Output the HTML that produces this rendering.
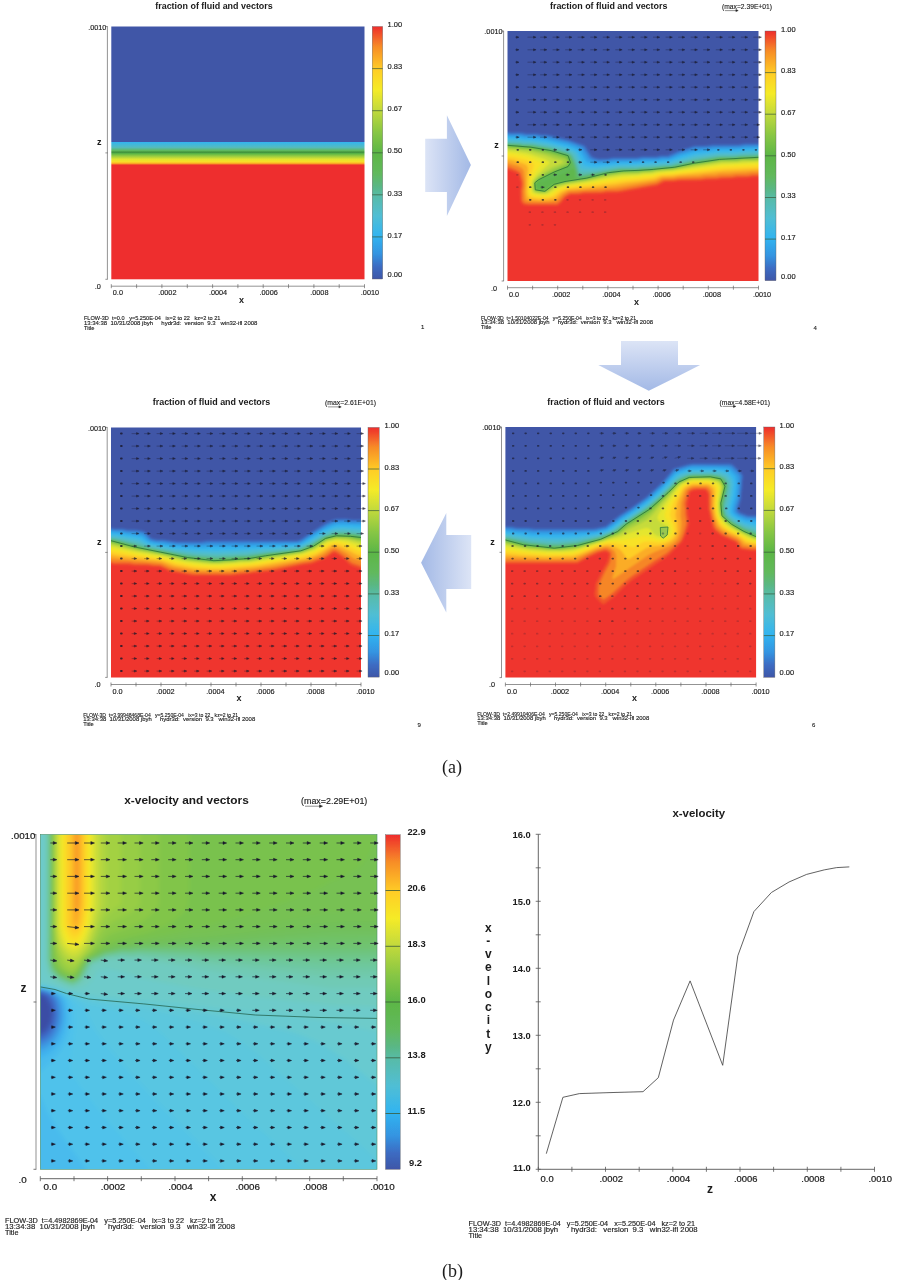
<!DOCTYPE html>
<html lang="en"><head><meta charset="utf-8"><title>Fraction of fluid and x-velocity plots</title>
<style>html,body{margin:0;padding:0;background:#fff}svg{display:block}</style></head>
<body>
<svg width="904" height="1280" viewBox="0 0 904 1280" font-family="Liberation Sans, sans-serif" fill="#1a1a1a">
<defs><filter id="bl" x="-5%" y="-5%" width="110%" height="110%"><feGaussianBlur stdDeviation="1.1"/></filter>
<filter id="bl2" x="-5%" y="-5%" width="110%" height="110%"><feGaussianBlur stdDeviation="2.2"/></filter>
<filter id="soft" x="0" y="0" width="100%" height="100%"><feGaussianBlur stdDeviation="0.35"/></filter>
<linearGradient id="g1" x1="0" y1="0" x2="0" y2="1"><stop offset="0" stop-color="#3f56a7"/><stop offset="0.455" stop-color="#3f56a7"/><stop offset="0.457" stop-color="#32b4f0"/><stop offset="0.478" stop-color="#54bcbe"/><stop offset="0.492" stop-color="#60b856"/><stop offset="0.497" stop-color="#3c8c3c"/><stop offset="0.503" stop-color="#5cb646"/><stop offset="0.512" stop-color="#94ca42"/><stop offset="0.525" stop-color="#e2e530"/><stop offset="0.536" stop-color="#fadc28"/><stop offset="0.543" stop-color="#f99a28"/><stop offset="0.548" stop-color="#ee2d2d"/><stop offset="1" stop-color="#ee2d2d"/></linearGradient>
<linearGradient id="cb1" x1="0" y1="0" x2="0" y2="1"><stop offset="0" stop-color="#ee2d2d"/><stop offset="0.08" stop-color="#f78c28"/><stop offset="0.17" stop-color="#ffcd28"/><stop offset="0.25" stop-color="#f5eb28"/><stop offset="0.33" stop-color="#c3da3c"/><stop offset="0.42" stop-color="#87c644"/><stop offset="0.5" stop-color="#5cb646"/><stop offset="0.58" stop-color="#62b95c"/><stop offset="0.63" stop-color="#5ab782"/><stop offset="0.67" stop-color="#58bba8"/><stop offset="0.75" stop-color="#50bed4"/><stop offset="0.83" stop-color="#32b4f0"/><stop offset="0.9" stop-color="#3494e1"/><stop offset="0.95" stop-color="#3c6cc3"/><stop offset="1" stop-color="#3f56a7"/></linearGradient>
<clipPath id="p2"><rect x="507.5" y="31" width="251" height="250"/></clipPath>
<linearGradient id="cbp2" x1="0" y1="0" x2="0" y2="1"><stop offset="0" stop-color="#ee2d2d"/><stop offset="0.08" stop-color="#f78c28"/><stop offset="0.17" stop-color="#ffcd28"/><stop offset="0.25" stop-color="#f5eb28"/><stop offset="0.33" stop-color="#c3da3c"/><stop offset="0.42" stop-color="#87c644"/><stop offset="0.5" stop-color="#5cb646"/><stop offset="0.58" stop-color="#62b95c"/><stop offset="0.63" stop-color="#5ab782"/><stop offset="0.67" stop-color="#58bba8"/><stop offset="0.75" stop-color="#50bed4"/><stop offset="0.83" stop-color="#32b4f0"/><stop offset="0.9" stop-color="#3494e1"/><stop offset="0.95" stop-color="#3c6cc3"/><stop offset="1" stop-color="#3f56a7"/></linearGradient>
<clipPath id="p3"><rect x="111" y="427.4" width="250" height="250"/></clipPath>
<linearGradient id="cbp3" x1="0" y1="0" x2="0" y2="1"><stop offset="0" stop-color="#ee2d2d"/><stop offset="0.08" stop-color="#f78c28"/><stop offset="0.17" stop-color="#ffcd28"/><stop offset="0.25" stop-color="#f5eb28"/><stop offset="0.33" stop-color="#c3da3c"/><stop offset="0.42" stop-color="#87c644"/><stop offset="0.5" stop-color="#5cb646"/><stop offset="0.58" stop-color="#62b95c"/><stop offset="0.63" stop-color="#5ab782"/><stop offset="0.67" stop-color="#58bba8"/><stop offset="0.75" stop-color="#50bed4"/><stop offset="0.83" stop-color="#32b4f0"/><stop offset="0.9" stop-color="#3494e1"/><stop offset="0.95" stop-color="#3c6cc3"/><stop offset="1" stop-color="#3f56a7"/></linearGradient>
<clipPath id="p4"><rect x="505.4" y="427" width="250.7" height="250.6"/></clipPath>
<linearGradient id="cbp4" x1="0" y1="0" x2="0" y2="1"><stop offset="0" stop-color="#ee2d2d"/><stop offset="0.08" stop-color="#f78c28"/><stop offset="0.17" stop-color="#ffcd28"/><stop offset="0.25" stop-color="#f5eb28"/><stop offset="0.33" stop-color="#c3da3c"/><stop offset="0.42" stop-color="#87c644"/><stop offset="0.5" stop-color="#5cb646"/><stop offset="0.58" stop-color="#62b95c"/><stop offset="0.63" stop-color="#5ab782"/><stop offset="0.67" stop-color="#58bba8"/><stop offset="0.75" stop-color="#50bed4"/><stop offset="0.83" stop-color="#32b4f0"/><stop offset="0.9" stop-color="#3494e1"/><stop offset="0.95" stop-color="#3c6cc3"/><stop offset="1" stop-color="#3f56a7"/></linearGradient>
<linearGradient id="ar1" gradientUnits="userSpaceOnUse" x1="425" y1="0" x2="471" y2="0"><stop offset="0" stop-color="#dce4f6"/><stop offset="1" stop-color="#a3b9e6"/></linearGradient>
<linearGradient id="ar2" gradientUnits="userSpaceOnUse" x1="0" y1="341" x2="0" y2="391"><stop offset="0" stop-color="#dce4f6"/><stop offset="1" stop-color="#a3b9e6"/></linearGradient>
<linearGradient id="ar3" gradientUnits="userSpaceOnUse" x1="471" y1="0" x2="421" y2="0"><stop offset="0" stop-color="#dce4f6"/><stop offset="1" stop-color="#a3b9e6"/></linearGradient>
<clipPath id="p5"><rect x="40.3" y="834.6" width="336.7" height="334.7"/></clipPath>
<linearGradient id="cb5" x1="0" y1="0" x2="0" y2="1"><stop offset="0" stop-color="#ee2d2d"/><stop offset="0.08" stop-color="#f78c28"/><stop offset="0.17" stop-color="#ffcd28"/><stop offset="0.25" stop-color="#f5eb28"/><stop offset="0.33" stop-color="#c3da3c"/><stop offset="0.42" stop-color="#87c644"/><stop offset="0.5" stop-color="#5cb646"/><stop offset="0.58" stop-color="#62b95c"/><stop offset="0.63" stop-color="#5ab782"/><stop offset="0.67" stop-color="#58bba8"/><stop offset="0.75" stop-color="#50bed4"/><stop offset="0.83" stop-color="#32b4f0"/><stop offset="0.9" stop-color="#3494e1"/><stop offset="0.95" stop-color="#3c6cc3"/><stop offset="1" stop-color="#3f56a7"/></linearGradient>
</defs>
<g filter="url(#soft)">
<rect x="111.3" y="26.5" width="253.2" height="252.8" fill="url(#g1)"/>
<path d="M107.4,26.5L107.4,279.3" stroke="#777" stroke-width="0.8" fill="none"/>
<path d="M105.4,26.5L107.7,26.5" stroke="#666" stroke-width="0.7" fill="none"/>
<path d="M105.4,152.9L107.7,152.9" stroke="#666" stroke-width="0.7" fill="none"/>
<path d="M105.4,279.3L107.7,279.3" stroke="#666" stroke-width="0.7" fill="none"/>
<path d="M111.3,286.2L364.5,286.2" stroke="#777" stroke-width="0.8" fill="none"/>
<path d="M111.3,284.2L111.3,288.2" stroke="#666" stroke-width="0.7" fill="none"/>
<path d="M136.6,284.2L136.6,288.2" stroke="#666" stroke-width="0.7" fill="none"/>
<path d="M161.9,284.2L161.9,288.2" stroke="#666" stroke-width="0.7" fill="none"/>
<path d="M187.3,284.2L187.3,288.2" stroke="#666" stroke-width="0.7" fill="none"/>
<path d="M212.6,284.2L212.6,288.2" stroke="#666" stroke-width="0.7" fill="none"/>
<path d="M237.9,284.2L237.9,288.2" stroke="#666" stroke-width="0.7" fill="none"/>
<path d="M263.2,284.2L263.2,288.2" stroke="#666" stroke-width="0.7" fill="none"/>
<path d="M288.5,284.2L288.5,288.2" stroke="#666" stroke-width="0.7" fill="none"/>
<path d="M313.9,284.2L313.9,288.2" stroke="#666" stroke-width="0.7" fill="none"/>
<path d="M339.2,284.2L339.2,288.2" stroke="#666" stroke-width="0.7" fill="none"/>
<path d="M364.5,284.2L364.5,288.2" stroke="#666" stroke-width="0.7" fill="none"/>
<text x="112.8" y="295.3" font-size="7.3" stroke="#1a1a1a" stroke-width="0.15">0.0</text>
<text x="158.2" y="295.3" font-size="7.3" stroke="#1a1a1a" stroke-width="0.15">.0002</text>
<text x="208.9" y="295.3" font-size="7.3" stroke="#1a1a1a" stroke-width="0.15">.0004</text>
<text x="259.5" y="295.3" font-size="7.3" stroke="#1a1a1a" stroke-width="0.15">.0006</text>
<text x="310.2" y="295.3" font-size="7.3" stroke="#1a1a1a" stroke-width="0.15">.0008</text>
<text x="360.8" y="295.3" font-size="7.3" stroke="#1a1a1a" stroke-width="0.15">.0010</text>
<text x="106.4" y="29.8" font-size="7.3" text-anchor="end" stroke="#1a1a1a" stroke-width="0.15">.0010</text>
<text x="100.9" y="289.1" font-size="7.3" text-anchor="end" stroke="#1a1a1a" stroke-width="0.15">.0</text>
<text x="99.3" y="145" font-size="9" font-weight="bold" text-anchor="middle">z</text>
<text x="241.4" y="302.5" font-size="9" font-weight="bold" text-anchor="middle">x</text>
<rect x="372.2" y="26.5" width="10.5" height="252.5" fill="url(#cb1)" stroke="#666" stroke-width="0.4"/>
<text x="387.5" y="27.2" font-size="7.5" stroke="#1a1a1a" stroke-width="0.15">1.00</text>
<path d="M372.2,68.6L382.7,68.6" stroke="#3a5a3a" stroke-width="0.7" fill="none"/>
<text x="387.5" y="69.3" font-size="7.5" stroke="#1a1a1a" stroke-width="0.15">0.83</text>
<path d="M372.2,110.7L382.7,110.7" stroke="#3a5a3a" stroke-width="0.7" fill="none"/>
<text x="387.5" y="111.4" font-size="7.5" stroke="#1a1a1a" stroke-width="0.15">0.67</text>
<path d="M372.2,152.8L382.7,152.8" stroke="#3a5a3a" stroke-width="0.7" fill="none"/>
<text x="387.5" y="153.4" font-size="7.5" stroke="#1a1a1a" stroke-width="0.15">0.50</text>
<path d="M372.2,194.8L382.7,194.8" stroke="#3a5a3a" stroke-width="0.7" fill="none"/>
<text x="387.5" y="195.5" font-size="7.5" stroke="#1a1a1a" stroke-width="0.15">0.33</text>
<path d="M372.2,236.9L382.7,236.9" stroke="#3a5a3a" stroke-width="0.7" fill="none"/>
<text x="387.5" y="237.6" font-size="7.5" stroke="#1a1a1a" stroke-width="0.15">0.17</text>
<text x="387.5" y="277.1" font-size="7.5" stroke="#1a1a1a" stroke-width="0.15">0.00</text>
<text x="214" y="9" font-size="9" font-weight="bold" text-anchor="middle" textLength="117.5" lengthAdjust="spacingAndGlyphs">fraction of fluid and vectors</text>
<text x="83.9" y="320.3" font-size="5.4" textLength="136.5" lengthAdjust="spacingAndGlyphs" stroke="#1a1a1a" stroke-width="0.12" style="white-space:pre">FLOW-3D  t=0.0   y=5.250E-04   ix=2 to 22   kz=2 to 21</text>
<text x="83.9" y="325.1" font-size="5.4" textLength="173.5" lengthAdjust="spacingAndGlyphs" stroke="#1a1a1a" stroke-width="0.12" style="white-space:pre">13:34:38  10/31/2008 jbyh     hydr3d:  version  9.3   win32-ifl 2008</text>
<text x="83.9" y="329.9" font-size="5.4" textLength="10.5" lengthAdjust="spacingAndGlyphs" stroke="#1a1a1a" stroke-width="0.12">Title</text>
<text x="421" y="329" font-size="6" stroke="#1a1a1a" stroke-width="0.12">1</text>
<g clip-path="url(#p2)">
<g filter="url(#bl)">
<rect x="499.5" y="23" width="267" height="266" fill="#3f56a7"/>
<path fill="#3c6cc3" d="M501.5,132.5 501.5,131.6 506.5,131.6 510.5,132.5 522.5,132.6 526.5,133.5 537.5,133.6 541.5,134.5 547.5,134.6 569.5,139.8 584.5,145.2 585.8,146.5 588.5,151.6 591.5,155.8 594.5,157.4 598.5,158.5 607.5,158.5 612.5,157.6 636.5,157.6 641.5,156.6 656.5,156.5 660.5,155.6 667.5,155.5 677.5,151.1 694.5,145.7 707.5,145.5 712.5,144.6 738.5,144.6 744.5,143.6 765.5,143.6 765.5,288.5 501.5,288.5Z"/>
<path fill="#368cdb" d="M501.5,133.5 501.5,133.1 505.5,133.1 510.5,134 521.5,134.1 525.5,135 536.5,135.1 540.5,136 547.5,136.3 569.5,141.5 583.5,146.8 590.5,157.4 593.5,159 598.5,160.2 607.5,160.1 612.5,159.1 637.5,159 642.5,158.1 656.5,158 661.5,157.1 668.5,156.9 678.5,152.5 694.5,147.3 707.5,147.1 712.5,146.2 739.5,146.1 744.5,145.1 765.5,145.1 765.5,288.5 501.5,288.5Z"/>
<path fill="#33a2e7" d="M501.5,135.5 501.5,134.5 505.5,134.6 509.5,135.4 520.5,135.6 525.5,136.5 535.5,136.6 540.5,137.6 546.5,137.8 568.5,143.1 577.5,146.3 581.8,148.5 588.5,158.9 591.5,160.6 597.5,161.9 608.5,161.6 613.5,160.7 637.5,160.5 642.5,159.6 657.5,159.4 661.5,158.5 668.5,158.4 679.5,154 695.5,149.2 708.5,148.8 713.5,147.8 734.5,147.7 740.5,147.5 745.5,146.7 765.5,146.5 765.5,288.5 501.5,288.5Z"/>
<path fill="#34b5ee" d="M501.5,136.5 504.5,136.3 511.5,137.2 520.5,137.3 524.5,138.2 534.5,138.4 545.5,139.7 567.5,144.9 575.5,147.9 579.8,150.5 585.5,160.2 587.5,162.2 595.5,164.1 608.5,163.5 617.5,162.3 636.5,162.2 643.5,161.3 657.5,160.9 662.5,160.1 669.5,159.9 680.5,155.8 693.5,152 697.5,151.3 708.5,150.8 717.5,149.6 734.5,149.5 745.5,148.6 765.5,148.2 765.5,288.5 501.5,288.5Z"/>
<path fill="#47bbdd" d="M501.5,138.5 519.5,139.4 524.5,140.3 532.5,140.4 544.5,141.9 550.5,143 567.5,147.4 573.5,149.7 577.4,152.5 583.5,164.4 584.5,165.4 588.5,166.4 594.5,166.9 618.5,164.4 636.5,164.3 643.5,163.4 669.5,161.8 694.5,154.5 717.5,151.9 734.5,151.8 746.5,150.8 765.5,150.3 765.5,288.5 501.5,288.5Z"/>
<path fill="#52bdc6" d="M501.5,140.5 504.5,140.2 511.5,141.1 519.5,141.2 524.5,142.1 532.5,142.3 549.5,144.9 568.5,149.9 572.5,151.8 575.5,154.5 578.4,160.5 580.5,167.9 582.5,169.1 586.5,169.5 595.5,169.3 619.5,166.2 636.5,166.1 670.5,163.5 694.5,156.9 718.5,153.9 734.5,153.8 745.5,152.8 765.5,152.2 765.5,288.5 501.5,288.5Z"/>
<path fill="#58bbab" d="M501.5,142.5 501.5,141.8 504.5,141.8 511.5,142.7 519.5,142.9 523.5,143.7 531.5,143.8 549.5,146.7 568.5,151.9 571.5,153.5 573.2,155.5 576.3,161.5 579.1,170.5 580.5,172 582.5,172.5 595.5,171.5 619.5,167.8 636.5,167.7 641.5,167 670.5,164.9 694.5,159 719.5,155.6 735.5,155.5 740.5,154.8 765.5,153.8 765.5,288.5 501.5,288.5Z"/>
<path fill="#5bb77e" d="M501.5,143.5 501.5,143 505.5,143 510.5,143.9 518.5,144 522.5,144.9 531.5,145.1 548.5,148 567.5,153.1 571,155.5 574.4,161.5 578.5,173.4 579.5,174.5 582.5,175.2 620.5,169 637.5,168.9 641.5,168.1 650.5,167.9 665.5,166.1 671.5,166 694.5,160.7 719.5,156.9 735.5,156.8 740.5,156 754.5,155.8 759.5,155 765.5,155 765.5,288.5 501.5,288.5Z"/>
<path fill="#62b95b" d="M501.5,144.5 501.5,143.8 505.5,143.9 510.5,144.8 518.5,144.9 522.5,145.8 530.5,145.9 548.5,149 567.5,154.3 570.1,156.5 573,162.5 575.6,168.5 577.5,176.2 578.5,177 579.5,177.1 584.5,176.8 606.5,171.9 620.5,169.9 637.5,169.8 641.5,168.9 650.5,168.8 654.5,167.9 672.5,166.7 694.5,161.8 720.5,157.8 736.5,157.7 740.5,156.9 755.5,156.7 759.5,155.9 765.5,155.8 765.5,288.5 501.5,288.5Z"/>
<path fill="#5eb74d" d="M501.5,145.5 501.5,144.6 505.5,144.6 510.5,145.5 518.5,145.6 522.5,146.5 530.5,146.7 548.5,149.9 556.5,151.9 566.5,154.8 569,156.5 571.4,162.5 571.2,164.5 569.5,167.5 555.6,173.5 549.5,177.2 545.4,178.5 540.3,181.5 540.1,182.5 540.5,182.6 549.5,178.4 563.5,173.1 572.5,168.6 573.5,168.9 574.5,171.1 574.8,174.5 574.4,177.5 576.1,178.5 578.5,178.7 584.5,177.9 606.5,172.7 613.5,171.6 621.5,170.5 637.5,170.5 641.5,169.6 650.5,169.4 654.5,168.6 672.5,167.3 695.5,162.4 699.5,162.2 720.5,158.5 736.5,158.4 740.5,157.6 755.5,157.4 759.5,156.6 765.5,156.5 765.5,288.5 501.5,288.5Z"/>
<path fill="#69bb45" d="M501.5,145.5 505.5,145.2 509.5,146.1 518.5,146.3 521.5,147.1 530.5,147.4 538.5,149.2 547.8,150.5 563.5,154.7 567.9,156.5 569.5,159.5 570.3,162.5 569.8,164.5 568.5,166.5 543.8,177.5 540.1,179.5 536.5,182.6 535.8,184.5 536.1,188.5 541.5,190.1 545.5,189.7 553.5,183.9 558.5,182.6 569.5,180.4 584.5,178.7 606.5,173.4 613.5,172.2 621.5,171.1 637.5,171 641.5,170.2 650.5,170 654.5,169.1 672.5,167.9 695.5,163.1 699.5,162.9 720.5,159.2 736.5,159 741.5,158.1 755.5,158 759.5,157.2 765.5,157.1 765.5,288.5 501.5,288.5Z"/>
<path fill="#84c544" d="M501.5,146.5 501.5,145.9 505.5,145.9 509.5,146.8 517.5,146.9 521.5,147.9 530.5,148.2 547.5,151.3 562.9,155.5 567.4,157.5 569.2,162.5 568.6,164.5 567.5,165.8 544.5,176 539.5,178.8 535.5,182.3 534.9,184.5 535.5,189.5 541.5,191.1 545.5,190.8 553.5,185.1 559.5,183.3 569.5,181.3 585.5,179.1 607.5,173.9 613.5,172.9 621.5,171.8 637.5,171.6 642.5,170.7 650.5,170.6 655.5,169.6 672.5,168.4 695.5,163.7 699.5,163.5 721.5,159.8 736.5,159.7 741.5,158.8 755.5,158.7 760.5,157.8 765.5,157.7 765.5,288.5 501.5,288.5Z"/>
<path fill="#a5d040" d="M501.5,147.5 501.5,146.7 505.5,146.8 509.5,147.6 517.5,147.9 521.5,148.8 529.5,149.1 546.5,152.7 565.8,158.5 567.5,161.5 567.3,163.5 566.5,164.5 554.5,169.7 543.5,175.2 538.5,178.3 535,181.5 534.2,183.5 534.5,189.7 535.5,190.7 541.5,192 546,191.5 553.5,186.2 559.5,184.2 569.5,182.1 585.5,179.9 607.5,174.7 614.5,173.6 622.3,172.5 638.5,172.3 642.5,171.4 651.5,171.2 655.5,170.2 672.5,169 695.5,164.5 700.5,164.1 721.5,160.5 737.5,160.4 741.5,159.5 756.5,159.4 760.5,158.5 765.5,158.5 765.5,288.5 501.5,288.5Z"/>
<path fill="#c6db3b" d="M501.5,148.5 505.5,148.3 529.5,151.1 546.1,155.5 555.5,158.9 562.2,160.5 563.3,161.5 563,162.5 561.5,163.5 552.5,167.2 543.5,172.9 538.5,176.5 533.8,181.5 533.2,185.5 533.7,190.5 535.5,191.9 540.5,192.9 546.5,192.4 554.5,187 559.5,185.2 569.5,183 585.5,180.8 608.5,175.7 622.5,173.7 638.5,173.3 642.5,172.4 651.5,172.1 655.5,171.1 666.5,169.9 672.5,169.8 695.9,165.5 721.5,161.7 737.5,161.4 742.5,160.6 756.5,160.4 760.5,159.7 765.5,159.6 765.5,288.5 501.5,288.5Z"/>
<path fill="#e5e62e" d="M501.5,150.5 515.5,151.5 528.5,153.7 544.5,159 549.3,161.5 549.8,162.5 549.4,163.5 537.5,174.4 533.5,179.4 532.4,181.5 532.1,188.5 532.6,191.5 534.5,193.1 540.5,194.1 545.5,194 547.5,193.5 555.5,188.2 565.5,184.9 586.5,181.9 608.5,177.5 622.5,175.4 638.5,174.7 643.5,173.8 652.5,173.3 657.5,172 672.5,170.8 722.5,163.4 737.5,163.1 742.5,162.4 765.5,161.3 765.5,288.5 501.5,288.5Z"/>
<path fill="#f8e228" d="M501.5,153.5 501.5,152.9 503.5,152.9 514.5,154.1 527.5,156.7 537.5,160.7 540.6,162.5 541.2,163.5 540.9,164.5 535.5,172 531.5,179.1 530.8,182.5 530.7,189.5 531.1,192.5 532.5,194.2 540.5,195.6 545.5,195.6 548.5,195 552.5,193 557.1,189.5 565.5,186.3 590.5,182.9 608.5,179.6 623.5,177.5 638.5,176.6 644.5,175.5 652.5,175 659.5,173.2 673.5,172.1 722.5,165.5 765.5,163.4 765.5,288.5 501.5,288.5Z"/>
<path fill="#fecf28" d="M501.5,156.5 501.5,155.8 503.5,155.9 514.5,157.2 526.5,160.2 532.9,163.5 533.6,164.5 533.5,166.5 529.3,179.5 529,192.5 529.6,194.5 531.5,196.2 539.5,197.4 546.5,197.3 550.3,196.5 553.5,195.2 557.5,191.8 561.5,189.6 566.5,187.7 570.5,187.1 598.5,183.8 623.5,180 652.5,176.9 661.5,174.5 672.5,173.9 722.5,168 765.5,165.9 765.5,288.5 501.5,288.5Z"/>
<path fill="#fbac28" d="M501.5,159.5 501.5,159.1 507.9,159.5 513.5,160.5 524.5,163.9 527.1,165.5 528.1,169.5 527.2,177.5 526.7,191.5 527.5,196 528.3,197.5 529.5,198.2 538.5,199.4 547.5,199.3 553.5,198.1 555.5,197.1 560.8,192.5 567.5,189.3 599.5,186.2 604.5,185.2 614.5,184.4 624.5,182.7 638.5,181.2 654.5,178.9 661.5,176.3 672.5,175.7 677.5,174.9 699.5,173.2 722.5,170.7 765.5,168.6 765.5,288.5 501.5,288.5Z"/>
<path fill="#f68628" d="M501.5,163.5 501.5,162.7 509.5,163.4 518.5,166.3 522.4,168.5 524,171.5 525.1,181.5 525.2,186.5 524.5,191.5 525.5,199.2 526.5,200.2 528.5,200.9 537.5,201.6 548.5,201.5 555.5,200.6 557.5,199.2 562.5,194.3 568.5,191.1 615.5,187.4 655.5,181.2 662.5,178.1 673.5,177.7 678.5,176.8 699.5,176 704.5,175.1 715.5,174.7 719.5,173.8 730.5,173.5 734.5,172.9 746.5,172.5 751.5,171.8 765.5,171.6 765.5,288.5 501.5,288.5Z"/>
<path fill="#f2542b" d="M501.5,166.5 506.5,166.5 510.5,167.6 516.5,169.9 520.5,172.5 523.1,182.5 523,186.5 522.2,190.5 522.6,200.5 524.5,202.7 528.5,203.6 556.5,203.4 559.4,201.5 564.5,195.8 569.5,193 578.5,192.8 583.5,191.8 601.5,191.6 606.5,190.6 617.5,190.4 656.5,183.6 663.5,180 673.5,179.8 678.5,178.9 700.5,178.6 705.5,177.7 716.5,177.5 720.5,176.7 731.5,176.5 736.5,175.6 747.5,175.5 752.5,174.6 765.5,174.5 765.5,288.5 501.5,288.5Z"/>
<path fill="#ef362d" d="M501.5,169.5 501.5,168.6 506.5,168.9 516.1,172.5 518.9,174.5 521.2,183.5 520.3,190.5 520.6,201.5 522.5,204.1 524.5,205.2 527.5,205.6 557.5,205.4 560.5,203.4 565.5,197.5 570.5,194.8 579.5,194.6 584.5,193.7 601.5,193.6 606.5,192.7 618.5,192.4 657.5,185.4 664.5,181.8 674.5,181.6 679.5,180.7 701.5,180.6 705.5,179.7 717.5,179.6 721.5,178.7 732.5,178.6 737.5,177.7 748.5,177.6 753.5,176.7 765.5,176.6 765.5,288.5 501.5,288.5Z"/>
</g>
<path d="M507.5,145.3L531,147.2L551.1,150.6L568.1,155.7L570.5,162.7L568.1,166.5L554.2,172L538.7,179.7L534.8,182.8L535.3,189.8L544.9,191.3L554.2,184.3L565,181.5L586.7,178.1L608.4,172.7L623.9,170.9L640,170.3L653.2,169.4L674.8,167.2L694.7,163.1L719.6,159.4L758.5,157.3" fill="none" stroke="#2f7a3c" stroke-width="0.9" stroke-linejoin="round"/>
</g>
<path d="M515,37.2L516.4,37.2M527.5,37.2L533.5,37.2M540.1,37.2L544.3,37.2M552.6,37.2L556.8,37.2M565.2,37.2L569.4,37.2M577.7,37.2L581.9,37.2M590.3,37.2L594.5,37.2M602.8,37.2L607,37.2M615.4,37.2L619.6,37.2M627.9,37.2L632.1,37.2M640.5,37.2L644.7,37.2M653,37.2L657.2,37.2M665.6,37.2L669.8,37.2M678.1,37.2L682.3,37.2M690.7,37.2L694.9,37.2M703.2,37.2L707.4,37.2M715.8,37.2L720,37.2M728.3,37.2L732.5,37.2M740.9,37.2L745.1,37.2M753.4,37.2L758.8,37.2M515,49.8L516.4,49.8M527.5,49.8L533.5,49.8M540.1,49.8L544.3,49.8M552.6,49.8L556.8,49.8M565.2,49.8L569.4,49.8M577.7,49.8L581.9,49.8M590.3,49.8L594.5,49.8M602.8,49.8L607,49.8M615.4,49.8L619.6,49.8M627.9,49.8L632.1,49.8M640.5,49.8L644.7,49.8M653,49.8L657.2,49.8M665.6,49.8L669.8,49.8M678.1,49.8L682.3,49.8M690.7,49.8L694.9,49.8M703.2,49.8L707.4,49.8M715.8,49.8L720,49.8M728.3,49.8L732.5,49.8M740.9,49.8L745.1,49.8M753.4,49.8L758.8,49.8M515,62.2L516.4,62.2M527.5,62.2L533.5,62.2M540.1,62.2L544.3,62.2M552.6,62.2L556.8,62.2M565.2,62.2L569.4,62.2M577.7,62.2L581.9,62.2M590.3,62.2L594.5,62.2M602.8,62.2L607,62.2M615.4,62.2L619.6,62.2M627.9,62.2L632.1,62.2M640.5,62.2L644.7,62.2M653,62.2L657.2,62.2M665.6,62.2L669.8,62.2M678.1,62.2L682.3,62.2M690.7,62.2L694.9,62.2M703.2,62.2L707.4,62.2M715.8,62.2L720,62.2M728.3,62.2L732.5,62.2M740.9,62.2L745.1,62.2M753.4,62.2L758.8,62.2M515,74.8L516.4,74.8M527.5,74.8L533.5,74.8M540.1,74.8L544.3,74.8M552.6,74.8L556.8,74.8M565.2,74.8L569.4,74.8M577.7,74.8L581.9,74.8M590.3,74.8L594.5,74.8M602.8,74.8L607,74.8M615.4,74.8L619.6,74.8M627.9,74.8L632.1,74.8M640.5,74.8L644.7,74.8M653,74.8L657.2,74.8M665.6,74.8L669.8,74.8M678.1,74.8L682.3,74.8M690.7,74.8L694.9,74.8M703.2,74.8L707.4,74.8M715.8,74.8L720,74.8M728.3,74.8L732.5,74.8M740.9,74.8L745.1,74.8M753.4,74.8L758.8,74.8M515,87.2L516.4,87.2M527.5,87.2L533.5,87.2M540.1,87.2L544.3,87.2M552.6,87.2L556.8,87.2M565.2,87.2L569.4,87.2M577.7,87.2L581.9,87.2M590.3,87.2L594.5,87.2M602.8,87.2L607,87.2M615.4,87.2L619.6,87.2M627.9,87.2L632.1,87.2M640.5,87.2L644.7,87.2M653,87.2L657.2,87.2M665.6,87.2L669.8,87.2M678.1,87.2L682.3,87.2M690.7,87.2L694.9,87.2M703.2,87.2L707.4,87.2M715.8,87.2L720,87.2M728.3,87.2L732.5,87.2M740.9,87.2L745.1,87.2M753.4,87.2L758.8,87.2M515,99.8L516.4,99.8M527.5,99.8L533.5,99.8M540.1,99.8L544.3,99.8M552.6,99.8L556.8,99.8M565.2,99.8L569.4,99.8M577.7,99.8L581.9,99.8M590.3,99.8L594.5,99.8M602.8,99.8L607,99.8M615.4,99.8L619.6,99.8M627.9,99.8L632.1,99.8M640.5,99.8L644.7,99.8M653,99.8L657.2,99.8M665.6,99.8L669.8,99.8M678.1,99.8L682.3,99.8M690.7,99.8L694.9,99.8M703.2,99.8L707.4,99.8M715.8,99.8L720,99.8M728.3,99.8L732.5,99.8M740.9,99.8L745.1,99.8M753.4,99.8L758.8,99.8M515,112.2L516.4,112.2M527.5,112.2L533.5,112.2M540.1,112.2L544.3,112.2M552.6,112.2L556.8,112.2M565.2,112.2L569.4,112.2M577.7,112.2L581.9,112.2M590.3,112.2L594.5,112.2M602.8,112.2L607,112.2M615.4,112.2L619.6,112.2M627.9,112.2L632.1,112.2M640.5,112.2L644.7,112.2M653,112.2L657.2,112.2M665.6,112.2L669.8,112.2M678.1,112.2L682.3,112.2M690.7,112.2L694.9,112.2M703.2,112.2L707.4,112.2M715.8,112.2L720,112.2M728.3,112.2L732.5,112.2M740.9,112.2L745.1,112.2M753.4,112.2L758.8,112.2M515,124.8L516.4,124.8M527.5,124.8L533.5,124.8M540.1,124.8L544.3,124.8M552.6,124.8L556.8,124.8M565.2,124.8L569.4,124.8M577.7,124.8L581.9,124.8M590.3,124.8L594.5,124.8M602.8,124.8L607,124.8M615.4,124.8L619.6,124.8M627.9,124.8L632.1,124.8M640.5,124.8L644.7,124.8M653,124.8L657.2,124.8M665.6,124.8L669.8,124.8M678.1,124.8L682.3,124.8M690.7,124.8L694.9,124.8M703.2,124.8L707.4,124.8M715.8,124.8L720,124.8M728.3,124.8L732.5,124.8M740.9,124.8L745.1,124.8M753.4,124.8L757.1,124.8M515.3,137.2L516.7,137.2M527.5,137.2L533.5,137.2M540.1,137.2L544.3,137.2M552.6,137.2L556.8,137.2M565.2,137.2L569.4,137.2M577.7,137.2L581.9,137.2M590.3,137.2L594.5,137.2M602.8,137.2L607,137.2M615.4,137.2L619.6,137.2M627.9,137.2L632.1,137.2M640.5,137.2L644.7,137.2M653,137.2L657.2,137.2M665.6,137.2L669.8,137.2M678.1,137.2L682.3,137.2M690.7,137.2L694.9,137.2M703.2,137.2L707.4,137.2M715.8,137.2L720,137.2M728.3,137.2L732.5,137.2M740.9,137.2L745.1,137.2M753.4,137.2L757.1,137.2M552.9,149.8L554.3,149.8M565.5,149.8L566.9,149.8M578,149.8L579.4,149.8M590.3,149.8L594.5,149.8M602.8,149.8L607,149.8M615.4,149.8L619.6,149.8M627.9,149.8L632.1,149.8M640.5,149.8L644.7,149.8M653,149.8L657.2,149.8M665.6,149.8L669.8,149.8M678.1,149.8L682.3,149.8M690.7,149.8L694.9,149.8M703.2,149.8L707.4,149.8M578,162.2L579.4,162.2M590.3,162.2L594.5,162.2M602.8,162.2L607,162.2M552.9,174.8L554.3,174.8M565.5,174.8L566.9,174.8M578,174.8L579.4,174.8M590.6,174.8L592,174.8M540.4,187.2L541.8,187.2" stroke="#1a1a2c" stroke-width="0.42" fill="none" opacity="0.82"/>
<path d="M519,37.2L516.4,38.2L516.4,36.2ZM536.1,37.2L533.5,38.2L533.5,36.2ZM546.9,37.2L544.3,38.2L544.3,36.2ZM559.4,37.2L556.8,38.2L556.8,36.2ZM572,37.2L569.4,38.2L569.4,36.2ZM584.5,37.2L581.9,38.2L581.9,36.2ZM597.1,37.2L594.5,38.2L594.5,36.2ZM609.6,37.2L607,38.2L607,36.2ZM622.2,37.2L619.6,38.2L619.6,36.2ZM634.7,37.2L632.1,38.2L632.1,36.2ZM647.3,37.2L644.7,38.2L644.7,36.2ZM659.8,37.2L657.2,38.2L657.2,36.2ZM672.4,37.2L669.8,38.2L669.8,36.2ZM684.9,37.2L682.3,38.2L682.3,36.2ZM697.5,37.2L694.9,38.2L694.9,36.2ZM710,37.2L707.4,38.2L707.4,36.2ZM722.6,37.2L720,38.2L720,36.2ZM735.1,37.2L732.5,38.2L732.5,36.2ZM747.7,37.2L745.1,38.2L745.1,36.2ZM761.4,37.2L758.8,38.2L758.8,36.2ZM519,49.8L516.4,50.8L516.4,48.8ZM536.1,49.8L533.5,50.8L533.5,48.8ZM546.9,49.8L544.3,50.8L544.3,48.8ZM559.4,49.8L556.8,50.8L556.8,48.8ZM572,49.8L569.4,50.8L569.4,48.8ZM584.5,49.8L581.9,50.8L581.9,48.8ZM597.1,49.8L594.5,50.8L594.5,48.8ZM609.6,49.8L607,50.8L607,48.8ZM622.2,49.8L619.6,50.8L619.6,48.8ZM634.7,49.8L632.1,50.8L632.1,48.8ZM647.3,49.8L644.7,50.8L644.7,48.8ZM659.8,49.8L657.2,50.8L657.2,48.8ZM672.4,49.8L669.8,50.8L669.8,48.8ZM684.9,49.8L682.3,50.8L682.3,48.8ZM697.5,49.8L694.9,50.8L694.9,48.8ZM710,49.8L707.4,50.8L707.4,48.8ZM722.6,49.8L720,50.8L720,48.8ZM735.1,49.8L732.5,50.8L732.5,48.8ZM747.7,49.8L745.1,50.8L745.1,48.8ZM761.4,49.8L758.8,50.8L758.8,48.8ZM519,62.2L516.4,63.2L516.4,61.2ZM536.1,62.2L533.5,63.2L533.5,61.2ZM546.9,62.2L544.3,63.2L544.3,61.2ZM559.4,62.2L556.8,63.2L556.8,61.2ZM572,62.2L569.4,63.2L569.4,61.2ZM584.5,62.2L581.9,63.2L581.9,61.2ZM597.1,62.2L594.5,63.2L594.5,61.2ZM609.6,62.2L607,63.2L607,61.2ZM622.2,62.2L619.6,63.2L619.6,61.2ZM634.7,62.2L632.1,63.2L632.1,61.2ZM647.3,62.2L644.7,63.2L644.7,61.2ZM659.8,62.2L657.2,63.2L657.2,61.2ZM672.4,62.2L669.8,63.2L669.8,61.2ZM684.9,62.2L682.3,63.2L682.3,61.2ZM697.5,62.2L694.9,63.2L694.9,61.2ZM710,62.2L707.4,63.2L707.4,61.2ZM722.6,62.2L720,63.2L720,61.2ZM735.1,62.2L732.5,63.2L732.5,61.2ZM747.7,62.2L745.1,63.2L745.1,61.2ZM761.4,62.2L758.8,63.2L758.8,61.2ZM519,74.8L516.4,75.8L516.4,73.8ZM536.1,74.8L533.5,75.8L533.5,73.8ZM546.9,74.8L544.3,75.8L544.3,73.8ZM559.4,74.8L556.8,75.8L556.8,73.8ZM572,74.8L569.4,75.8L569.4,73.8ZM584.5,74.8L581.9,75.8L581.9,73.8ZM597.1,74.8L594.5,75.8L594.5,73.8ZM609.6,74.8L607,75.8L607,73.8ZM622.2,74.8L619.6,75.8L619.6,73.8ZM634.7,74.8L632.1,75.8L632.1,73.8ZM647.3,74.8L644.7,75.8L644.7,73.8ZM659.8,74.8L657.2,75.8L657.2,73.8ZM672.4,74.8L669.8,75.8L669.8,73.8ZM684.9,74.8L682.3,75.8L682.3,73.8ZM697.5,74.8L694.9,75.8L694.9,73.8ZM710,74.8L707.4,75.8L707.4,73.8ZM722.6,74.8L720,75.8L720,73.8ZM735.1,74.8L732.5,75.8L732.5,73.8ZM747.7,74.8L745.1,75.8L745.1,73.8ZM761.4,74.8L758.8,75.8L758.8,73.8ZM519,87.2L516.4,88.2L516.4,86.2ZM536.1,87.2L533.5,88.2L533.5,86.2ZM546.9,87.2L544.3,88.2L544.3,86.2ZM559.4,87.2L556.8,88.2L556.8,86.2ZM572,87.2L569.4,88.2L569.4,86.2ZM584.5,87.2L581.9,88.2L581.9,86.2ZM597.1,87.2L594.5,88.2L594.5,86.2ZM609.6,87.2L607,88.2L607,86.2ZM622.2,87.2L619.6,88.2L619.6,86.2ZM634.7,87.2L632.1,88.2L632.1,86.2ZM647.3,87.2L644.7,88.2L644.7,86.2ZM659.8,87.2L657.2,88.2L657.2,86.2ZM672.4,87.2L669.8,88.2L669.8,86.2ZM684.9,87.2L682.3,88.2L682.3,86.2ZM697.5,87.2L694.9,88.2L694.9,86.2ZM710,87.2L707.4,88.2L707.4,86.2ZM722.6,87.2L720,88.2L720,86.2ZM735.1,87.2L732.5,88.2L732.5,86.2ZM747.7,87.2L745.1,88.2L745.1,86.2ZM761.4,87.2L758.8,88.2L758.8,86.2ZM519,99.8L516.4,100.8L516.4,98.8ZM536.1,99.8L533.5,100.8L533.5,98.8ZM546.9,99.8L544.3,100.8L544.3,98.8ZM559.4,99.8L556.8,100.8L556.8,98.8ZM572,99.8L569.4,100.8L569.4,98.8ZM584.5,99.8L581.9,100.8L581.9,98.8ZM597.1,99.8L594.5,100.8L594.5,98.8ZM609.6,99.8L607,100.8L607,98.8ZM622.2,99.8L619.6,100.8L619.6,98.8ZM634.7,99.8L632.1,100.8L632.1,98.8ZM647.3,99.8L644.7,100.8L644.7,98.8ZM659.8,99.8L657.2,100.8L657.2,98.8ZM672.4,99.8L669.8,100.8L669.8,98.8ZM684.9,99.8L682.3,100.8L682.3,98.8ZM697.5,99.8L694.9,100.8L694.9,98.8ZM710,99.8L707.4,100.8L707.4,98.8ZM722.6,99.8L720,100.8L720,98.8ZM735.1,99.8L732.5,100.8L732.5,98.8ZM747.7,99.8L745.1,100.8L745.1,98.8ZM761.4,99.8L758.8,100.8L758.8,98.8ZM519,112.2L516.4,113.2L516.4,111.2ZM536.1,112.2L533.5,113.2L533.5,111.2ZM546.9,112.2L544.3,113.2L544.3,111.2ZM559.4,112.2L556.8,113.2L556.8,111.2ZM572,112.2L569.4,113.2L569.4,111.2ZM584.5,112.2L581.9,113.2L581.9,111.2ZM597.1,112.2L594.5,113.2L594.5,111.2ZM609.6,112.2L607,113.2L607,111.2ZM622.2,112.2L619.6,113.2L619.6,111.2ZM634.7,112.2L632.1,113.2L632.1,111.2ZM647.3,112.2L644.7,113.2L644.7,111.2ZM659.8,112.2L657.2,113.2L657.2,111.2ZM672.4,112.2L669.8,113.2L669.8,111.2ZM684.9,112.2L682.3,113.2L682.3,111.2ZM697.5,112.2L694.9,113.2L694.9,111.2ZM710,112.2L707.4,113.2L707.4,111.2ZM722.6,112.2L720,113.2L720,111.2ZM735.1,112.2L732.5,113.2L732.5,111.2ZM747.7,112.2L745.1,113.2L745.1,111.2ZM761.4,112.2L758.8,113.2L758.8,111.2ZM519,124.8L516.4,125.8L516.4,123.8ZM536.1,124.8L533.5,125.8L533.5,123.8ZM546.9,124.8L544.3,125.8L544.3,123.8ZM559.4,124.8L556.8,125.8L556.8,123.8ZM572,124.8L569.4,125.8L569.4,123.8ZM584.5,124.8L581.9,125.8L581.9,123.8ZM597.1,124.8L594.5,125.8L594.5,123.8ZM609.6,124.8L607,125.8L607,123.8ZM622.2,124.8L619.6,125.8L619.6,123.8ZM634.7,124.8L632.1,125.8L632.1,123.8ZM647.3,124.8L644.7,125.8L644.7,123.8ZM659.8,124.8L657.2,125.8L657.2,123.8ZM672.4,124.8L669.8,125.8L669.8,123.8ZM684.9,124.8L682.3,125.8L682.3,123.8ZM697.5,124.8L694.9,125.8L694.9,123.8ZM710,124.8L707.4,125.8L707.4,123.8ZM722.6,124.8L720,125.8L720,123.8ZM735.1,124.8L732.5,125.8L732.5,123.8ZM747.7,124.8L745.1,125.8L745.1,123.8ZM759.7,124.8L757.1,125.8L757.1,123.8ZM519.3,137.2L516.7,138.2L516.7,136.2ZM536.1,137.2L533.5,138.2L533.5,136.2ZM546.9,137.2L544.3,138.2L544.3,136.2ZM559.4,137.2L556.8,138.2L556.8,136.2ZM572,137.2L569.4,138.2L569.4,136.2ZM584.5,137.2L581.9,138.2L581.9,136.2ZM597.1,137.2L594.5,138.2L594.5,136.2ZM609.6,137.2L607,138.2L607,136.2ZM622.2,137.2L619.6,138.2L619.6,136.2ZM634.7,137.2L632.1,138.2L632.1,136.2ZM647.3,137.2L644.7,138.2L644.7,136.2ZM659.8,137.2L657.2,138.2L657.2,136.2ZM672.4,137.2L669.8,138.2L669.8,136.2ZM684.9,137.2L682.3,138.2L682.3,136.2ZM697.5,137.2L694.9,138.2L694.9,136.2ZM710,137.2L707.4,138.2L707.4,136.2ZM722.6,137.2L720,138.2L720,136.2ZM735.1,137.2L732.5,138.2L732.5,136.2ZM747.7,137.2L745.1,138.2L745.1,136.2ZM759.7,137.2L757.1,138.2L757.1,136.2ZM556.9,149.8L554.3,150.8L554.3,148.8ZM569.5,149.8L566.9,150.8L566.9,148.8ZM582,149.8L579.4,150.8L579.4,148.8ZM597.1,149.8L594.5,150.8L594.5,148.8ZM609.6,149.8L607,150.8L607,148.8ZM622.2,149.8L619.6,150.8L619.6,148.8ZM634.7,149.8L632.1,150.8L632.1,148.8ZM647.3,149.8L644.7,150.8L644.7,148.8ZM659.8,149.8L657.2,150.8L657.2,148.8ZM672.4,149.8L669.8,150.8L669.8,148.8ZM684.9,149.8L682.3,150.8L682.3,148.8ZM697.5,149.8L694.9,150.8L694.9,148.8ZM710,149.8L707.4,150.8L707.4,148.8ZM582,162.2L579.4,163.2L579.4,161.2ZM597.1,162.2L594.5,163.2L594.5,161.2ZM609.6,162.2L607,163.2L607,161.2ZM556.9,174.8L554.3,175.8L554.3,173.8ZM569.5,174.8L566.9,175.8L566.9,173.8ZM582,174.8L579.4,175.8L579.4,173.8ZM594.6,174.8L592,175.8L592,173.8ZM544.4,187.2L541.8,188.2L541.8,186.2Z" fill="#1a1a2c" stroke="#1a1a2c" stroke-width="0.5" stroke-linejoin="round" opacity="0.82"/>
<path d="M517.4,149.8h0.7M529.9,149.8h0.7M542.5,149.8h0.7M517.4,162.2h0.7M529.9,162.2h0.7M542.5,162.2h0.7M555,162.2h0.7M567.6,162.2h0.7M529.9,174.8h0.7M542.5,174.8h0.7M605.2,174.8h0.7M529.9,187.2h0.7M555,187.2h0.7M567.6,187.2h0.7M580.1,187.2h0.7M592.7,187.2h0.7M605.2,187.2h0.7M529.9,199.8h0.7M542.5,199.8h0.7M555,199.8h0.7" stroke="#1a1a2c" stroke-width="1.8" stroke-linecap="round" fill="none" opacity="0.738"/>
<path d="M718,149.8h0.7M730.5,149.8h0.7M743.1,149.8h0.7M755.6,149.8h0.7M617.6,162.2h0.7M630.1,162.2h0.7M642.7,162.2h0.7M655.2,162.2h0.7M667.8,162.2h0.7M680.3,162.2h0.7M692.9,162.2h0.7" stroke="#1a1a2c" stroke-width="1.8" stroke-linecap="round" fill="none" opacity="0.656"/>
<path d="M517,174.8h0.7M517,187.2h0.7M567.2,199.8h0.7M579.7,199.8h0.7M592.3,199.8h0.7M604.8,199.8h0.7M529.5,212.2h0.7M542.1,212.2h0.7M554.6,212.2h0.7M567.2,212.2h0.7M579.7,212.2h0.7M592.3,212.2h0.7M604.8,212.2h0.7M529.5,224.8h0.7M542.1,224.8h0.7M554.6,224.8h0.7" stroke="#1a1a2c" stroke-width="1.8" stroke-linecap="round" fill="none" opacity="0.246"/>
<path d="M503.6,31L503.6,281" stroke="#777" stroke-width="0.8" fill="none"/>
<path d="M501.6,31L503.9,31" stroke="#666" stroke-width="0.7" fill="none"/>
<path d="M501.6,156L503.9,156" stroke="#666" stroke-width="0.7" fill="none"/>
<path d="M501.6,281L503.9,281" stroke="#666" stroke-width="0.7" fill="none"/>
<path d="M507.5,287.7L758.5,287.7" stroke="#777" stroke-width="0.8" fill="none"/>
<path d="M507.5,285.7L507.5,289.7" stroke="#666" stroke-width="0.7" fill="none"/>
<path d="M532.6,285.7L532.6,289.7" stroke="#666" stroke-width="0.7" fill="none"/>
<path d="M557.7,285.7L557.7,289.7" stroke="#666" stroke-width="0.7" fill="none"/>
<path d="M582.8,285.7L582.8,289.7" stroke="#666" stroke-width="0.7" fill="none"/>
<path d="M607.9,285.7L607.9,289.7" stroke="#666" stroke-width="0.7" fill="none"/>
<path d="M633,285.7L633,289.7" stroke="#666" stroke-width="0.7" fill="none"/>
<path d="M658.1,285.7L658.1,289.7" stroke="#666" stroke-width="0.7" fill="none"/>
<path d="M683.2,285.7L683.2,289.7" stroke="#666" stroke-width="0.7" fill="none"/>
<path d="M708.3,285.7L708.3,289.7" stroke="#666" stroke-width="0.7" fill="none"/>
<path d="M733.4,285.7L733.4,289.7" stroke="#666" stroke-width="0.7" fill="none"/>
<path d="M758.5,285.7L758.5,289.7" stroke="#666" stroke-width="0.7" fill="none"/>
<text x="509" y="296.8" font-size="7.3" stroke="#1a1a1a" stroke-width="0.15">0.0</text>
<text x="552.1" y="296.8" font-size="7.3" stroke="#1a1a1a" stroke-width="0.15">.0002</text>
<text x="602.3" y="296.8" font-size="7.3" stroke="#1a1a1a" stroke-width="0.15">.0004</text>
<text x="652.5" y="296.8" font-size="7.3" stroke="#1a1a1a" stroke-width="0.15">.0006</text>
<text x="702.7" y="296.8" font-size="7.3" stroke="#1a1a1a" stroke-width="0.15">.0008</text>
<text x="752.9" y="296.8" font-size="7.3" stroke="#1a1a1a" stroke-width="0.15">.0010</text>
<text x="502.6" y="34.3" font-size="7.3" text-anchor="end" stroke="#1a1a1a" stroke-width="0.15">.0010</text>
<text x="497.1" y="290.6" font-size="7.3" text-anchor="end" stroke="#1a1a1a" stroke-width="0.15">.0</text>
<text x="496.5" y="148" font-size="9" font-weight="bold" text-anchor="middle">z</text>
<text x="636.5" y="305.3" font-size="9" font-weight="bold" text-anchor="middle">x</text>
<rect x="765" y="31" width="11" height="249.7" fill="url(#cbp2)" stroke="#666" stroke-width="0.4"/>
<text x="781" y="31.7" font-size="7.5" stroke="#1a1a1a" stroke-width="0.15">1.00</text>
<path d="M765,72.6L776,72.6" stroke="#3a5a3a" stroke-width="0.7" fill="none"/>
<text x="781" y="73.3" font-size="7.5" stroke="#1a1a1a" stroke-width="0.15">0.83</text>
<path d="M765,114.2L776,114.2" stroke="#3a5a3a" stroke-width="0.7" fill="none"/>
<text x="781" y="114.9" font-size="7.5" stroke="#1a1a1a" stroke-width="0.15">0.67</text>
<path d="M765,155.8L776,155.8" stroke="#3a5a3a" stroke-width="0.7" fill="none"/>
<text x="781" y="156.5" font-size="7.5" stroke="#1a1a1a" stroke-width="0.15">0.50</text>
<path d="M765,197.5L776,197.5" stroke="#3a5a3a" stroke-width="0.7" fill="none"/>
<text x="781" y="198.2" font-size="7.5" stroke="#1a1a1a" stroke-width="0.15">0.33</text>
<path d="M765,239.1L776,239.1" stroke="#3a5a3a" stroke-width="0.7" fill="none"/>
<text x="781" y="239.8" font-size="7.5" stroke="#1a1a1a" stroke-width="0.15">0.17</text>
<text x="781" y="278.8" font-size="7.5" stroke="#1a1a1a" stroke-width="0.15">0.00</text>
<text x="608.7" y="8.5" font-size="9" font-weight="bold" text-anchor="middle" textLength="117.5" lengthAdjust="spacingAndGlyphs">fraction of fluid and vectors</text>
<text x="722" y="8.7" font-size="6.7" textLength="50" lengthAdjust="spacingAndGlyphs" stroke="#1a1a1a" stroke-width="0.12">(max=2.39E+01)</text>
<path d="M725,10.6L736.7,10.6M738.2,10.6L735.9,9.5L735.9,11.6Z" stroke="#222" stroke-width="0.5" fill="#222"/>
<text x="481" y="319.5" font-size="5.4" textLength="155" lengthAdjust="spacingAndGlyphs" stroke="#1a1a1a" stroke-width="0.12" style="white-space:pre">FLOW-3D  t=1.50104022E-04   y=5.250E-04   ix=3 to 22   kz=2 to 21</text>
<text x="481" y="324.2" font-size="5.4" textLength="172" lengthAdjust="spacingAndGlyphs" stroke="#1a1a1a" stroke-width="0.12" style="white-space:pre">13:34:38  10/31/2008 jbyh     hydr3d:  version  9.3   win32-ifl 2008</text>
<text x="481" y="328.9" font-size="5.4" textLength="10.5" lengthAdjust="spacingAndGlyphs" stroke="#1a1a1a" stroke-width="0.12">Title</text>
<text x="813.5" y="329.5" font-size="6" stroke="#1a1a1a" stroke-width="0.12">4</text>
<g clip-path="url(#p3)">
<g filter="url(#bl)">
<rect x="103" y="419.4" width="266" height="266" fill="#3f56a7"/>
<path fill="#3c6cc3" d="M333.3,519.5 336.5,518.7 345.5,518.6 352.5,519.6 368.5,519.6 368.5,684.5 105.5,684.5 105.5,527.6 110.5,527.6 114.5,528.5 123.5,528.6 127.5,529.5 135.5,529.6 143.5,530.8 145.5,532 151.5,538.3 157.5,539.5 163.5,539.6 176.5,541.5 200.5,541.6 206.5,540.6 296.5,540.5 300.4,539.5 320.5,526.1 327.5,522Z"/>
<path fill="#368cdb" d="M335.8,520.5 346.5,520.3 351.5,521.2 368.5,521.3 368.5,684.5 105.5,684.5 105.5,529.1 110.5,529.2 114.5,530 122.5,530.1 126.5,531 134.5,531.2 142.5,532.3 144.7,533.5 150.5,539.6 156.5,540.9 163.5,541.1 176.5,543.1 201.5,543.2 207.5,542.3 297.5,541.9 301.5,540.6 313.5,532.4 326.5,524.5Z"/>
<path fill="#33a2e7" d="M335.9,522.5 345.5,522.1 350.5,522.9 368.5,523.2 368.5,684.5 105.5,684.5 105.5,530.5 122.5,531.8 126.5,532.7 134.5,533.1 141.5,534.2 143.5,535 148,539.5 150.5,541 156.5,542.2 162.5,542.5 175.5,544.5 202.5,545.1 207.5,544.4 244.5,544.2 297.5,543.1 299.5,542.9 302.4,541.5 314.5,533.5 327.5,525.8Z"/>
<path fill="#34b5ee" d="M338.2,524.5 368.5,525.7 368.5,684.5 105.5,684.5 105.5,532.2 121.5,533.6 140.5,536.4 142.5,537.2 146.4,540.5 149.5,542.3 155.5,543.5 175.5,546.2 203.5,547.5 208.5,547 245.5,546.7 299.5,544.2 303.3,542.5 323.5,530 332.5,525.9Z"/>
<path fill="#47bbdd" d="M336.6,527.5 344.5,527.2 368.5,528.6 368.5,684.5 105.5,684.5 105.5,534.3 115.5,535 133.5,537.8 140.5,539.3 145.6,542.5 149.5,544.1 174.5,548.2 196.5,550.1 216.5,550.5 245.5,549.6 299.5,545.8 308.6,541.5 323.5,532.2 332.5,528.5Z"/>
<path fill="#52bdc6" d="M333.5,530.5 338.5,529.7 343.5,529.6 362.5,531.1 368.5,531.2 368.5,684.5 105.5,684.5 105.5,536.2 114.5,536.7 133.5,540.2 139.5,541.6 145.5,544.5 149.5,545.8 173.5,550 195.5,552.5 217.5,553.3 246.5,552.1 299.5,547.2 310.3,542.5 323.5,534.2Z"/>
<path fill="#58bbab" d="M333.5,532.5 343.5,531.7 361.5,533.4 368.5,533.4 368.5,684.5 105.5,684.5 105.5,537.8 114.5,538.3 137.5,543.2 149.5,547.1 173.5,551.6 195.5,554.6 217.5,555.8 222.5,555.2 246.5,554.4 299.5,548.5 311.5,543.5 324.5,535.4Z"/>
<path fill="#5bb77e" d="M337.8,533.5 349.5,533.6 360.5,535.1 368.5,535.2 368.5,684.5 105.5,684.5 105.5,539 113.5,539.3 148.5,548 187.5,555.5 217.5,557.9 223.5,557.1 232.5,557 237.5,556.3 247.5,556.1 268.5,552.9 280.5,551.9 300.5,549.2 311.5,544.8 324.5,536.7 334.5,533.8Z"/>
<path fill="#62b95b" d="M332.6,535.5 336.5,534.6 348.5,534.6 360.5,536.5 368.5,536.5 368.5,684.5 105.5,684.5 105.5,539.8 113.5,540.1 143.5,547.7 186.5,556.4 212.5,559.2 218.5,559.3 223.5,558.4 233.5,558.3 237.5,557.5 247.5,557.4 268.5,553.9 281.5,552.6 300.5,549.9 312,545.5 325.5,537.1Z"/>
<path fill="#5eb74d" d="M335.1,535.5 348.5,535.4 360.5,537.3 368.5,537.4 368.5,684.5 105.5,684.5 105.5,540.5 113.5,540.9 143.5,548.4 186.5,557.2 199.5,558.4 203.5,559.2 208.5,559.3 212.5,560.1 218.5,560.1 223.5,559.3 233.5,559.1 237.5,558.3 248.5,558.1 269.5,554.5 281.5,553.3 300.5,550.4 312.5,546 325.5,537.8Z"/>
<path fill="#69bb45" d="M333.8,536.5 336.5,536 348.5,536.1 359.5,538 368.5,538.2 368.5,684.5 105.5,684.5 105.5,541.2 112.5,541.3 138.5,547.9 186.5,557.8 199.5,559 202.5,559.8 208.5,560 211.5,560.7 219.5,560.8 224.5,559.9 233.5,559.8 238.5,558.9 248.5,558.8 269.5,555.1 281.5,553.9 300.5,551 312.5,546.7 325.5,538.4Z"/>
<path fill="#84c544" d="M331.8,537.5 336.5,536.6 347.5,536.7 359.5,538.8 368.5,539 368.5,684.5 105.5,684.5 105.5,541.8 112.5,542 137.5,548.3 186.5,558.5 199.5,559.7 202.5,560.4 208.5,560.6 211.5,561.4 219.5,561.4 224.5,560.5 234.5,560.4 238.5,559.5 248.5,559.4 269.5,555.7 281.5,554.5 301.5,551.3 312.5,547.3 325.5,539.1Z"/>
<path fill="#a5d040" d="M335,537.5 347.5,537.5 359.5,539.8 368.5,540.2 368.5,684.5 105.5,684.5 105.5,542.7 112.5,542.9 137.5,549.2 150.5,551.4 185.5,559 193.5,560.2 199.5,560.4 202.5,561.2 208.5,561.3 211.5,562.1 219.5,562.1 224.5,561.2 234.5,561.1 238.5,560.2 248.5,560.1 269.5,556.4 281.5,555.1 301.5,551.9 312.5,548 326.3,539.5Z"/>
<path fill="#c6db3b" d="M334.8,538.5 338.5,538.2 347.5,538.8 359.5,541.6 368.5,542.2 368.5,684.5 105.5,684.5 105.5,544 111.5,544.2 137.5,550.2 164.5,555.1 185.5,560 211.5,562.9 219.5,563 224.5,562.2 234.5,561.9 239.5,561.1 248.5,560.9 301.5,552.7 313.5,548.5 326.5,540.4Z"/>
<path fill="#e5e62e" d="M336.9,539.5 347.5,540.7 360.5,544.4 368.5,545 368.5,684.5 105.5,684.5 105.5,546.1 111.5,546.3 136.5,551.6 163.5,556.1 185.5,561.3 210.5,564 220.5,564.1 240.5,562.2 249.5,561.9 302.5,553.6 314.5,549.4 327.5,541.5Z"/>
<path fill="#f8e228" d="M334.5,541.5 337.5,541.2 342.5,542 347.5,543.2 359.5,547.5 368.5,548.4 368.5,684.5 105.5,684.5 105.5,548.5 110.5,548.6 136.5,553.5 163.3,557.5 175.5,561 184.5,562.9 201.5,564.9 220.5,565.6 249.5,563.4 302.5,555.1 314.5,551.2 327.5,543.3 331.5,541.9Z"/>
<path fill="#fecf28" d="M332.9,543.5 337.5,543.3 340.5,543.9 346.5,545.7 358.5,551.1 368.5,552.2 368.5,684.5 105.5,684.5 105.5,551.3 110.5,551.5 136.5,555.8 162.5,559.1 175.5,563.1 193.5,566.2 210.5,567.4 221.5,567.4 256.5,564.3 303.5,556.6 315.5,552.8 322.5,549.1 328.5,545Z"/>
<path fill="#fbac28" d="M333.3,545.5 337.5,545.7 342.8,547.5 356.5,554.8 363.5,556.4 368.5,556.5 368.5,684.5 105.5,684.5 105.5,554.5 110.5,554.6 116.5,555.8 161.5,560.8 174.5,565.2 193.5,568.5 210.5,569.4 222.5,569.4 257.5,566.3 304.1,558.5 310.5,556.9 316.5,554.7 323.5,551.1 330.3,546.5Z"/>
<path fill="#f68628" d="M331.5,548.5 334.5,547.7 338.5,548.9 346.5,553.2 352.5,557.7 355.5,559.2 362.5,561 368.5,561.3 368.5,684.5 105.5,684.5 105.5,557.9 161.5,562.9 171.5,567.1 193.5,571.1 210.5,571.6 230.5,571.4 243.5,569.7 249.5,569.5 273.5,566.3 310.5,559.4 322.5,554.5Z"/>
<path fill="#f2542b" d="M333,550.5 335.5,550.5 339.5,552.8 344.5,556.2 350.5,561.8 352.5,563 361.5,565.9 368.5,566.1 368.5,684.5 105.5,684.5 105.5,561.4 110.5,561.5 114.5,562.4 129.5,562.6 134.5,563.6 148.5,563.8 153.5,564.8 160.5,564.9 170.5,569.6 193.5,573.7 231.5,573.7 235.5,572.9 250.5,571.7 253.5,570.9 259.5,570.6 262.5,569.9 274.5,568.6 301.5,563 311.5,561.6 325.5,555.9Z"/>
<path fill="#ef362d" d="M332,553.5 334.5,552.6 336.5,553.4 343.5,558.4 349.5,564.3 351.5,565.4 360.5,568.4 368.5,568.6 368.5,684.5 105.5,684.5 105.5,563.6 109.5,563.7 113.5,564.6 128.5,564.7 133.5,565.6 147.5,565.7 152.5,566.6 159.5,566.8 162,567.5 169.5,571.5 192.5,575.6 231.5,575.7 275.5,570.5 301.5,565 312.5,563.5 325.5,558.3Z"/>
</g>
<path d="M111,540.7L134.2,546.9L160.8,552.2L187.3,557.5L213.9,560.7L230,559.9L250,558.4L265.4,555.8L300.8,550.8L313.2,546.4L325.6,538.4L336.2,535.8L350.4,536.3L361,537.5" fill="none" stroke="#2f7a3c" stroke-width="0.9" stroke-linejoin="round"/>
</g>
<path d="M131.6,433.6L136.5,433.6M144.1,433.6L147.8,433.6M156.6,433.6L160.3,433.6M169.1,433.6L172.8,433.6M181.6,433.6L185.3,433.6M194.1,433.6L197.8,433.6M206.6,433.6L210.3,433.6M219.1,433.6L222.8,433.6M231.6,433.6L235.3,433.6M244.1,433.6L247.8,433.6M256.6,433.6L260.2,433.6M269.1,433.6L272.8,433.6M281.6,433.6L285.2,433.6M294.1,433.6L297.8,433.6M306.6,433.6L310.2,433.6M319.1,433.6L322.8,433.6M331.6,433.6L335.2,433.6M344.1,433.6L347.8,433.6M356.6,433.6L360.9,433.6M131.6,446.1L136.5,446.1M144.1,446.1L147.8,446.1M156.6,446.1L160.3,446.1M169.1,446.1L172.8,446.1M181.6,446.1L185.3,446.1M194.1,446.1L197.8,446.1M206.6,446.1L210.3,446.1M219.1,446.1L222.8,446.1M231.6,446.1L235.3,446.1M244.1,446.1L247.8,446.1M256.6,446.1L260.2,446.1M269.1,446.1L272.8,446.1M281.6,446.1L285.2,446.1M294.1,446.1L297.8,446.1M306.6,446.1L310.2,446.1M319.1,446.1L322.8,446.1M331.6,446.1L335.2,446.1M344.1,446.1L347.8,446.1M356.6,446.1L360.9,446.1M131.6,458.6L136.5,458.6M144.1,458.6L147.8,458.6M156.6,458.6L160.3,458.6M169.1,458.6L172.8,458.6M181.6,458.6L185.3,458.6M194.1,458.6L197.8,458.6M206.6,458.6L210.3,458.6M219.1,458.6L222.8,458.6M231.6,458.6L235.3,458.6M244.1,458.6L247.8,458.6M256.6,458.6L260.2,458.6M269.1,458.6L272.8,458.6M281.6,458.6L285.2,458.6M294.1,458.6L297.8,458.6M306.6,458.6L310.2,458.6M319.1,458.6L322.8,458.6M331.6,458.6L335.2,458.6M344.1,458.6L347.8,458.6M356.6,458.6L360.9,458.6M131.6,471.1L136.5,471.1M144.1,471.1L147.8,471.1M156.6,471.1L160.3,471.1M169.1,471.1L172.8,471.1M181.6,471.1L185.3,471.1M194.1,471.1L197.8,471.1M206.6,471.1L210.3,471.1M219.1,471.1L222.8,471.1M231.6,471.1L235.3,471.1M244.1,471.1L247.8,471.1M256.6,471.1L260.2,471.1M269.1,471.1L272.8,471.1M281.6,471.1L285.2,471.1M294.1,471.1L297.8,471.1M306.6,471.1L310.2,471.1M319.1,471.1L322.8,471.1M331.6,471.1L335.2,471.1M344.1,471.1L347.8,471.1M356.6,471.1L360.9,471.1M131.6,483.6L136.5,483.6M144.1,483.6L147.8,483.6M156.6,483.6L160.3,483.6M169.1,483.6L172.8,483.6M181.6,483.6L185.3,483.6M194.1,483.6L197.8,483.6M206.6,483.6L210.3,483.6M219.1,483.6L222.8,483.6M231.6,483.6L235.3,483.6M244.1,483.6L247.8,483.6M256.6,483.6L260.2,483.6M269.1,483.6L272.8,483.6M281.6,483.6L285.2,483.6M294.1,483.6L297.8,483.6M306.6,483.6L310.2,483.6M319.1,483.6L322.8,483.6M331.6,483.6L335.2,483.6M344.1,483.6L347.8,483.6M356.6,483.6L362.8,483.6M131.6,496.1L136.5,496.1M144.1,496.1L147.8,496.1M156.6,496.1L160.3,496.1M169.1,496.1L172.8,496.1M181.6,496.1L185.3,496.1M194.1,496.1L197.8,496.1M206.6,496.1L210.3,496.1M219.1,496.1L222.8,496.1M231.6,496.1L235.3,496.1M244.1,496.1L247.8,496.1M256.6,496.1L260.2,496.1M269.1,496.1L272.8,496.1M281.6,496.1L285.2,496.1M294.1,496.1L297.8,496.1M306.6,496.1L310.2,496.1M319.1,496.1L322.8,496.1M331.6,496.1L335.2,496.1M344.1,496.1L347.8,496.1M356.6,496.1L362.8,496.1M131.6,508.6L136.5,508.6M144.1,508.6L147.8,508.6M156.6,508.6L160.3,508.6M169.1,508.6L172.8,508.6M181.6,508.6L185.3,508.6M194.1,508.6L197.8,508.6M206.6,508.6L210.3,508.6M219.1,508.6L222.8,508.6M231.6,508.6L235.3,508.6M244.1,508.6L247.8,508.6M256.6,508.6L260.2,508.6M269.1,508.6L272.8,508.6M281.6,508.6L285.2,508.6M294.1,508.6L297.8,508.6M306.6,508.6L310.2,508.6M319.1,508.6L322.8,508.6M331.6,508.6L335.2,508.6M344.1,508.6L347.8,508.6M356.6,508.6L362.8,508.6M131.6,521.1L136.5,521.1M144.1,521.1L147.8,521.1M156.6,521.1L160.3,521.1M169.1,521.1L172.8,521.1M181.6,521.1L185.3,521.1M194.1,521.1L197.8,521.1M206.6,521.1L210.3,521.1M219.1,521.1L222.8,521.1M231.6,521.1L235.3,521.1M244.1,521.1L247.8,521.1M256.6,521.1L260.2,521.1M269.1,521.1L272.8,521.1M281.6,521.1L285.2,521.1M294.1,521.1L297.8,521.1M306.6,521.1L310.2,521.1M319.1,521.1L322.8,521.1M331.6,521.1L335.2,521.1M344.1,521.1L347.8,521.1M356.6,521.1L362.8,521.1M131.6,533.6L136.5,533.6M144.1,533.6L147.8,533.6M156.6,533.6L160.3,533.6M169.1,533.6L172.8,533.6M181.6,533.6L185.3,533.6M194.1,533.6L197.8,533.6M206.6,533.6L210.3,533.6M219.1,533.6L222.8,533.6M231.6,533.6L235.3,533.6M244.1,533.6L247.8,533.6M256.6,533.6L260.2,533.6M269.1,533.6L272.8,533.6M281.6,533.6L285.2,533.6M294.1,533.6L297.8,533.6M306.6,533.6L310.2,533.6M319.1,533.6L322.8,533.6M331.6,533.6L335.2,533.6M344.1,533.6L347.8,533.6M356.6,533.6L360.9,533.6M131.6,546.1L134.2,546.1M144.1,546.1L147.8,546.1M156.6,546.1L160.3,546.1M169.1,546.1L172.8,546.1M181.6,546.1L185.3,546.1M194.1,546.1L197.8,546.1M206.6,546.1L210.3,546.1M219.1,546.1L222.8,546.1M231.6,546.1L235.3,546.1M244.1,546.1L247.8,546.1M256.6,546.1L260.2,546.1M269.1,546.1L272.8,546.1M281.6,546.1L285.2,546.1M294.1,546.1L297.8,546.1M306.6,546.1L310.2,546.1M319.1,546.1L321.6,546.1M331.6,546.1L334.1,546.1M344.1,546.1L346.6,546.1M356.6,546.1L359.4,546.1M131.6,558.6L134.2,558.6M144.1,558.6L146.7,558.6M156.6,558.6L159.2,558.6M169.1,558.6L171.7,558.6M181.6,558.6L184.2,558.6M194.1,558.6L197.8,558.6M206.6,558.6L210.3,558.6M219.1,558.6L222.8,558.6M231.6,558.6L235.3,558.6M244.1,558.6L247.8,558.6M256.6,558.6L259.1,558.6M269.1,558.6L271.6,558.6M281.6,558.6L284.1,558.6M294.1,558.6L296.6,558.6M306.6,558.6L309.1,558.6M319.1,558.6L321.6,558.6M331.6,558.6L334.1,558.6M344.1,558.6L346.6,558.6M356.6,558.6L359.4,558.6M131.6,571.1L134.2,571.1M144.1,571.1L146.7,571.1M156.6,571.1L159.2,571.1M169.1,571.1L171.7,571.1M181.6,571.1L184.2,571.1M194.1,571.1L196.7,571.1M206.6,571.1L209.2,571.1M219.1,571.1L221.7,571.1M231.6,571.1L234.2,571.1M244.1,571.1L246.7,571.1M256.6,571.1L259.1,571.1M269.1,571.1L271.6,571.1M281.6,571.1L284.1,571.1M294.1,571.1L296.6,571.1M306.6,571.1L309.1,571.1M319.1,571.1L321.6,571.1M331.6,571.1L334.1,571.1M344.1,571.1L346.6,571.1M356.6,571.1L359.4,571.1M131.6,583.6L134.2,583.6M144.1,583.6L146.7,583.6M156.6,583.6L159.2,583.6M169.1,583.6L171.7,583.6M181.6,583.6L184.2,583.6M194.1,583.6L196.7,583.6M206.6,583.6L209.2,583.6M219.1,583.6L221.7,583.6M231.6,583.6L234.2,583.6M244.1,583.6L246.7,583.6M256.6,583.6L259.1,583.6M269.1,583.6L271.6,583.6M281.6,583.6L284.1,583.6M294.1,583.6L296.6,583.6M306.6,583.6L309.1,583.6M319.1,583.6L321.6,583.6M331.6,583.6L334.1,583.6M344.1,583.6L346.6,583.6M356.6,583.6L359.4,583.6M131.6,596.1L134.2,596.1M144.1,596.1L146.7,596.1M156.6,596.1L159.2,596.1M169.1,596.1L171.7,596.1M181.6,596.1L184.2,596.1M194.1,596.1L196.7,596.1M206.6,596.1L209.2,596.1M219.1,596.1L221.7,596.1M231.6,596.1L234.2,596.1M244.1,596.1L246.7,596.1M256.6,596.1L259.1,596.1M269.1,596.1L271.6,596.1M281.6,596.1L284.1,596.1M294.1,596.1L296.6,596.1M306.6,596.1L309.1,596.1M319.1,596.1L321.6,596.1M331.6,596.1L334.1,596.1M344.1,596.1L346.6,596.1M356.6,596.1L359.4,596.1M131.6,608.6L134.2,608.6M144.1,608.6L146.7,608.6M156.6,608.6L159.2,608.6M169.1,608.6L171.7,608.6M181.6,608.6L184.2,608.6M194.1,608.6L196.7,608.6M206.6,608.6L209.2,608.6M219.1,608.6L221.7,608.6M231.6,608.6L234.2,608.6M244.1,608.6L246.7,608.6M256.6,608.6L259.1,608.6M269.1,608.6L271.6,608.6M281.6,608.6L284.1,608.6M294.1,608.6L296.6,608.6M306.6,608.6L309.1,608.6M319.1,608.6L321.6,608.6M331.6,608.6L334.1,608.6M344.1,608.6L346.6,608.6M356.6,608.6L359.4,608.6M131.6,621.1L134.2,621.1M144.1,621.1L146.7,621.1M156.6,621.1L159.2,621.1M169.1,621.1L171.7,621.1M181.6,621.1L184.2,621.1M194.1,621.1L196.7,621.1M206.6,621.1L209.2,621.1M219.1,621.1L221.7,621.1M231.6,621.1L234.2,621.1M244.1,621.1L246.7,621.1M256.6,621.1L259.1,621.1M269.1,621.1L271.6,621.1M281.6,621.1L284.1,621.1M294.1,621.1L296.6,621.1M306.6,621.1L309.1,621.1M319.1,621.1L321.6,621.1M331.6,621.1L334.1,621.1M344.1,621.1L346.6,621.1M356.6,621.1L359.4,621.1M131.6,633.6L134.2,633.6M144.1,633.6L146.7,633.6M156.6,633.6L159.2,633.6M169.1,633.6L171.7,633.6M181.6,633.6L184.2,633.6M194.1,633.6L196.7,633.6M206.6,633.6L209.2,633.6M219.1,633.6L221.7,633.6M231.6,633.6L234.2,633.6M244.1,633.6L246.7,633.6M256.6,633.6L259.1,633.6M269.1,633.6L271.6,633.6M281.6,633.6L284.1,633.6M294.1,633.6L296.6,633.6M306.6,633.6L309.1,633.6M319.1,633.6L321.6,633.6M331.6,633.6L334.1,633.6M344.1,633.6L346.6,633.6M356.6,633.6L359.4,633.6M131.6,646.1L134.2,646.1M144.1,646.1L146.7,646.1M156.6,646.1L159.2,646.1M169.1,646.1L171.7,646.1M181.6,646.1L184.2,646.1M194.1,646.1L196.7,646.1M206.6,646.1L209.2,646.1M219.1,646.1L221.7,646.1M231.6,646.1L234.2,646.1M244.1,646.1L246.7,646.1M256.6,646.1L259.1,646.1M269.1,646.1L271.6,646.1M281.6,646.1L284.1,646.1M294.1,646.1L296.6,646.1M306.6,646.1L309.1,646.1M319.1,646.1L321.6,646.1M331.6,646.1L334.1,646.1M344.1,646.1L346.6,646.1M356.6,646.1L359.4,646.1M131.6,658.6L134.2,658.6M144.1,658.6L146.7,658.6M156.6,658.6L159.2,658.6M169.1,658.6L171.7,658.6M181.6,658.6L184.2,658.6M194.1,658.6L196.7,658.6M206.6,658.6L209.2,658.6M219.1,658.6L221.7,658.6M231.6,658.6L234.2,658.6M244.1,658.6L246.7,658.6M256.6,658.6L259.1,658.6M269.1,658.6L271.6,658.6M281.6,658.6L284.1,658.6M294.1,658.6L296.6,658.6M306.6,658.6L309.1,658.6M319.1,658.6L321.6,658.6M331.6,658.6L334.1,658.6M344.1,658.6L346.6,658.6M356.6,658.6L359.4,658.6M131.6,671.1L134.2,671.1M144.1,671.1L146.7,671.1M156.6,671.1L159.2,671.1M169.1,671.1L171.7,671.1M181.6,671.1L184.2,671.1M194.1,671.1L196.7,671.1M206.6,671.1L209.2,671.1M219.1,671.1L221.7,671.1M231.6,671.1L234.2,671.1M244.1,671.1L246.7,671.1M256.6,671.1L259.1,671.1M269.1,671.1L271.6,671.1M281.6,671.1L284.1,671.1M294.1,671.1L296.6,671.1M306.6,671.1L309.1,671.1M319.1,671.1L321.6,671.1M331.6,671.1L334.1,671.1M344.1,671.1L346.6,671.1M356.6,671.1L359.4,671.1" stroke="#1a1a2c" stroke-width="0.42" fill="none" opacity="0.82"/>
<path d="M139.1,433.6L136.5,434.6L136.5,432.6ZM150.4,433.6L147.8,434.6L147.8,432.6ZM162.9,433.6L160.3,434.6L160.3,432.6ZM175.4,433.6L172.8,434.6L172.8,432.6ZM187.9,433.6L185.3,434.6L185.3,432.6ZM200.4,433.6L197.8,434.6L197.8,432.6ZM212.9,433.6L210.3,434.6L210.3,432.6ZM225.4,433.6L222.8,434.6L222.8,432.6ZM237.9,433.6L235.3,434.6L235.3,432.6ZM250.4,433.6L247.8,434.6L247.8,432.6ZM262.9,433.6L260.2,434.6L260.2,432.6ZM275.4,433.6L272.8,434.6L272.8,432.6ZM287.9,433.6L285.2,434.6L285.2,432.6ZM300.4,433.6L297.8,434.6L297.8,432.6ZM312.9,433.6L310.2,434.6L310.2,432.6ZM325.4,433.6L322.8,434.6L322.8,432.6ZM337.9,433.6L335.2,434.6L335.2,432.6ZM350.4,433.6L347.8,434.6L347.8,432.6ZM363.6,433.6L360.9,434.6L360.9,432.6ZM139.1,446.1L136.5,447.1L136.5,445.1ZM150.4,446.1L147.8,447.1L147.8,445.1ZM162.9,446.1L160.3,447.1L160.3,445.1ZM175.4,446.1L172.8,447.1L172.8,445.1ZM187.9,446.1L185.3,447.1L185.3,445.1ZM200.4,446.1L197.8,447.1L197.8,445.1ZM212.9,446.1L210.3,447.1L210.3,445.1ZM225.4,446.1L222.8,447.1L222.8,445.1ZM237.9,446.1L235.3,447.1L235.3,445.1ZM250.4,446.1L247.8,447.1L247.8,445.1ZM262.9,446.1L260.2,447.1L260.2,445.1ZM275.4,446.1L272.8,447.1L272.8,445.1ZM287.9,446.1L285.2,447.1L285.2,445.1ZM300.4,446.1L297.8,447.1L297.8,445.1ZM312.9,446.1L310.2,447.1L310.2,445.1ZM325.4,446.1L322.8,447.1L322.8,445.1ZM337.9,446.1L335.2,447.1L335.2,445.1ZM350.4,446.1L347.8,447.1L347.8,445.1ZM363.6,446.1L360.9,447.1L360.9,445.1ZM139.1,458.6L136.5,459.6L136.5,457.6ZM150.4,458.6L147.8,459.6L147.8,457.6ZM162.9,458.6L160.3,459.6L160.3,457.6ZM175.4,458.6L172.8,459.6L172.8,457.6ZM187.9,458.6L185.3,459.6L185.3,457.6ZM200.4,458.6L197.8,459.6L197.8,457.6ZM212.9,458.6L210.3,459.6L210.3,457.6ZM225.4,458.6L222.8,459.6L222.8,457.6ZM237.9,458.6L235.3,459.6L235.3,457.6ZM250.4,458.6L247.8,459.6L247.8,457.6ZM262.9,458.6L260.2,459.6L260.2,457.6ZM275.4,458.6L272.8,459.6L272.8,457.6ZM287.9,458.6L285.2,459.6L285.2,457.6ZM300.4,458.6L297.8,459.6L297.8,457.6ZM312.9,458.6L310.2,459.6L310.2,457.6ZM325.4,458.6L322.8,459.6L322.8,457.6ZM337.9,458.6L335.2,459.6L335.2,457.6ZM350.4,458.6L347.8,459.6L347.8,457.6ZM363.6,458.6L360.9,459.6L360.9,457.6ZM139.1,471.1L136.5,472.1L136.5,470.1ZM150.4,471.1L147.8,472.1L147.8,470.1ZM162.9,471.1L160.3,472.1L160.3,470.1ZM175.4,471.1L172.8,472.1L172.8,470.1ZM187.9,471.1L185.3,472.1L185.3,470.1ZM200.4,471.1L197.8,472.1L197.8,470.1ZM212.9,471.1L210.3,472.1L210.3,470.1ZM225.4,471.1L222.8,472.1L222.8,470.1ZM237.9,471.1L235.3,472.1L235.3,470.1ZM250.4,471.1L247.8,472.1L247.8,470.1ZM262.9,471.1L260.2,472.1L260.2,470.1ZM275.4,471.1L272.8,472.1L272.8,470.1ZM287.9,471.1L285.2,472.1L285.2,470.1ZM300.4,471.1L297.8,472.1L297.8,470.1ZM312.9,471.1L310.2,472.1L310.2,470.1ZM325.4,471.1L322.8,472.1L322.8,470.1ZM337.9,471.1L335.2,472.1L335.2,470.1ZM350.4,471.1L347.8,472.1L347.8,470.1ZM363.6,471.1L360.9,472.1L360.9,470.1ZM139.1,483.6L136.5,484.6L136.5,482.6ZM150.4,483.6L147.8,484.6L147.8,482.6ZM162.9,483.6L160.3,484.6L160.3,482.6ZM175.4,483.6L172.8,484.6L172.8,482.6ZM187.9,483.6L185.3,484.6L185.3,482.6ZM200.4,483.6L197.8,484.6L197.8,482.6ZM212.9,483.6L210.3,484.6L210.3,482.6ZM225.4,483.6L222.8,484.6L222.8,482.6ZM237.9,483.6L235.3,484.6L235.3,482.6ZM250.4,483.6L247.8,484.6L247.8,482.6ZM262.9,483.6L260.2,484.6L260.2,482.6ZM275.4,483.6L272.8,484.6L272.8,482.6ZM287.9,483.6L285.2,484.6L285.2,482.6ZM300.4,483.6L297.8,484.6L297.8,482.6ZM312.9,483.6L310.2,484.6L310.2,482.6ZM325.4,483.6L322.8,484.6L322.8,482.6ZM337.9,483.6L335.2,484.6L335.2,482.6ZM350.4,483.6L347.8,484.6L347.8,482.6ZM365.4,483.6L362.8,484.6L362.8,482.6ZM139.1,496.1L136.5,497.1L136.5,495.1ZM150.4,496.1L147.8,497.1L147.8,495.1ZM162.9,496.1L160.3,497.1L160.3,495.1ZM175.4,496.1L172.8,497.1L172.8,495.1ZM187.9,496.1L185.3,497.1L185.3,495.1ZM200.4,496.1L197.8,497.1L197.8,495.1ZM212.9,496.1L210.3,497.1L210.3,495.1ZM225.4,496.1L222.8,497.1L222.8,495.1ZM237.9,496.1L235.3,497.1L235.3,495.1ZM250.4,496.1L247.8,497.1L247.8,495.1ZM262.9,496.1L260.2,497.1L260.2,495.1ZM275.4,496.1L272.8,497.1L272.8,495.1ZM287.9,496.1L285.2,497.1L285.2,495.1ZM300.4,496.1L297.8,497.1L297.8,495.1ZM312.9,496.1L310.2,497.1L310.2,495.1ZM325.4,496.1L322.8,497.1L322.8,495.1ZM337.9,496.1L335.2,497.1L335.2,495.1ZM350.4,496.1L347.8,497.1L347.8,495.1ZM365.4,496.1L362.8,497.1L362.8,495.1ZM139.1,508.6L136.5,509.6L136.5,507.6ZM150.4,508.6L147.8,509.6L147.8,507.6ZM162.9,508.6L160.3,509.6L160.3,507.6ZM175.4,508.6L172.8,509.6L172.8,507.6ZM187.9,508.6L185.3,509.6L185.3,507.6ZM200.4,508.6L197.8,509.6L197.8,507.6ZM212.9,508.6L210.3,509.6L210.3,507.6ZM225.4,508.6L222.8,509.6L222.8,507.6ZM237.9,508.6L235.3,509.6L235.3,507.6ZM250.4,508.6L247.8,509.6L247.8,507.6ZM262.9,508.6L260.2,509.6L260.2,507.6ZM275.4,508.6L272.8,509.6L272.8,507.6ZM287.9,508.6L285.2,509.6L285.2,507.6ZM300.4,508.6L297.8,509.6L297.8,507.6ZM312.9,508.6L310.2,509.6L310.2,507.6ZM325.4,508.6L322.8,509.6L322.8,507.6ZM337.9,508.6L335.2,509.6L335.2,507.6ZM350.4,508.6L347.8,509.6L347.8,507.6ZM365.4,508.6L362.8,509.6L362.8,507.6ZM139.1,521.1L136.5,522.1L136.5,520.1ZM150.4,521.1L147.8,522.1L147.8,520.1ZM162.9,521.1L160.3,522.1L160.3,520.1ZM175.4,521.1L172.8,522.1L172.8,520.1ZM187.9,521.1L185.3,522.1L185.3,520.1ZM200.4,521.1L197.8,522.1L197.8,520.1ZM212.9,521.1L210.3,522.1L210.3,520.1ZM225.4,521.1L222.8,522.1L222.8,520.1ZM237.9,521.1L235.3,522.1L235.3,520.1ZM250.4,521.1L247.8,522.1L247.8,520.1ZM262.9,521.1L260.2,522.1L260.2,520.1ZM275.4,521.1L272.8,522.1L272.8,520.1ZM287.9,521.1L285.2,522.1L285.2,520.1ZM300.4,521.1L297.8,522.1L297.8,520.1ZM312.9,521.1L310.2,522.1L310.2,520.1ZM325.4,521.1L322.8,522.1L322.8,520.1ZM337.9,521.1L335.2,522.1L335.2,520.1ZM350.4,521.1L347.8,522.1L347.8,520.1ZM365.4,521.1L362.8,522.1L362.8,520.1ZM139.1,533.6L136.5,534.6L136.5,532.6ZM150.4,533.6L147.8,534.6L147.8,532.6ZM162.9,533.6L160.3,534.6L160.3,532.6ZM175.4,533.6L172.8,534.6L172.8,532.6ZM187.9,533.6L185.3,534.6L185.3,532.6ZM200.4,533.6L197.8,534.6L197.8,532.6ZM212.9,533.6L210.3,534.6L210.3,532.6ZM225.4,533.6L222.8,534.6L222.8,532.6ZM237.9,533.6L235.3,534.6L235.3,532.6ZM250.4,533.6L247.8,534.6L247.8,532.6ZM262.9,533.6L260.2,534.6L260.2,532.6ZM275.4,533.6L272.8,534.6L272.8,532.6ZM287.9,533.6L285.2,534.6L285.2,532.6ZM300.4,533.6L297.8,534.6L297.8,532.6ZM312.9,533.6L310.2,534.6L310.2,532.6ZM325.4,533.6L322.8,534.6L322.8,532.6ZM337.9,533.6L335.2,534.6L335.2,532.6ZM350.4,533.6L347.8,534.6L347.8,532.6ZM363.6,533.6L360.9,534.6L360.9,532.6ZM136.8,546.1L134.2,547.1L134.2,545.1ZM150.4,546.1L147.8,547.1L147.8,545.1ZM162.9,546.1L160.3,547.1L160.3,545.1ZM175.4,546.1L172.8,547.1L172.8,545.1ZM187.9,546.1L185.3,547.1L185.3,545.1ZM200.4,546.1L197.8,547.1L197.8,545.1ZM212.9,546.1L210.3,547.1L210.3,545.1ZM225.4,546.1L222.8,547.1L222.8,545.1ZM237.9,546.1L235.3,547.1L235.3,545.1ZM250.4,546.1L247.8,547.1L247.8,545.1ZM262.9,546.1L260.2,547.1L260.2,545.1ZM275.4,546.1L272.8,547.1L272.8,545.1ZM287.9,546.1L285.2,547.1L285.2,545.1ZM300.4,546.1L297.8,547.1L297.8,545.1ZM312.9,546.1L310.2,547.1L310.2,545.1ZM324.2,546.1L321.6,547.1L321.6,545.1ZM336.8,546.1L334.1,547.1L334.1,545.1ZM349.2,546.1L346.6,547.1L346.6,545.1ZM362.1,546.1L359.4,547.1L359.4,545.1ZM136.8,558.6L134.2,559.6L134.2,557.6ZM149.2,558.6L146.7,559.6L146.7,557.6ZM161.8,558.6L159.2,559.6L159.2,557.6ZM174.2,558.6L171.7,559.6L171.7,557.6ZM186.8,558.6L184.2,559.6L184.2,557.6ZM200.4,558.6L197.8,559.6L197.8,557.6ZM212.9,558.6L210.3,559.6L210.3,557.6ZM225.4,558.6L222.8,559.6L222.8,557.6ZM237.9,558.6L235.3,559.6L235.3,557.6ZM250.4,558.6L247.8,559.6L247.8,557.6ZM261.8,558.6L259.1,559.6L259.1,557.6ZM274.2,558.6L271.6,559.6L271.6,557.6ZM286.8,558.6L284.1,559.6L284.1,557.6ZM299.2,558.6L296.6,559.6L296.6,557.6ZM311.8,558.6L309.1,559.6L309.1,557.6ZM324.2,558.6L321.6,559.6L321.6,557.6ZM336.8,558.6L334.1,559.6L334.1,557.6ZM349.2,558.6L346.6,559.6L346.6,557.6ZM362.1,558.6L359.4,559.6L359.4,557.6ZM136.8,571.1L134.2,572.1L134.2,570.1ZM149.2,571.1L146.7,572.1L146.7,570.1ZM161.8,571.1L159.2,572.1L159.2,570.1ZM174.2,571.1L171.7,572.1L171.7,570.1ZM186.8,571.1L184.2,572.1L184.2,570.1ZM199.2,571.1L196.7,572.1L196.7,570.1ZM211.8,571.1L209.2,572.1L209.2,570.1ZM224.2,571.1L221.7,572.1L221.7,570.1ZM236.8,571.1L234.2,572.1L234.2,570.1ZM249.2,571.1L246.7,572.1L246.7,570.1ZM261.8,571.1L259.1,572.1L259.1,570.1ZM274.2,571.1L271.6,572.1L271.6,570.1ZM286.8,571.1L284.1,572.1L284.1,570.1ZM299.2,571.1L296.6,572.1L296.6,570.1ZM311.8,571.1L309.1,572.1L309.1,570.1ZM324.2,571.1L321.6,572.1L321.6,570.1ZM336.8,571.1L334.1,572.1L334.1,570.1ZM349.2,571.1L346.6,572.1L346.6,570.1ZM362.1,571.1L359.4,572.1L359.4,570.1ZM136.8,583.6L134.2,584.6L134.2,582.6ZM149.2,583.6L146.7,584.6L146.7,582.6ZM161.8,583.6L159.2,584.6L159.2,582.6ZM174.2,583.6L171.7,584.6L171.7,582.6ZM186.8,583.6L184.2,584.6L184.2,582.6ZM199.2,583.6L196.7,584.6L196.7,582.6ZM211.8,583.6L209.2,584.6L209.2,582.6ZM224.2,583.6L221.7,584.6L221.7,582.6ZM236.8,583.6L234.2,584.6L234.2,582.6ZM249.2,583.6L246.7,584.6L246.7,582.6ZM261.8,583.6L259.1,584.6L259.1,582.6ZM274.2,583.6L271.6,584.6L271.6,582.6ZM286.8,583.6L284.1,584.6L284.1,582.6ZM299.2,583.6L296.6,584.6L296.6,582.6ZM311.8,583.6L309.1,584.6L309.1,582.6ZM324.2,583.6L321.6,584.6L321.6,582.6ZM336.8,583.6L334.1,584.6L334.1,582.6ZM349.2,583.6L346.6,584.6L346.6,582.6ZM362.1,583.6L359.4,584.6L359.4,582.6ZM136.8,596.1L134.2,597.1L134.2,595.1ZM149.2,596.1L146.7,597.1L146.7,595.1ZM161.8,596.1L159.2,597.1L159.2,595.1ZM174.2,596.1L171.7,597.1L171.7,595.1ZM186.8,596.1L184.2,597.1L184.2,595.1ZM199.2,596.1L196.7,597.1L196.7,595.1ZM211.8,596.1L209.2,597.1L209.2,595.1ZM224.2,596.1L221.7,597.1L221.7,595.1ZM236.8,596.1L234.2,597.1L234.2,595.1ZM249.2,596.1L246.7,597.1L246.7,595.1ZM261.8,596.1L259.1,597.1L259.1,595.1ZM274.2,596.1L271.6,597.1L271.6,595.1ZM286.8,596.1L284.1,597.1L284.1,595.1ZM299.2,596.1L296.6,597.1L296.6,595.1ZM311.8,596.1L309.1,597.1L309.1,595.1ZM324.2,596.1L321.6,597.1L321.6,595.1ZM336.8,596.1L334.1,597.1L334.1,595.1ZM349.2,596.1L346.6,597.1L346.6,595.1ZM362.1,596.1L359.4,597.1L359.4,595.1ZM136.8,608.6L134.2,609.6L134.2,607.6ZM149.2,608.6L146.7,609.6L146.7,607.6ZM161.8,608.6L159.2,609.6L159.2,607.6ZM174.2,608.6L171.7,609.6L171.7,607.6ZM186.8,608.6L184.2,609.6L184.2,607.6ZM199.2,608.6L196.7,609.6L196.7,607.6ZM211.8,608.6L209.2,609.6L209.2,607.6ZM224.2,608.6L221.7,609.6L221.7,607.6ZM236.8,608.6L234.2,609.6L234.2,607.6ZM249.2,608.6L246.7,609.6L246.7,607.6ZM261.8,608.6L259.1,609.6L259.1,607.6ZM274.2,608.6L271.6,609.6L271.6,607.6ZM286.8,608.6L284.1,609.6L284.1,607.6ZM299.2,608.6L296.6,609.6L296.6,607.6ZM311.8,608.6L309.1,609.6L309.1,607.6ZM324.2,608.6L321.6,609.6L321.6,607.6ZM336.8,608.6L334.1,609.6L334.1,607.6ZM349.2,608.6L346.6,609.6L346.6,607.6ZM362.1,608.6L359.4,609.6L359.4,607.6ZM136.8,621.1L134.2,622.1L134.2,620.1ZM149.2,621.1L146.7,622.1L146.7,620.1ZM161.8,621.1L159.2,622.1L159.2,620.1ZM174.2,621.1L171.7,622.1L171.7,620.1ZM186.8,621.1L184.2,622.1L184.2,620.1ZM199.2,621.1L196.7,622.1L196.7,620.1ZM211.8,621.1L209.2,622.1L209.2,620.1ZM224.2,621.1L221.7,622.1L221.7,620.1ZM236.8,621.1L234.2,622.1L234.2,620.1ZM249.2,621.1L246.7,622.1L246.7,620.1ZM261.8,621.1L259.1,622.1L259.1,620.1ZM274.2,621.1L271.6,622.1L271.6,620.1ZM286.8,621.1L284.1,622.1L284.1,620.1ZM299.2,621.1L296.6,622.1L296.6,620.1ZM311.8,621.1L309.1,622.1L309.1,620.1ZM324.2,621.1L321.6,622.1L321.6,620.1ZM336.8,621.1L334.1,622.1L334.1,620.1ZM349.2,621.1L346.6,622.1L346.6,620.1ZM362.1,621.1L359.4,622.1L359.4,620.1ZM136.8,633.6L134.2,634.6L134.2,632.6ZM149.2,633.6L146.7,634.6L146.7,632.6ZM161.8,633.6L159.2,634.6L159.2,632.6ZM174.2,633.6L171.7,634.6L171.7,632.6ZM186.8,633.6L184.2,634.6L184.2,632.6ZM199.2,633.6L196.7,634.6L196.7,632.6ZM211.8,633.6L209.2,634.6L209.2,632.6ZM224.2,633.6L221.7,634.6L221.7,632.6ZM236.8,633.6L234.2,634.6L234.2,632.6ZM249.2,633.6L246.7,634.6L246.7,632.6ZM261.8,633.6L259.1,634.6L259.1,632.6ZM274.2,633.6L271.6,634.6L271.6,632.6ZM286.8,633.6L284.1,634.6L284.1,632.6ZM299.2,633.6L296.6,634.6L296.6,632.6ZM311.8,633.6L309.1,634.6L309.1,632.6ZM324.2,633.6L321.6,634.6L321.6,632.6ZM336.8,633.6L334.1,634.6L334.1,632.6ZM349.2,633.6L346.6,634.6L346.6,632.6ZM362.1,633.6L359.4,634.6L359.4,632.6ZM136.8,646.1L134.2,647.1L134.2,645.1ZM149.2,646.1L146.7,647.1L146.7,645.1ZM161.8,646.1L159.2,647.1L159.2,645.1ZM174.2,646.1L171.7,647.1L171.7,645.1ZM186.8,646.1L184.2,647.1L184.2,645.1ZM199.2,646.1L196.7,647.1L196.7,645.1ZM211.8,646.1L209.2,647.1L209.2,645.1ZM224.2,646.1L221.7,647.1L221.7,645.1ZM236.8,646.1L234.2,647.1L234.2,645.1ZM249.2,646.1L246.7,647.1L246.7,645.1ZM261.8,646.1L259.1,647.1L259.1,645.1ZM274.2,646.1L271.6,647.1L271.6,645.1ZM286.8,646.1L284.1,647.1L284.1,645.1ZM299.2,646.1L296.6,647.1L296.6,645.1ZM311.8,646.1L309.1,647.1L309.1,645.1ZM324.2,646.1L321.6,647.1L321.6,645.1ZM336.8,646.1L334.1,647.1L334.1,645.1ZM349.2,646.1L346.6,647.1L346.6,645.1ZM362.1,646.1L359.4,647.1L359.4,645.1ZM136.8,658.6L134.2,659.6L134.2,657.6ZM149.2,658.6L146.7,659.6L146.7,657.6ZM161.8,658.6L159.2,659.6L159.2,657.6ZM174.2,658.6L171.7,659.6L171.7,657.6ZM186.8,658.6L184.2,659.6L184.2,657.6ZM199.2,658.6L196.7,659.6L196.7,657.6ZM211.8,658.6L209.2,659.6L209.2,657.6ZM224.2,658.6L221.7,659.6L221.7,657.6ZM236.8,658.6L234.2,659.6L234.2,657.6ZM249.2,658.6L246.7,659.6L246.7,657.6ZM261.8,658.6L259.1,659.6L259.1,657.6ZM274.2,658.6L271.6,659.6L271.6,657.6ZM286.8,658.6L284.1,659.6L284.1,657.6ZM299.2,658.6L296.6,659.6L296.6,657.6ZM311.8,658.6L309.1,659.6L309.1,657.6ZM324.2,658.6L321.6,659.6L321.6,657.6ZM336.8,658.6L334.1,659.6L334.1,657.6ZM349.2,658.6L346.6,659.6L346.6,657.6ZM362.1,658.6L359.4,659.6L359.4,657.6ZM136.8,671.1L134.2,672.1L134.2,670.1ZM149.2,671.1L146.7,672.1L146.7,670.1ZM161.8,671.1L159.2,672.1L159.2,670.1ZM174.2,671.1L171.7,672.1L171.7,670.1ZM186.8,671.1L184.2,672.1L184.2,670.1ZM199.2,671.1L196.7,672.1L196.7,670.1ZM211.8,671.1L209.2,672.1L209.2,670.1ZM224.2,671.1L221.7,672.1L221.7,670.1ZM236.8,671.1L234.2,672.1L234.2,670.1ZM249.2,671.1L246.7,672.1L246.7,670.1ZM261.8,671.1L259.1,672.1L259.1,670.1ZM274.2,671.1L271.6,672.1L271.6,670.1ZM286.8,671.1L284.1,672.1L284.1,670.1ZM299.2,671.1L296.6,672.1L296.6,670.1ZM311.8,671.1L309.1,672.1L309.1,670.1ZM324.2,671.1L321.6,672.1L321.6,670.1ZM336.8,671.1L334.1,672.1L334.1,670.1ZM349.2,671.1L346.6,672.1L346.6,670.1ZM362.1,671.1L359.4,672.1L359.4,670.1Z" fill="#1a1a2c" stroke="#1a1a2c" stroke-width="0.5" stroke-linejoin="round" opacity="0.82"/>
<path d="M121,433.6h0.7M121,446.1h0.7M121,458.6h0.7M121,471.1h0.7M121,483.6h0.7M121,496.1h0.7M121,508.6h0.7M121,521.1h0.7M121,533.6h0.7M121,546.1h0.7M121,558.6h0.7M121,571.1h0.7M121,583.6h0.7M121,596.1h0.7M121,608.6h0.7M121,621.1h0.7M121,633.6h0.7M121,646.1h0.7M121,658.6h0.7M121,671.1h0.7" stroke="#1a1a2c" stroke-width="2.0" stroke-linecap="round" fill="none" opacity="0.82"/>
<path d="M107.2,427.4L107.2,677.4" stroke="#777" stroke-width="0.8" fill="none"/>
<path d="M105.2,427.4L107.5,427.4" stroke="#666" stroke-width="0.7" fill="none"/>
<path d="M105.2,552.4L107.5,552.4" stroke="#666" stroke-width="0.7" fill="none"/>
<path d="M105.2,677.4L107.5,677.4" stroke="#666" stroke-width="0.7" fill="none"/>
<path d="M111,684.5L361,684.5" stroke="#777" stroke-width="0.8" fill="none"/>
<path d="M111,682.5L111,686.5" stroke="#666" stroke-width="0.7" fill="none"/>
<path d="M136,682.5L136,686.5" stroke="#666" stroke-width="0.7" fill="none"/>
<path d="M161,682.5L161,686.5" stroke="#666" stroke-width="0.7" fill="none"/>
<path d="M186,682.5L186,686.5" stroke="#666" stroke-width="0.7" fill="none"/>
<path d="M211,682.5L211,686.5" stroke="#666" stroke-width="0.7" fill="none"/>
<path d="M236,682.5L236,686.5" stroke="#666" stroke-width="0.7" fill="none"/>
<path d="M261,682.5L261,686.5" stroke="#666" stroke-width="0.7" fill="none"/>
<path d="M286,682.5L286,686.5" stroke="#666" stroke-width="0.7" fill="none"/>
<path d="M311,682.5L311,686.5" stroke="#666" stroke-width="0.7" fill="none"/>
<path d="M336,682.5L336,686.5" stroke="#666" stroke-width="0.7" fill="none"/>
<path d="M361,682.5L361,686.5" stroke="#666" stroke-width="0.7" fill="none"/>
<text x="112.5" y="693.6" font-size="7.3" stroke="#1a1a1a" stroke-width="0.15">0.0</text>
<text x="156.3" y="693.6" font-size="7.3" stroke="#1a1a1a" stroke-width="0.15">.0002</text>
<text x="206.3" y="693.6" font-size="7.3" stroke="#1a1a1a" stroke-width="0.15">.0004</text>
<text x="256.3" y="693.6" font-size="7.3" stroke="#1a1a1a" stroke-width="0.15">.0006</text>
<text x="306.3" y="693.6" font-size="7.3" stroke="#1a1a1a" stroke-width="0.15">.0008</text>
<text x="356.3" y="693.6" font-size="7.3" stroke="#1a1a1a" stroke-width="0.15">.0010</text>
<text x="106.2" y="430.7" font-size="7.3" text-anchor="end" stroke="#1a1a1a" stroke-width="0.15">.0010</text>
<text x="100.7" y="687.4" font-size="7.3" text-anchor="end" stroke="#1a1a1a" stroke-width="0.15">.0</text>
<text x="99.3" y="545" font-size="9" font-weight="bold" text-anchor="middle">z</text>
<text x="239" y="701" font-size="9" font-weight="bold" text-anchor="middle">x</text>
<rect x="368" y="427.4" width="11.2" height="249.7" fill="url(#cbp3)" stroke="#666" stroke-width="0.4"/>
<text x="384.5" y="428.1" font-size="7.5" stroke="#1a1a1a" stroke-width="0.15">1.00</text>
<path d="M368,469L379.2,469" stroke="#3a5a3a" stroke-width="0.7" fill="none"/>
<text x="384.5" y="469.7" font-size="7.5" stroke="#1a1a1a" stroke-width="0.15">0.83</text>
<path d="M368,510.6L379.2,510.6" stroke="#3a5a3a" stroke-width="0.7" fill="none"/>
<text x="384.5" y="511.3" font-size="7.5" stroke="#1a1a1a" stroke-width="0.15">0.67</text>
<path d="M368,552.2L379.2,552.2" stroke="#3a5a3a" stroke-width="0.7" fill="none"/>
<text x="384.5" y="553" font-size="7.5" stroke="#1a1a1a" stroke-width="0.15">0.50</text>
<path d="M368,593.9L379.2,593.9" stroke="#3a5a3a" stroke-width="0.7" fill="none"/>
<text x="384.5" y="594.6" font-size="7.5" stroke="#1a1a1a" stroke-width="0.15">0.33</text>
<path d="M368,635.5L379.2,635.5" stroke="#3a5a3a" stroke-width="0.7" fill="none"/>
<text x="384.5" y="636.2" font-size="7.5" stroke="#1a1a1a" stroke-width="0.15">0.17</text>
<text x="384.5" y="675.2" font-size="7.5" stroke="#1a1a1a" stroke-width="0.15">0.00</text>
<text x="211.5" y="405" font-size="9" font-weight="bold" text-anchor="middle" textLength="117.5" lengthAdjust="spacingAndGlyphs">fraction of fluid and vectors</text>
<text x="325" y="405" font-size="6.7" textLength="51" lengthAdjust="spacingAndGlyphs" stroke="#1a1a1a" stroke-width="0.12">(max=2.61E+01)</text>
<path d="M328,406.9L339.7,406.9M341.2,406.9L338.9,405.8L338.9,407.9Z" stroke="#222" stroke-width="0.5" fill="#222"/>
<text x="83.2" y="716.5" font-size="5.4" textLength="155" lengthAdjust="spacingAndGlyphs" stroke="#1a1a1a" stroke-width="0.12" style="white-space:pre">FLOW-3D  t=3.99948468E-04   y=5.250E-04   ix=3 to 22   kz=2 to 21</text>
<text x="83.2" y="721.2" font-size="5.4" textLength="172" lengthAdjust="spacingAndGlyphs" stroke="#1a1a1a" stroke-width="0.12" style="white-space:pre">13:34:38  10/31/2008 jbyh     hydr3d:  version  9.3   win32-ifl 2008</text>
<text x="83.2" y="725.9" font-size="5.4" textLength="10.5" lengthAdjust="spacingAndGlyphs" stroke="#1a1a1a" stroke-width="0.12">Title</text>
<text x="417.5" y="726.5" font-size="6" stroke="#1a1a1a" stroke-width="0.12">9</text>
<g clip-path="url(#p4)">
<g filter="url(#bl)">
<rect x="497.4" y="419" width="266.7" height="266.6" fill="#3f56a7"/>
<path fill="#3c6cc3" d="M686.9,464.5 692.5,463.6 729.5,463.6 732.5,464.2 742,473.5 743.3,476.5 742.4,481.5 742.3,488.5 741.4,492.5 741.2,499.5 738.6,507.5 738.5,510.9 740.5,512.5 748.2,515.5 762.5,515.6 762.5,684.5 499.5,684.5 499.5,526.6 512.5,526.6 516.5,527.5 529.5,527.7 534.5,528.6 592.5,528.6 605.5,526.2 619.5,515.1 631.5,507.5 646.8,496.5 661.8,482.5 673.5,468.4Z"/>
<path fill="#368cdb" d="M689.2,465.5 692.5,465.1 728.5,465.2 730.5,465.4 732.5,466.4 740.5,474.5 741.5,476.5 739.6,498.5 737.1,506.5 736.5,511.5 739.5,513.9 747.5,517.1 762.5,517.3 762.5,684.5 499.5,684.5 499.5,528.1 511.5,528.1 515.5,529 528.5,529.3 533.5,530.2 574.5,530.2 594.5,530 606.3,527.5 620.1,516.5 632.5,508.6 647.5,497.8 662.9,483.5 674.5,469.8Z"/>
<path fill="#33a2e7" d="M687.2,467.5 692.5,466.5 712.5,466.5 726.5,467 730.5,467.7 737.4,474.5 739,477.5 738.8,487.5 737.7,497.5 735,506.5 734.4,510.5 735,512.5 738.5,515.2 746.5,518.6 762.5,519.7 762.5,684.5 499.5,684.5 499.5,529.5 510.5,529.7 515.5,530.7 528.5,531.2 532.5,532 556.5,532.4 594.5,531.3 606.5,528.7 612.6,524.5 621,517.5 633.5,509.5 647.5,499.5 663.8,484.5 675.5,471.3Z"/>
<path fill="#34b5ee" d="M690.7,468.5 720.5,468.6 727.5,469.5 729.8,470.5 735.4,476.5 736.4,481.5 736.5,486.5 735.3,496.5 732.8,505.5 732.2,509.5 732.4,511.5 733.3,513.5 737.5,516.7 745.5,520.4 762.5,522.6 762.5,684.5 499.5,684.5 499.5,531.2 509.5,531.5 514.5,532.5 527.5,533.5 532.5,534.4 557.5,535 575.5,534.3 594.5,532.8 606.5,529.9 613.5,525.6 621.5,518.9 634.4,510.5 648.5,500.4 660.5,489.8 673.5,475.5 676.5,473 686.5,469.4Z"/>
<path fill="#47bbdd" d="M691.4,470.5 711.5,470.3 719.5,470.8 725.5,472 728.5,473.3 732.7,478.5 733.8,484.5 732.6,495.5 729.7,507.5 729.7,510.5 730.6,513.5 732.2,515.5 735.5,518.1 745.5,523 757.5,525.5 762.5,525.9 762.5,684.5 499.5,684.5 499.5,533.3 507.5,533.5 532.5,537.1 556.5,538 576.5,536.9 595.5,534.6 602.5,532.8 608.5,530.7 613.7,527.5 622.5,520.3 646.5,504.1 661.2,491.5 676.5,475.6 679.5,474 686.5,471.5Z"/>
<path fill="#52bdc6" d="M690.1,472.5 712.5,472.2 720.5,473.1 726.8,475.5 730.1,479.5 731.3,484.5 730.2,494.5 727.3,507.5 727.6,511.5 728.7,514.5 730.5,516.6 734.5,519.7 745.5,525.4 756.5,528.3 762.5,529 762.5,684.5 499.5,684.5 499.5,535.2 506.5,535.3 531.5,539.5 557.5,540.8 576.5,539.4 595.5,536.3 602,534.5 609.9,531.5 614.9,528.5 624.5,520.7 647.2,505.5 661.5,493.3 677.5,477.2 680.5,475.6Z"/>
<path fill="#58bbab" d="M688,474.5 693.5,473.8 712.5,473.8 720.5,475 725.5,477.4 727.9,480.5 729.2,485.5 728.2,493.5 725.3,505.5 725.2,509.5 726.5,514.5 729.5,518 733.5,521.1 744.5,527.1 755.5,530.7 762.5,531.6 762.5,684.5 499.5,684.5 499.5,536.8 506.5,537 531.5,541.6 549.5,543.1 557.5,543.1 576.5,541.5 595.5,537.7 601.5,536 610.4,532.5 615.7,529.5 625.5,521.5 647.5,506.9 662.5,494.1 676.5,479.9 680.5,477.4Z"/>
<path fill="#5bb77e" d="M688.7,475.5 693.5,474.9 711.5,475 719.5,476.2 723.8,478.5 726.1,481.5 727.5,486.5 723.7,504.5 723.6,509.5 725.4,515.5 728.5,518.9 733.2,522.5 743.7,528.5 755.5,532.9 758.5,533.6 762.5,533.7 762.5,684.5 499.5,684.5 499.5,538 505.5,538.1 530.5,543.3 549.5,545 558.5,545.1 576.5,543.3 601.5,537 611.5,532.9 617.5,529.5 626.5,522 648.5,507.5 662.5,495.5 677.5,480.6 680.5,478.8Z"/>
<path fill="#62b95b" d="M688.3,476.5 691.5,475.8 711.5,475.8 718.5,476.9 722.5,479 725.1,482.5 726.4,486.5 722.6,503.5 722.5,509.7 724.1,515.5 727.8,519.5 732.5,523.1 743.5,529.6 755.7,534.5 758.5,535.1 762.5,535.2 762.5,684.5 499.5,684.5 499.5,538.8 505.5,539 523.5,543.4 530.5,544.5 535.5,544.6 548.5,546.3 559.5,546.4 577.5,544.3 602.5,537.5 617.5,530.5 626.5,522.9 648.5,508.5 663.5,495.6 677.5,481.6Z"/>
<path fill="#5eb74d" d="M690.8,476.5 711.5,476.5 718.5,477.7 721.9,479.5 724.1,482.5 725.6,486.5 721.8,503.5 721.9,510.5 723.5,515.8 727.5,520.1 732.5,523.9 743.5,530.4 756.5,535.7 762.5,536.1 762.5,684.5 499.5,684.5 499.5,539.6 505.5,539.8 529.5,545.2 544.5,546.3 548.5,547.2 559.5,547.2 577.5,545.1 601.5,538.4 617.5,531.2 626.8,523.5 649.5,508.6 663.5,496.5 677.5,482.4 681.5,480Z"/>
<path fill="#69bb45" d="M689,477.5 692.5,476.9 710.5,477 718.5,478.3 721.5,480.1 723.3,482.5 724.9,486.5 721.2,503.5 721.3,510.5 723.3,516.5 727.5,520.9 732.3,524.5 743.5,531.1 756.5,536.4 762.5,536.8 762.5,684.5 499.5,684.5 499.5,540.2 504.5,540.3 522.5,544.7 529.5,545.9 535.5,546 548.5,547.8 559.5,547.9 577.5,545.8 602.5,538.7 617.5,532 627.5,523.8 648.5,510.2 663.5,497.3 677.5,483.1 681.5,480.7Z"/>
<path fill="#84c544" d="M691.4,477.5 710.5,477.5 717.5,478.7 721,480.5 722.5,482.5 724.2,486.5 720.6,503.5 720.7,510.5 722.6,516.5 727.3,521.5 731.5,524.6 743.5,531.7 756.5,537.1 762.5,537.4 762.5,684.5 499.5,684.5 499.5,540.9 504.5,541 522.5,545.4 529.5,546.5 543.5,547.6 547.5,548.4 560.5,548.5 578.5,546.2 602.5,539.2 617.5,532.7 628,524.5 643.5,514.8 649.5,510.6 664.3,497.5 678.5,483 682.5,480.9Z"/>
<path fill="#a5d040" d="M689.5,478.5 692.5,478.1 710.5,478.1 717.5,479.5 720.5,481.1 723.4,486.5 720.1,502.5 720.1,510.5 721.8,516.5 727.5,522.5 734.5,527.4 742.5,531.9 753.5,536.9 757.5,538 762.5,538 762.5,684.5 499.5,684.5 499.5,541.7 504.5,542 522.5,546.2 529.5,547.3 534.5,547.4 547.5,549.1 560.5,549.2 578.5,546.9 602.5,539.8 618.5,533.2 628.5,525.8 641.7,518.5 650.5,511.9 656.5,506.2 678.5,483.8Z"/>
<path fill="#c6db3b" d="M689.1,479.5 692.5,478.7 709.5,478.8 717.4,480.5 719.2,481.5 721.4,484.5 722.3,487.5 719.3,503.5 719.7,511.5 721.7,517.5 727.5,523.6 734.5,528.3 742.5,532.8 753.5,537.9 757.5,538.8 762.5,538.8 762.5,684.5 499.5,684.5 499.5,543.2 503.5,543.3 528.5,548.2 534.5,548.4 547.5,550.1 560.5,550.1 571.5,549.1 578.5,547.8 603.5,540.2 619.5,534.5 625.5,530.6 639.5,524.1 646.5,519.9 652.5,514.5 662.5,502.6 678.5,484.9 682.2,482.5ZM660.5,529.3 659.8,530.5 660.4,531.5 662.5,531.5 662.9,530.5 662.5,529.5Z"/>
<path fill="#e5e62e" d="M689.4,480.5 693.5,479.7 708.5,479.7 717.8,482.5 719.6,484.5 720.7,487.5 718.5,501.5 718.6,510.5 720,516.5 722,519.5 725.5,523.6 730.5,527.2 748.5,537.1 755.5,539.6 762.5,539.9 762.5,684.5 499.5,684.5 499.5,545.3 503.5,545.5 528.5,549.8 547.5,551.3 561.5,551.3 571.5,550.5 578.5,549.1 608.5,539.4 620.5,536.8 627.5,533.7 645.5,527.9 647.5,527.9 649.5,528.6 653.5,533.5 656.5,535.7 659.5,536.6 663.5,536.3 665.5,535.4 667.6,533.5 668.4,531.5 668.4,529.5 667.8,527.5 666.3,525.5 659.5,521.3 657.7,519.5 657.4,517.5 658.3,514.5 663.8,505.5 678.7,486.5 682.5,483.6Z"/>
<path fill="#f8e228" d="M690.5,481.5 693.5,481 708.5,481.1 716.5,484 718.4,486.5 718.8,488.5 717.1,501.5 717.6,511.5 719.1,517.5 722.5,522.7 725.3,525.5 729.5,528.3 748.5,539 755.5,541.1 762.5,541.3 762.5,684.5 499.5,684.5 499.5,547.9 528.5,551.7 546.5,552.9 562.5,552.9 572.5,552.2 578.5,550.7 594.5,545.1 608.5,541.1 623.5,539.9 630.5,538.4 636.5,537.8 643.5,535.5 647.5,535.9 657.5,539.4 661.5,539.5 664.5,538.9 667.5,537.4 669.7,535.5 670.9,533.5 671.6,530.5 670.5,525.4 665.6,518.5 664.8,516.5 664.8,513.5 666.4,508.5 671.8,499.5 680.5,486.9 683.7,484.5Z"/>
<path fill="#fecf28" d="M693.3,482.5 708.5,482.7 712.8,484.5 715.7,486.5 716.7,490.5 715.6,501.5 716.2,511.5 718.4,519.5 720.8,523.5 723.7,526.5 729.5,530.4 738.5,534.8 746.9,540.5 754.5,542.7 762.5,542.9 762.5,684.5 499.5,684.5 499.5,550.8 521.5,553.3 546.5,554.9 571.5,554.4 579.5,552.4 595.5,546.3 607.5,543.1 611.5,543 618.5,543.8 633.5,547.2 641.5,542.9 644.5,541.8 648.5,541.5 659.5,542.4 665.5,541.2 668.8,539.5 671.5,537.3 673.4,534.5 674.3,531.5 673.9,525.5 670.7,517.5 670.1,514.5 671.4,508.5 674.1,501.5 682.5,487.5 685.5,485.3Z"/>
<path fill="#fbac28" d="M692.1,484.5 707.5,484.3 710.4,485.5 713.7,488.5 714.6,492.5 713.9,506.5 715.6,516.5 718.9,524.5 722.8,528.5 728.5,532 738.5,536.8 745.5,542.6 753.5,544.6 762.5,544.8 762.5,684.5 499.5,684.5 499.5,554.1 520.5,555.9 545.5,557 573.5,556.5 580.5,554.3 596.5,547.7 604.3,545.5 607.5,545.1 613.5,546.2 618.5,548.5 621.9,551.5 626.8,558.5 627.5,559.1 629.5,558.8 645.5,548.4 650.5,546.7 660.5,545.4 665.5,544.1 670.5,541.5 674,538.5 676,535.5 677.4,530.5 677.1,523.5 675.4,515.5 676.4,506.5 677.4,502.5 682.4,491.5 684.3,488.5 687.1,486.5Z"/>
<path fill="#f68628" d="M692.2,486.5 695.5,486 706.5,486.1 709.3,487.5 711.5,490.2 712.3,493.5 712.1,507.5 714.1,517.5 716.8,525.5 721.5,530.4 727.5,534 737.6,538.5 740,540.5 743.5,544.8 752.5,546.6 762.5,546.8 762.5,684.5 499.5,684.5 499.5,557.7 545.5,559.4 574.5,559.1 596.5,549.6 604.5,547.3 607.5,547.3 611.5,548.8 614,550.5 615.3,552.5 616.3,556.5 616.1,566.5 612.4,577.5 612.5,578.7 613.5,579 648.5,555.1 654.5,551.9 668.5,546.4 673.5,543.2 677.3,539.5 680.1,533.5 681.1,528.5 681.5,522.5 680.5,515.5 681.2,502.5 684.7,492.5 686.3,489.5 688.5,487.9Z"/>
<path fill="#f2542b" d="M692.7,488.5 695.5,487.9 705.5,488 707.5,489 709.5,491.8 710.1,494.5 710.2,508.5 714.3,525.5 716.5,529.3 722.5,534 736.9,540.5 738.8,542.5 740.5,546 742.5,547.5 751.5,548.8 762.5,548.9 762.5,684.5 499.5,684.5 499.5,561.4 575.5,561.6 577.5,561.2 587.6,555.5 596.9,551.5 604.5,549.3 606.5,549.3 610.3,551.5 611.1,552.5 611.5,555.5 610.5,560.5 609.5,563.8 604.5,572.7 599.4,583.5 598.5,586.5 598.5,595 602.5,599.1 603.5,599.5 604.5,599.1 612.5,593.3 623.5,582.7 630.5,577 655.5,560.1 666.5,553.3 679.7,541.5 681.5,538.5 683.5,533.5 686.1,524.5 686.1,519.5 685.2,514.5 685.2,508.5 684.5,504.5 684.7,502.5 687.8,491.5 689.5,489.7Z"/>
<path fill="#ef362d" d="M692.7,490.5 696.5,489.7 704.5,489.8 706,490.5 707.5,492.5 708.3,495.5 708.5,509.5 712.8,527.5 714.7,530.5 721.5,535.8 735.5,541.9 737,543.5 738.9,547.5 740.5,549.1 750.5,550.6 762.5,550.7 762.5,684.5 499.5,684.5 499.5,563.6 576.5,563.6 578.5,563.1 588.1,557.5 597.5,553.3 603.6,551.5 606.4,551.5 608.5,553 609.2,554.5 608.1,559.5 607.1,562.5 602.4,570.5 595.9,583.5 594.6,594.5 595.5,597.1 600.7,602.5 602.5,603.9 604.5,603.9 614.5,596.2 624.5,586.3 631.5,580.4 668.2,555.5 682.2,541.5 685.2,534.5 688.6,524.5 688.5,518.5 687.7,514.5 687,503.5 689.5,492.9 690.5,491.5Z"/>
</g>
<path d="M505.4,540L523.2,544.7L554.2,548.2L577.4,545.5L600.7,539.3L617.7,531.5L626.2,524.1L649.4,509.4L668.3,492.5L678.8,482L689.3,477.4L710.3,476.8L720.8,478.9L725,486.2L720.8,503.1L721.9,515.7L731.3,524.1L743.9,531.4L756.1,536.7" fill="none" stroke="#2f7a3c" stroke-width="0.9" stroke-linejoin="round"/>
</g>
<path d="M599.4,433.3L601,433.3M611.9,433.3L613.5,433.3M624.5,433.3L626.1,433.3M637,433.3L638.6,433.3M649.6,433.3L652,433.3M662.1,433.3L665.3,433.3M674.6,433.3L678.7,433.3M687.2,433.3L692.1,433.3M699.7,433.3L705.5,433.3M712.2,433.3L718.9,433.3M724.8,433.3L732.3,433.3M737.3,433.3L745.6,433.3M749.8,433.3L759,433.3M599.4,445.8L601,445.8M611.9,445.8L613.5,445.8M624.5,445.8L626.1,445.8M637,445.8L638.6,445.8M649.6,445.8L651.7,445.8M662.1,445.8L665,445.8M674.6,445.8L678.4,445.8M687.2,445.8L691.8,445.8M699.7,445.8L705.2,445.8M712.2,445.8L718.6,445.8M724.8,445.8L732,445.8M737.3,445.8L745.3,445.8M749.8,445.8L758.7,445.8M599.4,458.3L601.1,457.9M611.9,458.3L613.6,457.9M624.5,458.3L626.2,457.9M637,458.3L638.7,457.9M649.6,458.3L651.4,457.9M662.1,458.3L664.8,457.6M674.6,458.3L678.2,457.4M687.2,458.3L691.5,458.3M699.7,458.3L704.9,458.3M712.2,458.3L718.3,458.3M724.8,458.3L731.7,458.3M737.3,458.3L745,458.3M749.8,458.3L758.4,458.3M599.4,470.9L601.1,470.4M611.9,470.9L613.6,470.4M624.5,470.9L626.2,470.4M637,470.9L638.7,470.4M649.6,470.9L651.2,470.4M662.1,470.9L663.8,470.4M674.6,470.9L676.3,470.4M687.2,470.9L688.8,470.9M699.7,470.9L701.3,470.9M712.2,470.9L713.8,470.9M724.8,470.9L726.4,470.9M737.3,470.9L738.9,470.9M749.8,470.9L751.4,470.9" stroke="#1a1a2c" stroke-width="0.42" fill="none" opacity="0.656"/>
<path d="M603.6,433.3L601,434.3L601,432.3ZM616.1,433.3L613.5,434.3L613.5,432.3ZM628.7,433.3L626.1,434.3L626.1,432.3ZM641.2,433.3L638.6,434.3L638.6,432.3ZM654.6,433.3L652,434.3L652,432.3ZM667.9,433.3L665.3,434.3L665.3,432.3ZM681.3,433.3L678.7,434.3L678.7,432.3ZM694.7,433.3L692.1,434.3L692.1,432.3ZM708.1,433.3L705.5,434.3L705.5,432.3ZM721.5,433.3L718.9,434.3L718.9,432.3ZM734.9,433.3L732.3,434.3L732.3,432.3ZM748.2,433.3L745.6,434.3L745.6,432.3ZM761.6,433.3L759,434.3L759,432.3ZM603.6,445.8L601,446.8L601,444.8ZM616.1,445.8L613.5,446.8L613.5,444.8ZM628.7,445.8L626.1,446.8L626.1,444.8ZM641.2,445.8L638.6,446.8L638.6,444.8ZM654.3,445.8L651.7,446.8L651.7,444.8ZM667.6,445.8L665,446.8L665,444.8ZM681,445.8L678.4,446.8L678.4,444.8ZM694.4,445.8L691.8,446.8L691.8,444.8ZM707.8,445.8L705.2,446.8L705.2,444.8ZM721.2,445.8L718.6,446.8L718.6,444.8ZM734.6,445.8L732,446.8L732,444.8ZM747.9,445.8L745.3,446.8L745.3,444.8ZM761.3,445.8L758.7,446.8L758.7,444.8ZM603.6,457.3L601.3,458.9L600.8,456.9ZM616.1,457.3L613.9,458.9L613.4,456.9ZM628.7,457.3L626.4,458.9L625.9,456.9ZM641.2,457.3L638.9,458.9L638.5,456.9ZM654,457.2L651.7,458.8L651.2,456.9ZM667.3,457L665.1,458.6L664.6,456.7ZM680.7,456.8L678.4,458.4L678,456.5ZM694.1,458.3L691.5,459.3L691.5,457.3ZM707.5,458.3L704.9,459.3L704.9,457.3ZM720.9,458.3L718.3,459.3L718.3,457.3ZM734.3,458.3L731.7,459.3L731.7,457.3ZM747.6,458.3L745,459.3L745,457.3ZM761,458.3L758.4,459.3L758.4,457.3ZM603.6,469.8L601.3,471.4L600.8,469.5ZM616.1,469.8L613.9,471.4L613.4,469.5ZM628.7,469.8L626.4,471.4L625.9,469.5ZM641.2,469.8L638.9,471.4L638.5,469.5ZM653.8,469.8L651.5,471.4L651,469.5ZM666.3,469.8L664,471.4L663.5,469.5ZM678.8,469.8L676.5,471.4L676.1,469.5ZM691.4,470.9L688.8,471.9L688.8,469.9ZM703.9,470.9L701.3,471.9L701.3,469.9ZM716.4,470.9L713.8,471.9L713.8,469.9ZM729,470.9L726.4,471.9L726.4,469.9ZM741.5,470.9L738.9,471.9L738.9,469.9ZM754,470.9L751.4,471.9L751.4,469.9Z" fill="#1a1a2c" stroke="#1a1a2c" stroke-width="0.5" stroke-linejoin="round" opacity="0.656"/>
<path d="M512.8,433.3h0.7M525.3,433.3h0.7M537.8,433.3h0.7M550.4,433.3h0.7M562.9,433.3h0.7M575.4,433.3h0.7M588,433.3h0.7M512.8,445.8h0.7M525.3,445.8h0.7M537.8,445.8h0.7M550.4,445.8h0.7M562.9,445.8h0.7M575.4,445.8h0.7M588,445.8h0.7M512.8,458.3h0.7M525.3,458.3h0.7M537.8,458.3h0.7M550.4,458.3h0.7M562.9,458.3h0.7M575.4,458.3h0.7M588,458.3h0.7M512.8,470.9h0.7M525.3,470.9h0.7M537.8,470.9h0.7M550.4,470.9h0.7M562.9,470.9h0.7M575.4,470.9h0.7M588,470.9h0.7M512.8,483.4h0.7M525.3,483.4h0.7M537.8,483.4h0.7M550.4,483.4h0.7M562.9,483.4h0.7M575.4,483.4h0.7M588,483.4h0.7M600.5,482.6h0.7M613,482.6h0.7M625.6,482.6h0.7M638.1,482.6h0.7M650.7,482.6h0.7M663.2,482.6h0.7M675.1,483.4h0.7M687.7,483.4h0.7M700.2,483.4h0.7M712.7,483.4h0.7M725.3,483.4h0.7M738.4,483.4h0.7M750.9,483.4h0.7M512.8,495.9h0.7M525.3,495.9h0.7M537.8,495.9h0.7M550.4,495.9h0.7M562.9,495.9h0.7M575.4,495.9h0.7M588,495.9h0.7M600.5,495.1h0.7M613,495.1h0.7M625.6,495.1h0.7M638.1,495.1h0.7M650.7,495.1h0.7M662.6,495.9h0.7M675.1,495.9h0.7M712.7,495.9h0.7M725.3,495.9h0.7M738.4,495.9h0.7M750.9,495.9h0.7M512.8,508.4h0.7M525.3,508.4h0.7M537.8,508.4h0.7M550.4,508.4h0.7M562.9,508.4h0.7M575.4,508.4h0.7M588,508.4h0.7M600.5,507.6h0.7M613,507.6h0.7M625.6,507.6h0.7M638.1,507.6h0.7M650.1,508.4h0.7M662.6,508.4h0.7M675.1,508.4h0.7M712.7,508.4h0.7M725.9,508.4h0.7M738.4,508.4h0.7M750.9,508.4h0.7M512.8,521h0.7M525.3,521h0.7M537.8,521h0.7M550.4,521h0.7M562.9,521h0.7M575.4,521h0.7M588,521h0.7M600.5,521h0.7M613,521h0.7M625.6,521h0.7M637.5,521h0.7M650.1,521h0.7M662.6,521h0.7M675.1,521h0.7M712.7,521h0.7M725.3,521h0.7M738.4,521h0.7M750.9,521h0.7M512.8,533.5h0.7M525.3,533.5h0.7M537.8,533.5h0.7M550.4,533.5h0.7M562.9,533.5h0.7M575.4,533.5h0.7M588,533.5h0.7M600.5,533.5h0.7M612.4,533.5h0.7M625,533.5h0.7M637.5,533.5h0.7M650.1,533.5h0.7M662.6,533.5h0.7M675.1,533.5h0.7M725.3,533.5h0.7M737.8,533.5h0.7M750.3,533.5h0.7M512.2,546h0.7M524.7,546h0.7M537.2,546h0.7M549.8,546h0.7M562.3,546h0.7M574.8,546h0.7M587.4,546h0.7M599.9,546h0.7M612.4,546h0.7M625,546h0.7M637.5,546h0.7M650.1,546h0.7M662.6,546h0.7M737.8,546h0.7M750.3,546h0.7M512.2,558.6h0.7M524.7,558.6h0.7M537.2,558.6h0.7M549.8,558.6h0.7M562.3,558.6h0.7M574.8,558.6h0.7M612.4,558.6h0.7M625,558.6h0.7M637.5,558.6h0.7M650.1,558.6h0.7M612.4,571.1h0.7M625,571.1h0.7M637.5,571.1h0.7M599.9,583.6h0.7M612.4,583.6h0.7M599.9,596.2h0.7" stroke="#1a1a2c" stroke-width="1.8" stroke-linecap="round" fill="none" opacity="0.656"/>
<path d="M687.3,495.9h0.7M699.8,495.9h0.7M687.3,508.4h0.7M699.8,508.4h0.7M687.3,521h0.7M699.8,521h0.7M712.3,533.5h0.7M674.7,546h0.7M712.3,546h0.7M724.9,546h0.7M587,558.6h0.7M599.5,558.6h0.7M662.2,558.6h0.7M674.7,558.6h0.7M712.3,558.6h0.7M724.9,558.6h0.7M737.4,558.6h0.7M749.9,558.6h0.7M511.8,571.1h0.7M524.3,571.1h0.7M536.8,571.1h0.7M549.4,571.1h0.7M561.9,571.1h0.7M574.4,571.1h0.7M587,571.1h0.7M599.5,571.1h0.7M649.7,571.1h0.7M662.2,571.1h0.7M674.7,571.1h0.7M724.9,571.1h0.7M737.4,571.1h0.7M749.9,571.1h0.7M511.8,583.6h0.7M524.3,583.6h0.7M536.8,583.6h0.7M549.4,583.6h0.7M561.9,583.6h0.7M574.4,583.6h0.7M587,583.6h0.7M624.6,583.6h0.7M637.1,583.6h0.7M649.7,583.6h0.7M662.2,583.6h0.7M674.7,583.6h0.7M737.4,583.6h0.7M749.9,583.6h0.7M511.8,596.2h0.7M524.3,596.2h0.7M536.8,596.2h0.7M549.4,596.2h0.7M561.9,596.2h0.7M574.4,596.2h0.7M612,596.2h0.7M624.6,596.2h0.7M637.1,596.2h0.7M649.7,596.2h0.7M612,608.7h0.7M624.6,608.7h0.7M637.1,608.7h0.7M599.5,621.2h0.7M612,621.2h0.7M599.5,633.7h0.7" stroke="#1a1a2c" stroke-width="1.8" stroke-linecap="round" fill="none" opacity="0.451"/>
<path d="M687.3,533.5h0.7M699.8,533.5h0.7M687.3,546h0.7M699.8,546h0.7M687.3,558.6h0.7M699.8,558.6h0.7M687.3,571.1h0.7M699.8,571.1h0.7M712.3,571.1h0.7M687.3,583.6h0.7M699.8,583.6h0.7M712.3,583.6h0.7M724.9,583.6h0.7M587,596.2h0.7M662.2,596.2h0.7M674.7,596.2h0.7M687.3,596.2h0.7M699.8,596.2h0.7M712.3,596.2h0.7M724.9,596.2h0.7M737.4,596.2h0.7M749.9,596.2h0.7M511.8,608.7h0.7M524.3,608.7h0.7M536.8,608.7h0.7M549.4,608.7h0.7M561.9,608.7h0.7M574.4,608.7h0.7M587,608.7h0.7M599.5,608.7h0.7M649.7,608.7h0.7M662.2,608.7h0.7M674.7,608.7h0.7M687.3,608.7h0.7M699.8,608.7h0.7M712.3,608.7h0.7M724.9,608.7h0.7M737.4,608.7h0.7M749.9,608.7h0.7M511.8,621.2h0.7M524.3,621.2h0.7M536.8,621.2h0.7M549.4,621.2h0.7M561.9,621.2h0.7M574.4,621.2h0.7M587,621.2h0.7M624.6,621.2h0.7M637.1,621.2h0.7M649.7,621.2h0.7M662.2,621.2h0.7M674.7,621.2h0.7M687.3,621.2h0.7M699.8,621.2h0.7M712.3,621.2h0.7M724.9,621.2h0.7M737.4,621.2h0.7M749.9,621.2h0.7M511.8,633.7h0.7M524.3,633.7h0.7M536.8,633.7h0.7M549.4,633.7h0.7M561.9,633.7h0.7M574.4,633.7h0.7M587,633.7h0.7M612,633.7h0.7M624.6,633.7h0.7M637.1,633.7h0.7M649.7,633.7h0.7M662.2,633.7h0.7M674.7,633.7h0.7M687.3,633.7h0.7M699.8,633.7h0.7M712.3,633.7h0.7M724.9,633.7h0.7M737.4,633.7h0.7M749.9,633.7h0.7M511.8,646.3h0.7M524.3,646.3h0.7M536.8,646.3h0.7M549.4,646.3h0.7M561.9,646.3h0.7M574.4,646.3h0.7M587,646.3h0.7M599.5,646.3h0.7M612,646.3h0.7M624.6,646.3h0.7M637.1,646.3h0.7M649.7,646.3h0.7M662.2,646.3h0.7M674.7,646.3h0.7M687.3,646.3h0.7M699.8,646.3h0.7M712.3,646.3h0.7M724.9,646.3h0.7M737.4,646.3h0.7M749.9,646.3h0.7M511.8,658.8h0.7M524.3,658.8h0.7M536.8,658.8h0.7M549.4,658.8h0.7M561.9,658.8h0.7M574.4,658.8h0.7M587,658.8h0.7M599.5,658.8h0.7M612,658.8h0.7M624.6,658.8h0.7M637.1,658.8h0.7M649.7,658.8h0.7M662.2,658.8h0.7M674.7,658.8h0.7M687.3,658.8h0.7M699.8,658.8h0.7M712.3,658.8h0.7M724.9,658.8h0.7M737.4,658.8h0.7M749.9,658.8h0.7M511.8,671.3h0.7M524.3,671.3h0.7M536.8,671.3h0.7M549.4,671.3h0.7M561.9,671.3h0.7M574.4,671.3h0.7M587,671.3h0.7M599.5,671.3h0.7M612,671.3h0.7M624.6,671.3h0.7M637.1,671.3h0.7M649.7,671.3h0.7M662.2,671.3h0.7M674.7,671.3h0.7M687.3,671.3h0.7M699.8,671.3h0.7M712.3,671.3h0.7M724.9,671.3h0.7M737.4,671.3h0.7M749.9,671.3h0.7" stroke="#1a1a2c" stroke-width="1.8" stroke-linecap="round" fill="none" opacity="0.205"/>
<path d="M501.5,427L501.5,677.6" stroke="#777" stroke-width="0.8" fill="none"/>
<path d="M499.5,427L501.8,427" stroke="#666" stroke-width="0.7" fill="none"/>
<path d="M499.5,552.3L501.8,552.3" stroke="#666" stroke-width="0.7" fill="none"/>
<path d="M499.5,677.6L501.8,677.6" stroke="#666" stroke-width="0.7" fill="none"/>
<path d="M505.4,684.5L756.1,684.5" stroke="#777" stroke-width="0.8" fill="none"/>
<path d="M505.4,682.5L505.4,686.5" stroke="#666" stroke-width="0.7" fill="none"/>
<path d="M530.5,682.5L530.5,686.5" stroke="#666" stroke-width="0.7" fill="none"/>
<path d="M555.5,682.5L555.5,686.5" stroke="#666" stroke-width="0.7" fill="none"/>
<path d="M580.6,682.5L580.6,686.5" stroke="#666" stroke-width="0.7" fill="none"/>
<path d="M605.7,682.5L605.7,686.5" stroke="#666" stroke-width="0.7" fill="none"/>
<path d="M630.8,682.5L630.8,686.5" stroke="#666" stroke-width="0.7" fill="none"/>
<path d="M655.8,682.5L655.8,686.5" stroke="#666" stroke-width="0.7" fill="none"/>
<path d="M680.9,682.5L680.9,686.5" stroke="#666" stroke-width="0.7" fill="none"/>
<path d="M706,682.5L706,686.5" stroke="#666" stroke-width="0.7" fill="none"/>
<path d="M731,682.5L731,686.5" stroke="#666" stroke-width="0.7" fill="none"/>
<path d="M756.1,682.5L756.1,686.5" stroke="#666" stroke-width="0.7" fill="none"/>
<text x="506.9" y="693.6" font-size="7.3" stroke="#1a1a1a" stroke-width="0.15">0.0</text>
<text x="550.8" y="693.6" font-size="7.3" stroke="#1a1a1a" stroke-width="0.15">.0002</text>
<text x="601" y="693.6" font-size="7.3" stroke="#1a1a1a" stroke-width="0.15">.0004</text>
<text x="651.1" y="693.6" font-size="7.3" stroke="#1a1a1a" stroke-width="0.15">.0006</text>
<text x="701.3" y="693.6" font-size="7.3" stroke="#1a1a1a" stroke-width="0.15">.0008</text>
<text x="751.4" y="693.6" font-size="7.3" stroke="#1a1a1a" stroke-width="0.15">.0010</text>
<text x="500.5" y="430.3" font-size="7.3" text-anchor="end" stroke="#1a1a1a" stroke-width="0.15">.0010</text>
<text x="495" y="687.4" font-size="7.3" text-anchor="end" stroke="#1a1a1a" stroke-width="0.15">.0</text>
<text x="492.6" y="545" font-size="9" font-weight="bold" text-anchor="middle">z</text>
<text x="634.5" y="701" font-size="9" font-weight="bold" text-anchor="middle">x</text>
<rect x="763.8" y="427" width="11.1" height="250.3" fill="url(#cbp4)" stroke="#666" stroke-width="0.4"/>
<text x="779.6" y="427.7" font-size="7.5" stroke="#1a1a1a" stroke-width="0.15">1.00</text>
<path d="M763.8,468.7L774.9,468.7" stroke="#3a5a3a" stroke-width="0.7" fill="none"/>
<text x="779.6" y="469.4" font-size="7.5" stroke="#1a1a1a" stroke-width="0.15">0.83</text>
<path d="M763.8,510.4L774.9,510.4" stroke="#3a5a3a" stroke-width="0.7" fill="none"/>
<text x="779.6" y="511.1" font-size="7.5" stroke="#1a1a1a" stroke-width="0.15">0.67</text>
<path d="M763.8,552.2L774.9,552.2" stroke="#3a5a3a" stroke-width="0.7" fill="none"/>
<text x="779.6" y="552.9" font-size="7.5" stroke="#1a1a1a" stroke-width="0.15">0.50</text>
<path d="M763.8,593.9L774.9,593.9" stroke="#3a5a3a" stroke-width="0.7" fill="none"/>
<text x="779.6" y="594.6" font-size="7.5" stroke="#1a1a1a" stroke-width="0.15">0.33</text>
<path d="M763.8,635.6L774.9,635.6" stroke="#3a5a3a" stroke-width="0.7" fill="none"/>
<text x="779.6" y="636.3" font-size="7.5" stroke="#1a1a1a" stroke-width="0.15">0.17</text>
<text x="779.6" y="675.4" font-size="7.5" stroke="#1a1a1a" stroke-width="0.15">0.00</text>
<text x="606" y="404.5" font-size="9" font-weight="bold" text-anchor="middle" textLength="117.5" lengthAdjust="spacingAndGlyphs">fraction of fluid and vectors</text>
<text x="719.6" y="404.5" font-size="6.7" textLength="50.5" lengthAdjust="spacingAndGlyphs" stroke="#1a1a1a" stroke-width="0.12">(max=4.58E+01)</text>
<path d="M722.6,406.4L734.3,406.4M735.8,406.4L733.5,405.3L733.5,407.4Z" stroke="#222" stroke-width="0.5" fill="#222"/>
<text x="477.2" y="715.5" font-size="5.4" textLength="155" lengthAdjust="spacingAndGlyphs" stroke="#1a1a1a" stroke-width="0.12" style="white-space:pre">FLOW-3D  t=2.49910406E-04   y=5.250E-04   ix=3 to 22   kz=2 to 21</text>
<text x="477.2" y="720.2" font-size="5.4" textLength="172" lengthAdjust="spacingAndGlyphs" stroke="#1a1a1a" stroke-width="0.12" style="white-space:pre">13:34:38  10/31/2008 jbyh     hydr3d:  version  9.3   win32-ifl 2008</text>
<text x="477.2" y="724.9" font-size="5.4" textLength="10.5" lengthAdjust="spacingAndGlyphs" stroke="#1a1a1a" stroke-width="0.12">Title</text>
<text x="812" y="726.5" font-size="6" stroke="#1a1a1a" stroke-width="0.12">6</text>
<path d="M660.3,527.5L668,527L667.2,535L663.2,538.2L660.6,536Z" fill="#74b860" fill-opacity="0.55" stroke="#2f7a3c" stroke-width="0.8"/>
<path d="M425.2,138.7L446.9,138.7L446.9,115.2L470.9,165L446.9,216L446.9,192L425.2,192Z" fill="url(#ar1)"/>
<path d="M621,340.9L678,340.9L678,365.1L700.1,365.1L648.8,390.8L598.3,365.1L621,365.1Z" fill="url(#ar2)"/>
<path d="M471.2,535.1L446.3,535.1L446.3,512.9L421.1,562.7L446.3,612.5L446.3,589.1L471.2,589.1Z" fill="url(#ar3)"/>
<text x="452" y="772.5" font-family="Liberation Serif, serif" font-size="18" text-anchor="middle">(a)</text>
<text x="452.5" y="1276.5" font-family="Liberation Serif, serif" font-size="18" text-anchor="middle">(b)</text>
<g clip-path="url(#p5)">
<g filter="url(#bl2)">
<rect x="32.3" y="826.6" width="352.7" height="350.7" fill="#3a4ea5"/>
<path fill="#3c5bb6" d="M32.5,826.5 385.5,826.5 385.5,1177.5 32.5,1177.5 32.5,1032.5 40.5,1032.5 44.5,1030.5 48.5,1025.5 50.5,1021.5 50.5,1017.5 51.5,1016.5 51.5,1010.5 50.5,1009.5 50.5,1006.5 46.5,998.5 42.5,995.5 32.5,995.5Z"/>
<path fill="#3e62c1" d="M32.5,826.5 385.5,826.5 385.5,1177.5 32.5,1177.5 32.5,1035.2 40.5,1035.2 44.5,1033.2 47.5,1030.5 52,1022.5 53.4,1013.5 51.5,1003.5 47.1,996.5 40.5,993 32.5,992.9Z"/>
<path fill="#3d6fca" d="M32.5,826.5 385.5,826.5 385.5,1177.5 32.5,1177.5 32.5,1037.6 40.5,1037.6 44.5,1035.8 48.4,1032.5 53.1,1024.5 55,1013.5 53.3,1003.5 50.9,998.5 48.5,995.5 45.5,993.5 40.5,991.7 32.5,991.7Z"/>
<path fill="#3d7dd3" d="M32.5,826.5 385.5,826.5 385.5,1177.5 32.5,1177.5 32.5,1040.1 41.5,1039.7 45.5,1037.8 49.5,1034.3 52.8,1029.5 55,1024.5 56.6,1013.5 55.1,1003.5 52.9,998.5 50.7,995.5 48,993.5 42.5,991.3 32.5,990.8Z"/>
<path fill="#3c8bdb" d="M32.5,826.5 385.5,826.5 385.5,1177.5 32.5,1177.5 32.5,1042.7 40.5,1042.7 42.5,1042 46.5,1039.9 50.5,1036.4 54,1031.5 56.2,1026.5 57.8,1020.5 58.3,1013.5 56.9,1003.5 54.9,998.5 52.8,995.5 48.3,992.5 42.2,990.5 32.5,990.1Z"/>
<path fill="#3e99e2" d="M32.5,826.5 385.5,826.5 385.5,1177.5 32.5,1177.5 32.5,1045.6 40.5,1045.6 42.5,1044.9 47.5,1042.3 51.5,1038.7 55.2,1033.5 57.9,1027.5 59.5,1021.5 60.1,1014.5 58.8,1003.5 56.9,998.5 54.5,995.2 50.3,992.5 44.6,990.5 40.5,989.5 32.5,989.5Z"/>
<path fill="#3fa7e8" d="M32.5,826.5 385.5,826.5 385.5,1177.5 32.5,1177.5 32.5,1049 40.5,1048.9 43.5,1047.9 48.5,1045 53.3,1040.5 57.3,1034.5 59.9,1028.5 61.5,1021.5 62.1,1014.5 61.6,1007.5 60.2,1001.5 58.4,997.5 55.7,994.5 49.8,991.5 42.8,989.5 32.5,989Z"/>
<path fill="#41b4ee" d="M32.5,826.5 385.5,826.5 385.5,1177.5 32.5,1177.5 32.5,1053 40.5,1053 43.5,1051.9 49.5,1048.4 54.7,1043.5 58.7,1037.5 61.8,1030.5 63.7,1022.5 64.3,1014.5 63.8,1007.5 62.4,1001.5 60.4,997.5 57.4,994.5 54.3,992.5 44.9,989.5 40.5,988.5 32.5,988.5Z"/>
<path fill="#48bbed" d="M32.5,826.5 385.5,826.5 385.5,1177.5 32.5,1177.5 32.5,1058.7 40.5,1058.6 44.5,1056.9 50.5,1053.1 56.5,1047.2 60.9,1040.5 64.3,1032.5 66.2,1024.5 66.9,1015.5 65.3,1002.5 63.4,998.5 60.5,995.5 54.5,991.8 46.8,989.5 40.5,988.1 32.5,988.1Z"/>
<path fill="#4fc2eb" d="M32.5,826.5 385.5,826.5 385.5,1177.5 86.4,1177.5 86.4,1169.5 68.5,1145.3 55.5,1125.9 45.5,1108.4 40.5,1096 39.5,1095 32.5,1095 32.5,1072.1 40.5,1071.6 53.5,1059.5 60,1051.5 64.5,1043.5 67.8,1034.5 69.7,1025.5 70.3,1016.5 68.7,1003.5 66.6,999.5 63.7,996.5 57.4,992.5 52.4,990.5 40.5,987.7 32.5,987.6Z"/>
<path fill="#53c4e7" d="M32.5,826.5 385.5,826.5 385.5,1177.5 150.7,1177.5 150.7,1169.5 150,1168.5 123.5,1139.3 99.5,1111.2 79.5,1085.8 71.7,1073.5 69.8,1067.5 69.5,1061.5 74.2,1035.5 75.4,1021.5 74.6,1009.5 72.3,1002.5 67.4,997.5 55.5,990.9 40.5,987.2 32.5,987.2Z"/>
<path fill="#58c6e2" d="M32.5,826.5 385.5,826.5 385.5,1177.5 223.9,1177.5 223.9,1169.5 223.1,1168.5 158.5,1103.2 130.5,1072.8 105.5,1044 94.5,1029.5 85,1010.5 80.2,1004.5 72.2,998.5 55.5,990.2 40.5,986.7 32.5,986.7Z"/>
<path fill="#5cc7dd" d="M32.5,826.5 385.5,826.5 385.5,1177.5 303.7,1177.5 303.7,1169.5 302.8,1168.5 243.5,1113.7 165.2,1036.5 151.1,1024.5 142.9,1019.5 131.3,1014.5 114.9,1009.5 88.5,1003.4 54.5,989.2 40.5,986.2 32.5,986.1Z"/>
<path fill="#61c8d8" d="M32.5,826.5 385.5,826.5 385.5,1159.4 376.5,1158.9 258.5,1054.5 241.7,1041.5 226.2,1032.5 203.8,1023.5 175.3,1015.5 141.9,1008.5 88.5,1000.5 66.5,993.3 54.5,988.5 40.5,985.6 32.5,985.5Z"/>
<path fill="#67cad0" d="M32.5,826.5 385.5,826.5 385.5,1085.3 376.5,1084.8 345.3,1059.5 323.8,1045.5 306.9,1037.5 286.4,1030.5 237.7,1019.5 193.4,1011.5 143.5,1004.1 88.5,998.1 66.5,992.1 54.5,987.6 40.5,984.7 32.5,984.7Z"/>
<path fill="#6dcbca" d="M32.5,826.5 385.5,826.5 385.5,1032.1 376.5,1032 345.1,1024.5 289.5,1016.1 168.5,1001.9 88.5,995.3 70.5,991.4 54.5,986.2 45.5,984.2 40.5,983.3 32.5,983.3Z"/>
<path fill="#70cbc0" d="M44.6,826.5 385.5,826.5 385.5,1007.2 329.5,1005 254.5,996.8 199.5,989.1 162.5,982.5 136.5,976.5 126.5,972.8 110.5,969.3 102.5,969.4 97.5,970.6 93.2,978.5 88.4,984.5 84.5,986.9 77.5,988.8 70.5,988.9 53.2,982.5 49.7,979.5 46.9,973.5 44.6,959.5Z"/>
<path fill="#6fcab5" d="M46.6,826.5 385.5,826.5 385.5,987.8 329.5,987.9 221.5,972.9 199.5,969.7 193.5,967.8 143.8,960.5 123.5,958.6 107.9,959.5 95.5,963.5 91.5,965.8 83.5,980.5 80.5,983.5 73.5,987 65.5,984.8 56.5,980.4 51,974.5 48.7,970.5 46.8,959.5Z"/>
<path fill="#6fc9aa" d="M47.5,826.5 385.5,826.5 385.5,977.1 329.5,977.2 200.5,963.9 194.5,962.3 177.6,960.5 137.5,956.4 134.5,957 123.5,956 107.5,957.4 95.5,961.8 90.5,964.3 85.4,974.5 82.3,979.5 79.5,982.2 72.5,985.6 65.5,983.2 57.5,979.2 51.3,972.5 49.5,969.5 47.6,958.5Z"/>
<path fill="#6ec89f" d="M48.1,826.5 385.5,826.5 385.5,969.7 329.5,969.9 200.5,960.1 193,958.5 137.5,954.3 133.5,955 122.5,954.2 107.5,956.1 90.5,962.9 84.1,974.5 79.5,981 72.5,984.6 66.5,982.5 57.5,977.9 51.7,971.5 50.4,969.5 48.3,958.5Z"/>
<path fill="#6ec794" d="M48.6,826.5 385.5,826.5 385.5,963.8 329.5,964 200.5,957.1 196.5,955.9 151.7,953.5 136.5,952.7 133.5,953.5 122.5,952.9 106.5,955.2 89.5,962.2 83.9,973.5 78.8,980.5 72.5,983.9 66.5,981.6 58.3,977.5 51.5,970 48.7,958.5Z"/>
<path fill="#6ec689" d="M48.9,826.5 385.5,826.5 385.5,958.7 329.5,959 200.5,954.6 197.5,953.5 136.5,951.3 133.5,952.2 121.5,951.9 114.5,953.5 111.5,953.4 109.5,954.4 106.5,954.3 89.5,961.4 83.1,973.5 78.5,979.9 72.5,983.2 66.5,980.9 58.5,976.9 52.6,970.5 51.4,968.5 49,958.5Z"/>
<path fill="#6ec47e" d="M49.2,826.5 385.5,826.5 385.5,954 329.5,954.3 200.5,952.3 197.5,951.3 135.5,950.1 133.5,951.1 121.5,950.8 114.5,952.7 110.5,952.8 109.5,953.6 105.5,953.6 88.5,961.4 79.5,978 72.5,982.6 59.2,976.5 57.5,974.7 51.7,968.5 49.3,958.5Z"/>
<path fill="#6fc375" d="M49.4,826.5 385.5,826.5 385.5,950 200.5,950.3 199.5,949.3 134.5,949.2 133.5,950.2 120.5,950.2 119.5,951.2 115.5,951.2 114.5,952.2 105.5,953.2 95.5,958.3 93.5,958.3 90.5,960.4 88.5,960.4 79.3,977.5 72.5,982.2 69.5,980.3 67.5,980.3 59.5,976.3 52,968.5 52,966.5 50.4,962.5 49.5,941.5Z"/>
<path fill="#6fc36e" d="M49.8,826.5 385.5,826.5 385.5,945.9 201.5,949 199.5,948 134.5,948.7 133.5,949.7 120.5,949.7 119.5,950.8 115.5,950.8 114.5,951.8 105.5,952.9 95.5,958 93.5,958.1 90.5,960.1 88.5,960.2 87.2,961.5 79.1,977.5 72.5,982 69.5,980 67.5,980 59.5,976 53.2,969.5 51.4,965.5 50.1,957.5Z"/>
<path fill="#70c268" d="M50.2,826.5 385.5,826.5 385.5,941.2 329.5,941.8 202.5,946.7 199.5,945.8 134.5,947.7 132.5,948.8 120.5,949.1 118.5,950.1 110.5,951.4 109.5,952.3 105.5,952.5 95.5,957.7 93.5,957.8 90.5,959.9 88.5,959.9 86.9,961.5 78.8,977.5 77.5,978.8 74.5,979.8 72.5,981.7 69.5,979.7 67.5,979.7 59.5,975.7 53.5,969.5 50.6,957.5Z"/>
<path fill="#71c160" d="M50.6,826.5 385.5,826.5 385.5,936 329.5,936.7 203.5,944.3 199.5,943.5 134.5,946.5 131.5,947.6 120.5,948.1 108.5,951.7 105.5,951.9 95.5,957.3 93.5,957.5 90.5,959.6 88.5,959.7 86.7,961.5 78.5,977.5 72.5,981.1 59.5,975.3 56.9,972.5 53.1,967.5 51.1,957.5Z"/>
<path fill="#72c05a" d="M50.9,826.5 385.5,826.5 385.5,930 329.5,931 231.3,939.5 134.5,945.2 131.5,946.4 120.5,947 104.5,951.4 88.1,959.5 77.5,977.3 72.5,980.2 60.5,974.8 56.5,971 53.7,967.5 51.6,957.5 50.9,924.5Z"/>
<path fill="#74c156" d="M51.3,826.5 385.5,826.5 385.5,922.4 329.5,923.8 221.4,936.5 204.5,938.3 199.5,937.8 134.5,943.7 130.5,944.9 120.5,945.8 104.5,950.5 94.5,956.2 87.5,959.2 77.4,976.5 72.5,979.4 71.5,979.2 60.5,974.2 56.5,970.2 54.4,967.5 52,956.5 51.3,924.5Z"/>
<path fill="#77c152" d="M51.8,826.5 385.5,826.5 385.5,910.6 329.5,913.1 276.9,922.5 213.5,932.5 205.5,933.7 199.5,933.6 119.5,944.4 104.5,949.4 94.5,955.4 87.5,958.5 85.6,960.5 76.6,976.5 71.5,978.4 60.5,973.3 56.5,969 55.2,967.5 52.6,956.5 51.8,924.5Z"/>
<path fill="#79c24d" d="M52.2,826.5 375.7,826.5 372.8,844.5 370.4,851.5 367.2,857.5 363.4,862.5 358.2,867.5 345.3,875.5 330.5,881.4 314.9,889.5 296.6,897.5 274.8,905.5 249.6,913.5 206.5,925.5 200.5,926.2 164.4,934.5 119.5,942.4 109.5,945.6 104.5,947.9 86.6,958.5 76.2,975.5 72.5,977.4 65.5,975 60.9,972.5 58.9,970.5 55.8,966.5 53.3,956.5 52.2,924.5Z"/>
<path fill="#81c54a" d="M52.7,826.5 189.5,826.5 189.4,889.5 188.1,905.5 183.9,911.5 179.2,916.5 172.6,921.5 165.3,925.5 149.5,931.5 118.5,939.2 104.5,945 94,953.5 86.5,957.7 84.8,959.5 78.5,970.9 74.5,975.5 72.5,976.3 69.5,975.8 61.5,971.7 56.9,966.5 56,963.5 54.3,956.5 53.4,944.5 52.7,924.5Z"/>
<path fill="#8cc947" d="M53.2,826.5 159.4,826.5 159.1,905.5 151.4,914.5 141.5,922 129.5,927.7 112.5,933.4 107.5,936.3 94.2,951.5 84.5,958.7 77.6,970.5 74.5,974 72.5,974.9 69.5,974.4 65.7,972.5 60.5,968.6 58.2,965.5 55.3,955.5 53.2,925.5Z"/>
<path fill="#97cd44" d="M53.8,826.5 140,826.5 140,904.5 136.5,908.3 130.5,912.8 112.5,921.9 107.5,925.9 102.5,932.6 92.5,950.5 83.6,958.5 76.5,969.5 72.5,972.8 70.2,972.5 64.6,969.5 60.5,965 56.8,955.5 55,944.5 53.8,924.5Z"/>
<path fill="#a3d142" d="M54.5,826.5 120.9,826.5 120.9,904.5 110.5,911.7 106.5,915.9 103.5,920.8 91.2,948.5 88.3,952.5 82.5,958.1 76.5,966.4 74.5,968.1 71.5,969.1 66.5,966.9 62.5,962.1 58.5,954.4 55.5,941.5 54.5,924.5Z"/>
<path fill="#b0d53f" d="M55.2,826.5 106.3,826.5 106.3,904.5 101.5,914.5 93.9,937.5 89.3,947.5 86.8,951.5 77.5,961.7 74.5,963.9 72.5,964.4 68.5,963.1 62.5,956.8 58.5,948.4 56.7,941.5 55.2,924.5Z"/>
<path fill="#bdd93d" d="M56.1,826.5 101,826.5 100.8,905.5 95.7,925.5 89.9,942.5 86.5,948.5 81.5,954.8 77.5,958.3 73.5,959.7 68.5,958.5 64,954.5 59.5,946.4 57.5,938.5 56.1,924.5Z"/>
<path fill="#cadd3a" d="M57,826.5 97.9,826.5 97.8,905.5 93.8,925.5 88.5,941.5 80.9,952.5 77.5,955.3 74.5,956.5 71.5,956.5 68.5,955.2 62.5,948.4 59.5,942.1 57.7,931.5 57,924.5Z"/>
<path fill="#d5e136" d="M58,826.5 95.6,826.5 95.6,904.5 92.3,924.5 86.2,942.5 80.5,949.8 77.5,952.3 74.5,953.5 71.5,953.4 68.5,951.9 62.8,945.5 60.6,940.5 58.2,926.5Z"/>
<path fill="#dfe432" d="M59.1,826.5 93.7,826.5 93.7,904.5 90.8,924.5 84.5,942.5 79.5,948.1 74.5,950.5 71.5,950.3 68.5,948.9 63.5,943.5 61.4,937.5 59.1,925.5Z"/>
<path fill="#e9e72d" d="M60.2,826.5 92,826.5 92,904.5 89.4,924.5 83.3,941.5 78.5,946.4 74.5,948.1 69.5,947.1 64.8,942.5 62.5,935.9 60.3,925.5Z"/>
<path fill="#f3ea29" d="M61.3,826.5 90.5,826.5 90.5,904.5 88.1,924.5 84.8,934.5 81.4,941.5 78.5,944.2 74.5,945.9 70.5,945.3 66.5,942 63.9,935.5 61.4,925.5Z"/>
<path fill="#f7e628" d="M62.5,826.5 89.1,826.5 89.1,904.5 86.8,924.5 83.7,933.5 80.5,939.7 78,942.5 74.5,943.8 70.5,943 67.9,940.5 64.8,933.5 62.5,924.5Z"/>
<path fill="#f9df28" d="M63.8,826.5 87.8,826.5 87.7,905.5 85.5,924.5 84.5,927.9 79.5,938 76.5,941 74.5,941.8 70.5,939.8 68.5,937.4 65.8,931.5 63.8,924.5Z"/>
<path fill="#fbd928" d="M65.1,826.5 86.5,826.5 86.5,905.5 84,925.5 79.5,935 77.3,937.5 74.5,939.1 73.5,937.4 70.5,936 68.5,933.3 65.1,924.5Z"/>
<path fill="#fdd228" d="M66.6,826.5 85.2,826.5 85.2,905.5 82.7,925.5 78.5,933.3 74.5,936.2 73.5,933.7 71.5,933 69.5,930.9 66.6,924.5Z"/>
<path fill="#ffca28" d="M68.4,826.5 83.9,826.5 83.9,905.5 81.3,925.5 77.5,931.4 74.5,933.4 73.5,929.9 70.5,928.3 68.4,924.5Z"/>
<path fill="#fdbe28" d="M71,826.5 82.6,826.5 82.5,905.5 80,924.5 77.5,928.5 74.5,930.5 73.5,926.2 71.6,925.5 71,924.5Z"/>
<path fill="#fcb128" d="M73.7,826.5 81.1,826.5 81.1,904.5 78,924.5 76.5,926.6 74.5,927.7 73.8,912.5Z"/>
<path fill="#faa428" d="M74,826.5 79.5,826.5 79.5,904.5 76.5,919.6 74.5,924.2Z"/>
<path fill="#f89828" d="M74.3,826.5 77.2,826.5 77.2,904.5 74.5,912.2Z"/>
</g>
<path d="M40.3,986.9L55,989.5L66.4,993.5L88.5,999L143.8,1003.9L200,1009.7L255.3,1015L320,1017.5L377,1018.4" fill="none" stroke="#2c6f5e" stroke-width="0.9" stroke-linejoin="round"/>
</g>
<rect x="40.3" y="834.6" width="336.7" height="334.7" fill="none" stroke="#4d8f6a" stroke-width="0.6"/>
<path d="M50.3,843L53.2,843M67.2,843L75.3,843M84,843L90.8,843M100.8,843L106.3,843M117.7,843L122.9,843M134.5,843L139.5,843M151.3,843L155.6,843M168.2,843L172.5,843M185,843L189.3,843M201.8,843L206.1,843M218.7,843L223,843M235.5,843L239.8,843M252.3,843L256.6,843M269.2,843L273.5,843M286,843L290.3,843M302.8,843L307.1,843M319.7,843L324,843M336.5,843L340.8,843M353.3,843L357.6,843M370.2,843L374.5,843M50.3,859.7L53.2,859.7M67.2,859.7L75.3,859.7M84,859.7L90.8,859.7M100.8,859.7L106.3,859.7M117.7,859.7L122.9,859.7M134.5,859.7L139.5,859.7M151.3,859.7L155.6,859.7M168.2,859.7L172.5,859.7M185,859.7L189.3,859.7M201.8,859.7L206.1,859.7M218.7,859.7L223,859.7M235.5,859.7L239.8,859.7M252.3,859.7L256.6,859.7M269.2,859.7L273.5,859.7M286,859.7L290.3,859.7M302.8,859.7L307.1,859.7M319.7,859.7L324,859.7M336.5,859.7L340.8,859.7M353.3,859.7L357.6,859.7M370.2,859.7L374.5,859.7M50.3,876.4L53.2,876.4M67.2,876.4L75.3,876.4M84,876.4L90.8,876.4M100.8,876.4L106.3,876.4M117.7,876.4L122.9,876.4M134.5,876.4L139.5,876.4M151.3,876.4L155.6,876.4M168.2,876.4L172.5,876.4M185,876.4L189.3,876.4M201.8,876.4L206.1,876.4M218.7,876.4L223,876.4M235.5,876.4L239.8,876.4M252.3,876.4L256.6,876.4M269.2,876.4L273.5,876.4M286,876.4L290.3,876.4M302.8,876.4L307.1,876.4M319.7,876.4L324,876.4M336.5,876.4L340.8,876.4M353.3,876.4L357.6,876.4M370.2,876.4L374.5,876.4M50.3,893.2L53.2,893.2M67.2,893.2L75.3,893.2M84,893.2L90.8,893.2M100.8,893.2L106.3,893.2M117.7,893.2L122.9,893.2M134.5,893.2L139.5,893.2M151.3,893.2L155.6,893.2M168.2,893.2L172.5,893.2M185,893.2L189.3,893.2M201.8,893.2L206.1,893.2M218.7,893.2L223,893.2M235.5,893.2L239.8,893.2M252.3,893.2L256.6,893.2M269.2,893.2L273.5,893.2M286,893.2L290.3,893.2M302.8,893.2L307.1,893.2M319.7,893.2L324,893.2M336.5,893.2L340.8,893.2M353.3,893.2L357.6,893.2M370.2,893.2L374.5,893.2M50.3,909.9L53.2,909.9M67.2,909.9L75.3,909.9M84,909.9L90.8,909.9M100.8,909.9L106.3,909.9M117.7,909.9L122.9,909.9M134.5,909.9L139.5,909.9M151.3,909.9L155.6,909.9M168.2,909.9L172.5,909.9M185,909.9L189.3,909.9M201.8,909.9L206.1,909.9M218.7,909.9L223,909.9M235.5,909.9L239.8,909.9M252.3,909.9L256.6,909.9M269.2,909.9L273.5,909.9M286,909.9L290.3,909.9M302.8,909.9L307.1,909.9M319.7,909.9L324,909.9M336.5,909.9L340.8,909.9M353.3,909.9L357.6,909.9M370.2,909.9L374.5,909.9M50.3,926.6L53.2,926.6M67.2,926.6L75.3,927.5M84,926.6L90.8,926.6M100.8,926.6L106.3,926.6M117.7,926.6L122.9,926.6M134.5,926.6L139.5,926.6M151.3,926.6L155.6,926.6M168.2,926.6L172.5,926.6M185,926.6L189.3,926.6M201.8,926.6L206.1,926.6M218.7,926.6L223,926.6M235.5,926.6L239.8,926.6M252.3,926.6L256.6,926.6M269.2,926.6L273.5,926.6M286,926.6L290.3,926.6M302.8,926.6L307.1,926.6M319.7,926.6L324,926.6M336.5,926.6L340.8,926.6M353.3,926.6L357.6,926.6M370.2,926.6L374.5,926.6M50.3,943.4L53.2,943.4M67.2,943.4L75.3,944.2M84,943.4L90.8,943.4M100.8,943.4L106.3,943.4M117.7,943.4L122.9,943.4M134.5,943.4L139.5,943.4M151.3,943.4L155.6,943.4M168.2,943.4L172.5,943.4M185,943.4L189.3,943.4M201.8,943.4L206.1,943.4M218.7,943.4L223,943.4M235.5,943.4L239.8,943.4M252.3,943.4L256.6,943.4M269.2,943.4L273.5,943.4M286,943.4L290.3,943.4M302.8,943.4L307.1,943.4M319.7,943.4L324,943.4M336.5,943.4L340.8,943.4M353.3,943.4L357.6,943.4M370.2,943.4L374.5,943.4M50.3,960.1L53.2,960.5M67.2,960.1L70.5,960.5M84,960.1L87.3,960.5M100.8,960.1L104.1,960.5M117.7,960.1L121,960.1M134.5,960.1L137.8,960.1M151.3,960.1L154.6,960.1M168.2,960.1L171.5,960.1M185,960.1L188.3,960.1M201.8,960.1L205.1,960.1M218.7,960.1L222,960.1M235.5,960.1L238.8,960.1M252.3,960.1L255.6,960.1M269.2,960.1L272.5,960.1M286,960.1L289.3,960.1M302.8,960.1L306.1,960.1M319.7,960.1L323,960.1M336.5,960.1L339.8,960.1M353.3,960.1L356.6,960.1M370.2,960.1L373.5,960.1M50.3,976.8L53.2,977.2M67.2,976.8L70.5,977.2M84,976.8L87.3,977.2M100.8,976.8L104.1,977.2M117.7,976.8L121,976.8M134.5,976.8L137.8,976.8M151.3,976.8L154.6,976.8M168.2,976.8L171.5,976.8M185,976.8L188.3,976.8M201.8,976.8L205.1,976.8M218.7,976.8L222,976.8M235.5,976.8L238.8,976.8M252.3,976.8L255.6,976.8M269.2,976.8L272.5,976.8M286,976.8L289.3,976.8M302.8,976.8L306.1,976.8M319.7,976.8L323,976.8M336.5,976.8L339.8,976.8M353.3,976.8L356.6,976.8M370.2,976.8L373.5,976.8M50.9,993.6L51.7,993.6M67.8,993.6L69.1,993.6M84.6,993.6L85.9,993.6M100.8,993.6L104.1,994M117.7,993.6L121,993.6M134.5,993.6L137.8,993.6M151.3,993.6L154.6,993.6M168.2,993.6L171.5,993.6M185,993.6L188.3,993.6M201.8,993.6L205.1,993.6M218.7,993.6L222,993.6M235.5,993.6L238.8,993.6M252.3,993.6L255.6,993.6M269.2,993.6L272.5,993.6M286,993.6L289.3,993.6M302.8,993.6L306.1,993.6M319.7,993.6L323,993.6M336.5,993.6L339.8,993.6M353.3,993.6L356.6,993.6M370.2,993.6L373.5,993.6M50.9,1010.3L51.7,1010.3M67.8,1010.3L69.1,1010.3M84.6,1010.3L85.9,1010.3M101.4,1010.3L102.7,1010.3M118.3,1010.3L119.6,1010.3M135.1,1010.3L136.4,1010.3M151.9,1010.3L153.2,1010.3M168.8,1010.3L170.1,1010.3M185.6,1010.3L186.9,1010.3M202.4,1010.3L203.7,1010.3M219.3,1010.3L220.6,1010.3M236.1,1010.3L237.4,1010.3M252.3,1010.3L255.6,1010.3M269.2,1010.3L272.5,1010.3M286,1010.3L289.3,1010.3M302.8,1010.3L306.1,1010.3M319.7,1010.3L323,1010.3M336.5,1010.3L339.8,1010.3M353.3,1010.3L356.6,1010.3M370.2,1010.3L373.5,1010.3M50.9,1027.1L51.7,1027.1M67.8,1027.1L69.1,1027.1M84.6,1027.1L85.9,1027.1M101.4,1027.1L102.7,1027.1M118.3,1027.1L119.6,1027.1M135.1,1027.1L136.4,1027.1M151.9,1027.1L153.2,1027.1M168.8,1027.1L170.1,1027.1M185.6,1027.1L186.9,1027.1M202.4,1027.1L203.7,1027.1M219.3,1027.1L220.6,1027.1M236.1,1027.1L237.4,1027.1M252.9,1027.1L254.2,1027.1M269.8,1027.1L271.1,1027.1M286.6,1027.1L287.9,1027.1M303.4,1027.1L304.7,1027.1M320.3,1027.1L321.6,1027.1M337.1,1027.1L338.4,1027.1M353.9,1027.1L355.2,1027.1M370.8,1027.1L372.1,1027.1M50.9,1043.8L51.7,1043.8M67.8,1043.8L69.1,1043.8M84.6,1043.8L85.9,1043.8M101.4,1043.8L102.7,1043.8M118.3,1043.8L119.6,1043.8M135.1,1043.8L136.4,1043.8M151.9,1043.8L153.2,1043.8M168.8,1043.8L170.1,1043.8M185.6,1043.8L186.9,1043.8M202.4,1043.8L203.7,1043.8M219.3,1043.8L220.6,1043.8M236.1,1043.8L237.4,1043.8M252.9,1043.8L254.2,1043.8M269.8,1043.8L271.1,1043.8M286.6,1043.8L287.9,1043.8M303.4,1043.8L304.7,1043.8M320.3,1043.8L321.6,1043.8M337.1,1043.8L338.4,1043.8M353.9,1043.8L355.2,1043.8M370.8,1043.8L372.1,1043.8M50.9,1060.5L51.7,1060.5M67.8,1060.5L69.1,1060.5M84.6,1060.5L85.9,1060.5M101.4,1060.5L102.7,1060.5M118.3,1060.5L119.6,1060.5M135.1,1060.5L136.4,1060.5M151.9,1060.5L153.2,1060.5M168.8,1060.5L170.1,1060.5M185.6,1060.5L186.9,1060.5M202.4,1060.5L203.7,1060.5M219.3,1060.5L220.6,1060.5M236.1,1060.5L237.4,1060.5M252.9,1060.5L254.2,1060.5M269.8,1060.5L271.1,1060.5M286.6,1060.5L287.9,1060.5M303.4,1060.5L304.7,1060.5M320.3,1060.5L321.6,1060.5M337.1,1060.5L338.4,1060.5M353.9,1060.5L355.2,1060.5M370.8,1060.5L372.1,1060.5M50.9,1077.3L51.7,1077.3M67.8,1077.3L69.1,1077.3M84.6,1077.3L85.9,1077.3M101.4,1077.3L102.7,1077.3M118.3,1077.3L119.6,1077.3M135.1,1077.3L136.4,1077.3M151.9,1077.3L153.2,1077.3M168.8,1077.3L170.1,1077.3M185.6,1077.3L186.9,1077.3M202.4,1077.3L203.7,1077.3M219.3,1077.3L220.6,1077.3M236.1,1077.3L237.4,1077.3M252.9,1077.3L254.2,1077.3M269.8,1077.3L271.1,1077.3M286.6,1077.3L287.9,1077.3M303.4,1077.3L304.7,1077.3M320.3,1077.3L321.6,1077.3M337.1,1077.3L338.4,1077.3M353.9,1077.3L355.2,1077.3M370.8,1077.3L372.1,1077.3M50.9,1094L51.7,1094M67.8,1094L69.1,1094M84.6,1094L85.9,1094M101.4,1094L102.7,1094M118.3,1094L119.6,1094M135.1,1094L136.4,1094M151.9,1094L153.2,1094M168.8,1094L170.1,1094M185.6,1094L186.9,1094M202.4,1094L203.7,1094M219.3,1094L220.6,1094M236.1,1094L237.4,1094M252.9,1094L254.2,1094M269.8,1094L271.1,1094M286.6,1094L287.9,1094M303.4,1094L304.7,1094M320.3,1094L321.6,1094M337.1,1094L338.4,1094M353.9,1094L355.2,1094M370.8,1094L372.1,1094M50.9,1110.7L51.7,1110.7M67.8,1110.7L69.1,1110.7M84.6,1110.7L85.9,1110.7M101.4,1110.7L102.7,1110.7M118.3,1110.7L119.6,1110.7M135.1,1110.7L136.4,1110.7M151.9,1110.7L153.2,1110.7M168.8,1110.7L170.1,1110.7M185.6,1110.7L186.9,1110.7M202.4,1110.7L203.7,1110.7M219.3,1110.7L220.6,1110.7M236.1,1110.7L237.4,1110.7M252.9,1110.7L254.2,1110.7M269.8,1110.7L271.1,1110.7M286.6,1110.7L287.9,1110.7M303.4,1110.7L304.7,1110.7M320.3,1110.7L321.6,1110.7M337.1,1110.7L338.4,1110.7M353.9,1110.7L355.2,1110.7M370.8,1110.7L372.1,1110.7M50.9,1127.5L51.7,1127.5M67.8,1127.5L69.1,1127.5M84.6,1127.5L85.9,1127.5M101.4,1127.5L102.7,1127.5M118.3,1127.5L119.6,1127.5M135.1,1127.5L136.4,1127.5M151.9,1127.5L153.2,1127.5M168.8,1127.5L170.1,1127.5M185.6,1127.5L186.9,1127.5M202.4,1127.5L203.7,1127.5M219.3,1127.5L220.6,1127.5M236.1,1127.5L237.4,1127.5M252.9,1127.5L254.2,1127.5M269.8,1127.5L271.1,1127.5M286.6,1127.5L287.9,1127.5M303.4,1127.5L304.7,1127.5M320.3,1127.5L321.6,1127.5M337.1,1127.5L338.4,1127.5M353.9,1127.5L355.2,1127.5M370.8,1127.5L372.1,1127.5M50.9,1144.2L51.7,1144.2M67.8,1144.2L69.1,1144.2M84.6,1144.2L85.9,1144.2M101.4,1144.2L102.7,1144.2M118.3,1144.2L119.6,1144.2M135.1,1144.2L136.4,1144.2M151.9,1144.2L153.2,1144.2M168.8,1144.2L170.1,1144.2M185.6,1144.2L186.9,1144.2M202.4,1144.2L203.7,1144.2M219.3,1144.2L220.6,1144.2M236.1,1144.2L237.4,1144.2M252.9,1144.2L254.2,1144.2M269.8,1144.2L271.1,1144.2M286.6,1144.2L287.9,1144.2M303.4,1144.2L304.7,1144.2M320.3,1144.2L321.6,1144.2M337.1,1144.2L338.4,1144.2M353.9,1144.2L355.2,1144.2M370.8,1144.2L372.1,1144.2M50.9,1160.9L51.7,1160.9M67.8,1160.9L69.1,1160.9M84.6,1160.9L85.9,1160.9M101.4,1160.9L102.7,1160.9M118.3,1160.9L119.6,1160.9M135.1,1160.9L136.4,1160.9M151.9,1160.9L153.2,1160.9M168.8,1160.9L170.1,1160.9M185.6,1160.9L186.9,1160.9M202.4,1160.9L203.7,1160.9M219.3,1160.9L220.6,1160.9M236.1,1160.9L237.4,1160.9M252.9,1160.9L254.2,1160.9M269.8,1160.9L271.1,1160.9M286.6,1160.9L287.9,1160.9M303.4,1160.9L304.7,1160.9M320.3,1160.9L321.6,1160.9M337.1,1160.9L338.4,1160.9M353.9,1160.9L355.2,1160.9M370.8,1160.9L372.1,1160.9" stroke="#1a1a2c" stroke-width="0.7" fill="none"/>
<path d="M56.9,843L53.2,844.4L53.2,841.6ZM79,843L75.3,844.4L75.3,841.6ZM94.5,843L90.8,844.4L90.8,841.6ZM110,843L106.3,844.4L106.3,841.6ZM126.6,843L122.9,844.4L122.9,841.6ZM143.2,843L139.5,844.4L139.5,841.6ZM159.3,843L155.6,844.4L155.6,841.6ZM176.2,843L172.5,844.4L172.5,841.6ZM193,843L189.3,844.4L189.3,841.6ZM209.8,843L206.1,844.4L206.1,841.6ZM226.7,843L223,844.4L223,841.6ZM243.5,843L239.8,844.4L239.8,841.6ZM260.3,843L256.6,844.4L256.6,841.6ZM277.2,843L273.5,844.4L273.5,841.6ZM294,843L290.3,844.4L290.3,841.6ZM310.8,843L307.1,844.4L307.1,841.6ZM327.7,843L324,844.4L324,841.6ZM344.5,843L340.8,844.4L340.8,841.6ZM361.3,843L357.6,844.4L357.6,841.6ZM378.2,843L374.5,844.4L374.5,841.6ZM56.9,859.7L53.2,861.1L53.2,858.3ZM79,859.7L75.3,861.1L75.3,858.3ZM94.5,859.7L90.8,861.1L90.8,858.3ZM110,859.7L106.3,861.1L106.3,858.3ZM126.6,859.7L122.9,861.1L122.9,858.3ZM143.2,859.7L139.5,861.1L139.5,858.3ZM159.3,859.7L155.6,861.1L155.6,858.3ZM176.2,859.7L172.5,861.1L172.5,858.3ZM193,859.7L189.3,861.1L189.3,858.3ZM209.8,859.7L206.1,861.1L206.1,858.3ZM226.7,859.7L223,861.1L223,858.3ZM243.5,859.7L239.8,861.1L239.8,858.3ZM260.3,859.7L256.6,861.1L256.6,858.3ZM277.2,859.7L273.5,861.1L273.5,858.3ZM294,859.7L290.3,861.1L290.3,858.3ZM310.8,859.7L307.1,861.1L307.1,858.3ZM327.7,859.7L324,861.1L324,858.3ZM344.5,859.7L340.8,861.1L340.8,858.3ZM361.3,859.7L357.6,861.1L357.6,858.3ZM378.2,859.7L374.5,861.1L374.5,858.3ZM56.9,876.4L53.2,877.8L53.2,875ZM79,876.4L75.3,877.8L75.3,875ZM94.5,876.4L90.8,877.8L90.8,875ZM110,876.4L106.3,877.8L106.3,875ZM126.6,876.4L122.9,877.8L122.9,875ZM143.2,876.4L139.5,877.8L139.5,875ZM159.3,876.4L155.6,877.8L155.6,875ZM176.2,876.4L172.5,877.8L172.5,875ZM193,876.4L189.3,877.8L189.3,875ZM209.8,876.4L206.1,877.8L206.1,875ZM226.7,876.4L223,877.8L223,875ZM243.5,876.4L239.8,877.8L239.8,875ZM260.3,876.4L256.6,877.8L256.6,875ZM277.2,876.4L273.5,877.8L273.5,875ZM294,876.4L290.3,877.8L290.3,875ZM310.8,876.4L307.1,877.8L307.1,875ZM327.7,876.4L324,877.8L324,875ZM344.5,876.4L340.8,877.8L340.8,875ZM361.3,876.4L357.6,877.8L357.6,875ZM378.2,876.4L374.5,877.8L374.5,875ZM56.9,893.2L53.2,894.6L53.2,891.8ZM79,893.2L75.3,894.6L75.3,891.8ZM94.5,893.2L90.8,894.6L90.8,891.8ZM110,893.2L106.3,894.6L106.3,891.8ZM126.6,893.2L122.9,894.6L122.9,891.8ZM143.2,893.2L139.5,894.6L139.5,891.8ZM159.3,893.2L155.6,894.6L155.6,891.8ZM176.2,893.2L172.5,894.6L172.5,891.8ZM193,893.2L189.3,894.6L189.3,891.8ZM209.8,893.2L206.1,894.6L206.1,891.8ZM226.7,893.2L223,894.6L223,891.8ZM243.5,893.2L239.8,894.6L239.8,891.8ZM260.3,893.2L256.6,894.6L256.6,891.8ZM277.2,893.2L273.5,894.6L273.5,891.8ZM294,893.2L290.3,894.6L290.3,891.8ZM310.8,893.2L307.1,894.6L307.1,891.8ZM327.7,893.2L324,894.6L324,891.8ZM344.5,893.2L340.8,894.6L340.8,891.8ZM361.3,893.2L357.6,894.6L357.6,891.8ZM378.2,893.2L374.5,894.6L374.5,891.8ZM56.9,909.9L53.2,911.3L53.2,908.5ZM79,909.9L75.3,911.3L75.3,908.5ZM94.5,909.9L90.8,911.3L90.8,908.5ZM110,909.9L106.3,911.3L106.3,908.5ZM126.6,909.9L122.9,911.3L122.9,908.5ZM143.2,909.9L139.5,911.3L139.5,908.5ZM159.3,909.9L155.6,911.3L155.6,908.5ZM176.2,909.9L172.5,911.3L172.5,908.5ZM193,909.9L189.3,911.3L189.3,908.5ZM209.8,909.9L206.1,911.3L206.1,908.5ZM226.7,909.9L223,911.3L223,908.5ZM243.5,909.9L239.8,911.3L239.8,908.5ZM260.3,909.9L256.6,911.3L256.6,908.5ZM277.2,909.9L273.5,911.3L273.5,908.5ZM294,909.9L290.3,911.3L290.3,908.5ZM310.8,909.9L307.1,911.3L307.1,908.5ZM327.7,909.9L324,911.3L324,908.5ZM344.5,909.9L340.8,911.3L340.8,908.5ZM361.3,909.9L357.6,911.3L357.6,908.5ZM378.2,909.9L374.5,911.3L374.5,908.5ZM56.9,926.6L53.2,928L53.2,925.2ZM79,927.8L75.1,928.9L75.4,926.1ZM94.5,926.6L90.8,928L90.8,925.2ZM110,926.6L106.3,928L106.3,925.2ZM126.6,926.6L122.9,928L122.9,925.2ZM143.2,926.6L139.5,928L139.5,925.2ZM159.3,926.6L155.6,928L155.6,925.2ZM176.2,926.6L172.5,928L172.5,925.2ZM193,926.6L189.3,928L189.3,925.2ZM209.8,926.6L206.1,928L206.1,925.2ZM226.7,926.6L223,928L223,925.2ZM243.5,926.6L239.8,928L239.8,925.2ZM260.3,926.6L256.6,928L256.6,925.2ZM277.2,926.6L273.5,928L273.5,925.2ZM294,926.6L290.3,928L290.3,925.2ZM310.8,926.6L307.1,928L307.1,925.2ZM327.7,926.6L324,928L324,925.2ZM344.5,926.6L340.8,928L340.8,925.2ZM361.3,926.6L357.6,928L357.6,925.2ZM378.2,926.6L374.5,928L374.5,925.2ZM56.9,943.4L53.2,944.8L53.2,942ZM79,944.6L75.1,945.6L75.4,942.8ZM94.5,943.4L90.8,944.8L90.8,942ZM110,943.4L106.3,944.8L106.3,942ZM126.6,943.4L122.9,944.8L122.9,942ZM143.2,943.4L139.5,944.8L139.5,942ZM159.3,943.4L155.6,944.8L155.6,942ZM176.2,943.4L172.5,944.8L172.5,942ZM193,943.4L189.3,944.8L189.3,942ZM209.8,943.4L206.1,944.8L206.1,942ZM226.7,943.4L223,944.8L223,942ZM243.5,943.4L239.8,944.8L239.8,942ZM260.3,943.4L256.6,944.8L256.6,942ZM277.2,943.4L273.5,944.8L273.5,942ZM294,943.4L290.3,944.8L290.3,942ZM310.8,943.4L307.1,944.8L307.1,942ZM327.7,943.4L324,944.8L324,942ZM344.5,943.4L340.8,944.8L340.8,942ZM361.3,943.4L357.6,944.8L357.6,942ZM378.2,943.4L374.5,944.8L374.5,942ZM56.9,960.9L53.1,961.9L53.4,959.1ZM74.2,960.9L70.3,961.9L70.6,959.1ZM91,960.9L87.2,961.9L87.5,959.1ZM107.8,960.9L104,961.9L104.3,959.1ZM124.7,960.1L121,961.5L121,958.7ZM141.5,960.1L137.8,961.5L137.8,958.7ZM158.3,960.1L154.6,961.5L154.6,958.7ZM175.2,960.1L171.5,961.5L171.5,958.7ZM192,960.1L188.3,961.5L188.3,958.7ZM208.8,960.1L205.1,961.5L205.1,958.7ZM225.7,960.1L222,961.5L222,958.7ZM242.5,960.1L238.8,961.5L238.8,958.7ZM259.3,960.1L255.6,961.5L255.6,958.7ZM276.2,960.1L272.5,961.5L272.5,958.7ZM293,960.1L289.3,961.5L289.3,958.7ZM309.8,960.1L306.1,961.5L306.1,958.7ZM326.7,960.1L323,961.5L323,958.7ZM343.5,960.1L339.8,961.5L339.8,958.7ZM360.3,960.1L356.6,961.5L356.6,958.7ZM377.2,960.1L373.5,961.5L373.5,958.7ZM56.9,977.6L53.1,978.6L53.4,975.8ZM74.2,977.6L70.3,978.6L70.6,975.8ZM91,977.6L87.2,978.6L87.5,975.8ZM107.8,977.6L104,978.6L104.3,975.8ZM124.7,976.8L121,978.2L121,975.4ZM141.5,976.8L137.8,978.2L137.8,975.4ZM158.3,976.8L154.6,978.2L154.6,975.4ZM175.2,976.8L171.5,978.2L171.5,975.4ZM192,976.8L188.3,978.2L188.3,975.4ZM208.8,976.8L205.1,978.2L205.1,975.4ZM225.7,976.8L222,978.2L222,975.4ZM242.5,976.8L238.8,978.2L238.8,975.4ZM259.3,976.8L255.6,978.2L255.6,975.4ZM276.2,976.8L272.5,978.2L272.5,975.4ZM293,976.8L289.3,978.2L289.3,975.4ZM309.8,976.8L306.1,978.2L306.1,975.4ZM326.7,976.8L323,978.2L323,975.4ZM343.5,976.8L339.8,978.2L339.8,975.4ZM360.3,976.8L356.6,978.2L356.6,975.4ZM377.2,976.8L373.5,978.2L373.5,975.4ZM55.4,993.6L51.7,995L51.7,992.2ZM72.8,993.6L69.1,995L69.1,992.2ZM89.6,993.6L85.9,995L85.9,992.2ZM107.8,994.4L104,995.4L104.3,992.6ZM124.7,993.6L121,995L121,992.2ZM141.5,993.6L137.8,995L137.8,992.2ZM158.3,993.6L154.6,995L154.6,992.2ZM175.2,993.6L171.5,995L171.5,992.2ZM192,993.6L188.3,995L188.3,992.2ZM208.8,993.6L205.1,995L205.1,992.2ZM225.7,993.6L222,995L222,992.2ZM242.5,993.6L238.8,995L238.8,992.2ZM259.3,993.6L255.6,995L255.6,992.2ZM276.2,993.6L272.5,995L272.5,992.2ZM293,993.6L289.3,995L289.3,992.2ZM309.8,993.6L306.1,995L306.1,992.2ZM326.7,993.6L323,995L323,992.2ZM343.5,993.6L339.8,995L339.8,992.2ZM360.3,993.6L356.6,995L356.6,992.2ZM377.2,993.6L373.5,995L373.5,992.2ZM55.4,1010.3L51.7,1011.7L51.7,1008.9ZM72.8,1010.3L69.1,1011.7L69.1,1008.9ZM89.6,1010.3L85.9,1011.7L85.9,1008.9ZM106.4,1010.3L102.7,1011.7L102.7,1008.9ZM123.3,1010.3L119.6,1011.7L119.6,1008.9ZM140.1,1010.3L136.4,1011.7L136.4,1008.9ZM156.9,1010.3L153.2,1011.7L153.2,1008.9ZM173.8,1010.3L170.1,1011.7L170.1,1008.9ZM190.6,1010.3L186.9,1011.7L186.9,1008.9ZM207.4,1010.3L203.7,1011.7L203.7,1008.9ZM224.3,1010.3L220.6,1011.7L220.6,1008.9ZM241.1,1010.3L237.4,1011.7L237.4,1008.9ZM259.3,1010.3L255.6,1011.7L255.6,1008.9ZM276.2,1010.3L272.5,1011.7L272.5,1008.9ZM293,1010.3L289.3,1011.7L289.3,1008.9ZM309.8,1010.3L306.1,1011.7L306.1,1008.9ZM326.7,1010.3L323,1011.7L323,1008.9ZM343.5,1010.3L339.8,1011.7L339.8,1008.9ZM360.3,1010.3L356.6,1011.7L356.6,1008.9ZM377.2,1010.3L373.5,1011.7L373.5,1008.9ZM55.4,1027.1L51.7,1028.5L51.7,1025.7ZM72.8,1027.1L69.1,1028.5L69.1,1025.7ZM89.6,1027.1L85.9,1028.5L85.9,1025.7ZM106.4,1027.1L102.7,1028.5L102.7,1025.7ZM123.3,1027.1L119.6,1028.5L119.6,1025.7ZM140.1,1027.1L136.4,1028.5L136.4,1025.7ZM156.9,1027.1L153.2,1028.5L153.2,1025.7ZM173.8,1027.1L170.1,1028.5L170.1,1025.7ZM190.6,1027.1L186.9,1028.5L186.9,1025.7ZM207.4,1027.1L203.7,1028.5L203.7,1025.7ZM224.3,1027.1L220.6,1028.5L220.6,1025.7ZM241.1,1027.1L237.4,1028.5L237.4,1025.7ZM257.9,1027.1L254.2,1028.5L254.2,1025.7ZM274.8,1027.1L271.1,1028.5L271.1,1025.7ZM291.6,1027.1L287.9,1028.5L287.9,1025.7ZM308.4,1027.1L304.7,1028.5L304.7,1025.7ZM325.3,1027.1L321.6,1028.5L321.6,1025.7ZM342.1,1027.1L338.4,1028.5L338.4,1025.7ZM358.9,1027.1L355.2,1028.5L355.2,1025.7ZM375.8,1027.1L372.1,1028.5L372.1,1025.7ZM55.4,1043.8L51.7,1045.2L51.7,1042.4ZM72.8,1043.8L69.1,1045.2L69.1,1042.4ZM89.6,1043.8L85.9,1045.2L85.9,1042.4ZM106.4,1043.8L102.7,1045.2L102.7,1042.4ZM123.3,1043.8L119.6,1045.2L119.6,1042.4ZM140.1,1043.8L136.4,1045.2L136.4,1042.4ZM156.9,1043.8L153.2,1045.2L153.2,1042.4ZM173.8,1043.8L170.1,1045.2L170.1,1042.4ZM190.6,1043.8L186.9,1045.2L186.9,1042.4ZM207.4,1043.8L203.7,1045.2L203.7,1042.4ZM224.3,1043.8L220.6,1045.2L220.6,1042.4ZM241.1,1043.8L237.4,1045.2L237.4,1042.4ZM257.9,1043.8L254.2,1045.2L254.2,1042.4ZM274.8,1043.8L271.1,1045.2L271.1,1042.4ZM291.6,1043.8L287.9,1045.2L287.9,1042.4ZM308.4,1043.8L304.7,1045.2L304.7,1042.4ZM325.3,1043.8L321.6,1045.2L321.6,1042.4ZM342.1,1043.8L338.4,1045.2L338.4,1042.4ZM358.9,1043.8L355.2,1045.2L355.2,1042.4ZM375.8,1043.8L372.1,1045.2L372.1,1042.4ZM55.4,1060.5L51.7,1061.9L51.7,1059.1ZM72.8,1060.5L69.1,1061.9L69.1,1059.1ZM89.6,1060.5L85.9,1061.9L85.9,1059.1ZM106.4,1060.5L102.7,1061.9L102.7,1059.1ZM123.3,1060.5L119.6,1061.9L119.6,1059.1ZM140.1,1060.5L136.4,1061.9L136.4,1059.1ZM156.9,1060.5L153.2,1061.9L153.2,1059.1ZM173.8,1060.5L170.1,1061.9L170.1,1059.1ZM190.6,1060.5L186.9,1061.9L186.9,1059.1ZM207.4,1060.5L203.7,1061.9L203.7,1059.1ZM224.3,1060.5L220.6,1061.9L220.6,1059.1ZM241.1,1060.5L237.4,1061.9L237.4,1059.1ZM257.9,1060.5L254.2,1061.9L254.2,1059.1ZM274.8,1060.5L271.1,1061.9L271.1,1059.1ZM291.6,1060.5L287.9,1061.9L287.9,1059.1ZM308.4,1060.5L304.7,1061.9L304.7,1059.1ZM325.3,1060.5L321.6,1061.9L321.6,1059.1ZM342.1,1060.5L338.4,1061.9L338.4,1059.1ZM358.9,1060.5L355.2,1061.9L355.2,1059.1ZM375.8,1060.5L372.1,1061.9L372.1,1059.1ZM55.4,1077.3L51.7,1078.7L51.7,1075.9ZM72.8,1077.3L69.1,1078.7L69.1,1075.9ZM89.6,1077.3L85.9,1078.7L85.9,1075.9ZM106.4,1077.3L102.7,1078.7L102.7,1075.9ZM123.3,1077.3L119.6,1078.7L119.6,1075.9ZM140.1,1077.3L136.4,1078.7L136.4,1075.9ZM156.9,1077.3L153.2,1078.7L153.2,1075.9ZM173.8,1077.3L170.1,1078.7L170.1,1075.9ZM190.6,1077.3L186.9,1078.7L186.9,1075.9ZM207.4,1077.3L203.7,1078.7L203.7,1075.9ZM224.3,1077.3L220.6,1078.7L220.6,1075.9ZM241.1,1077.3L237.4,1078.7L237.4,1075.9ZM257.9,1077.3L254.2,1078.7L254.2,1075.9ZM274.8,1077.3L271.1,1078.7L271.1,1075.9ZM291.6,1077.3L287.9,1078.7L287.9,1075.9ZM308.4,1077.3L304.7,1078.7L304.7,1075.9ZM325.3,1077.3L321.6,1078.7L321.6,1075.9ZM342.1,1077.3L338.4,1078.7L338.4,1075.9ZM358.9,1077.3L355.2,1078.7L355.2,1075.9ZM375.8,1077.3L372.1,1078.7L372.1,1075.9ZM55.4,1094L51.7,1095.4L51.7,1092.6ZM72.8,1094L69.1,1095.4L69.1,1092.6ZM89.6,1094L85.9,1095.4L85.9,1092.6ZM106.4,1094L102.7,1095.4L102.7,1092.6ZM123.3,1094L119.6,1095.4L119.6,1092.6ZM140.1,1094L136.4,1095.4L136.4,1092.6ZM156.9,1094L153.2,1095.4L153.2,1092.6ZM173.8,1094L170.1,1095.4L170.1,1092.6ZM190.6,1094L186.9,1095.4L186.9,1092.6ZM207.4,1094L203.7,1095.4L203.7,1092.6ZM224.3,1094L220.6,1095.4L220.6,1092.6ZM241.1,1094L237.4,1095.4L237.4,1092.6ZM257.9,1094L254.2,1095.4L254.2,1092.6ZM274.8,1094L271.1,1095.4L271.1,1092.6ZM291.6,1094L287.9,1095.4L287.9,1092.6ZM308.4,1094L304.7,1095.4L304.7,1092.6ZM325.3,1094L321.6,1095.4L321.6,1092.6ZM342.1,1094L338.4,1095.4L338.4,1092.6ZM358.9,1094L355.2,1095.4L355.2,1092.6ZM375.8,1094L372.1,1095.4L372.1,1092.6ZM55.4,1110.7L51.7,1112.1L51.7,1109.3ZM72.8,1110.7L69.1,1112.1L69.1,1109.3ZM89.6,1110.7L85.9,1112.1L85.9,1109.3ZM106.4,1110.7L102.7,1112.1L102.7,1109.3ZM123.3,1110.7L119.6,1112.1L119.6,1109.3ZM140.1,1110.7L136.4,1112.1L136.4,1109.3ZM156.9,1110.7L153.2,1112.1L153.2,1109.3ZM173.8,1110.7L170.1,1112.1L170.1,1109.3ZM190.6,1110.7L186.9,1112.1L186.9,1109.3ZM207.4,1110.7L203.7,1112.1L203.7,1109.3ZM224.3,1110.7L220.6,1112.1L220.6,1109.3ZM241.1,1110.7L237.4,1112.1L237.4,1109.3ZM257.9,1110.7L254.2,1112.1L254.2,1109.3ZM274.8,1110.7L271.1,1112.1L271.1,1109.3ZM291.6,1110.7L287.9,1112.1L287.9,1109.3ZM308.4,1110.7L304.7,1112.1L304.7,1109.3ZM325.3,1110.7L321.6,1112.1L321.6,1109.3ZM342.1,1110.7L338.4,1112.1L338.4,1109.3ZM358.9,1110.7L355.2,1112.1L355.2,1109.3ZM375.8,1110.7L372.1,1112.1L372.1,1109.3ZM55.4,1127.5L51.7,1128.9L51.7,1126.1ZM72.8,1127.5L69.1,1128.9L69.1,1126.1ZM89.6,1127.5L85.9,1128.9L85.9,1126.1ZM106.4,1127.5L102.7,1128.9L102.7,1126.1ZM123.3,1127.5L119.6,1128.9L119.6,1126.1ZM140.1,1127.5L136.4,1128.9L136.4,1126.1ZM156.9,1127.5L153.2,1128.9L153.2,1126.1ZM173.8,1127.5L170.1,1128.9L170.1,1126.1ZM190.6,1127.5L186.9,1128.9L186.9,1126.1ZM207.4,1127.5L203.7,1128.9L203.7,1126.1ZM224.3,1127.5L220.6,1128.9L220.6,1126.1ZM241.1,1127.5L237.4,1128.9L237.4,1126.1ZM257.9,1127.5L254.2,1128.9L254.2,1126.1ZM274.8,1127.5L271.1,1128.9L271.1,1126.1ZM291.6,1127.5L287.9,1128.9L287.9,1126.1ZM308.4,1127.5L304.7,1128.9L304.7,1126.1ZM325.3,1127.5L321.6,1128.9L321.6,1126.1ZM342.1,1127.5L338.4,1128.9L338.4,1126.1ZM358.9,1127.5L355.2,1128.9L355.2,1126.1ZM375.8,1127.5L372.1,1128.9L372.1,1126.1ZM55.4,1144.2L51.7,1145.6L51.7,1142.8ZM72.8,1144.2L69.1,1145.6L69.1,1142.8ZM89.6,1144.2L85.9,1145.6L85.9,1142.8ZM106.4,1144.2L102.7,1145.6L102.7,1142.8ZM123.3,1144.2L119.6,1145.6L119.6,1142.8ZM140.1,1144.2L136.4,1145.6L136.4,1142.8ZM156.9,1144.2L153.2,1145.6L153.2,1142.8ZM173.8,1144.2L170.1,1145.6L170.1,1142.8ZM190.6,1144.2L186.9,1145.6L186.9,1142.8ZM207.4,1144.2L203.7,1145.6L203.7,1142.8ZM224.3,1144.2L220.6,1145.6L220.6,1142.8ZM241.1,1144.2L237.4,1145.6L237.4,1142.8ZM257.9,1144.2L254.2,1145.6L254.2,1142.8ZM274.8,1144.2L271.1,1145.6L271.1,1142.8ZM291.6,1144.2L287.9,1145.6L287.9,1142.8ZM308.4,1144.2L304.7,1145.6L304.7,1142.8ZM325.3,1144.2L321.6,1145.6L321.6,1142.8ZM342.1,1144.2L338.4,1145.6L338.4,1142.8ZM358.9,1144.2L355.2,1145.6L355.2,1142.8ZM375.8,1144.2L372.1,1145.6L372.1,1142.8ZM55.4,1160.9L51.7,1162.3L51.7,1159.5ZM72.8,1160.9L69.1,1162.3L69.1,1159.5ZM89.6,1160.9L85.9,1162.3L85.9,1159.5ZM106.4,1160.9L102.7,1162.3L102.7,1159.5ZM123.3,1160.9L119.6,1162.3L119.6,1159.5ZM140.1,1160.9L136.4,1162.3L136.4,1159.5ZM156.9,1160.9L153.2,1162.3L153.2,1159.5ZM173.8,1160.9L170.1,1162.3L170.1,1159.5ZM190.6,1160.9L186.9,1162.3L186.9,1159.5ZM207.4,1160.9L203.7,1162.3L203.7,1159.5ZM224.3,1160.9L220.6,1162.3L220.6,1159.5ZM241.1,1160.9L237.4,1162.3L237.4,1159.5ZM257.9,1160.9L254.2,1162.3L254.2,1159.5ZM274.8,1160.9L271.1,1162.3L271.1,1159.5ZM291.6,1160.9L287.9,1162.3L287.9,1159.5ZM308.4,1160.9L304.7,1162.3L304.7,1159.5ZM325.3,1160.9L321.6,1162.3L321.6,1159.5ZM342.1,1160.9L338.4,1162.3L338.4,1159.5ZM358.9,1160.9L355.2,1162.3L355.2,1159.5ZM375.8,1160.9L372.1,1162.3L372.1,1159.5Z" fill="#1a1a2c" stroke="#1a1a2c" stroke-width="0.5" stroke-linejoin="round"/>
<path d="M36,834.6L36,1169.3" stroke="#666" stroke-width="0.7" fill="none"/>
<path d="M33.5,834.6L36.3,834.6" stroke="#555" stroke-width="0.8" fill="none"/>
<path d="M33.5,1002L36.3,1002" stroke="#555" stroke-width="0.8" fill="none"/>
<path d="M33.5,1169.3L36.3,1169.3" stroke="#555" stroke-width="0.8" fill="none"/>
<path d="M40.3,1178.7L377,1178.7" stroke="#555" stroke-width="0.9" fill="none"/>
<path d="M40.3,1176.2L40.3,1181.2" stroke="#555" stroke-width="0.8" fill="none"/>
<path d="M74,1176.2L74,1181.2" stroke="#555" stroke-width="0.8" fill="none"/>
<path d="M107.6,1176.2L107.6,1181.2" stroke="#555" stroke-width="0.8" fill="none"/>
<path d="M141.3,1176.2L141.3,1181.2" stroke="#555" stroke-width="0.8" fill="none"/>
<path d="M175,1176.2L175,1181.2" stroke="#555" stroke-width="0.8" fill="none"/>
<path d="M208.6,1176.2L208.6,1181.2" stroke="#555" stroke-width="0.8" fill="none"/>
<path d="M242.3,1176.2L242.3,1181.2" stroke="#555" stroke-width="0.8" fill="none"/>
<path d="M276,1176.2L276,1181.2" stroke="#555" stroke-width="0.8" fill="none"/>
<path d="M309.7,1176.2L309.7,1181.2" stroke="#555" stroke-width="0.8" fill="none"/>
<path d="M343.3,1176.2L343.3,1181.2" stroke="#555" stroke-width="0.8" fill="none"/>
<path d="M377,1176.2L377,1181.2" stroke="#555" stroke-width="0.8" fill="none"/>
<text x="43.6" y="1190.4" font-size="9.8" stroke="#1a1a1a" stroke-width="0.22">0.0</text>
<text x="100.8" y="1190.4" font-size="9.8" stroke="#1a1a1a" stroke-width="0.22">.0002</text>
<text x="168.2" y="1190.4" font-size="9.8" stroke="#1a1a1a" stroke-width="0.22">.0004</text>
<text x="235.5" y="1190.4" font-size="9.8" stroke="#1a1a1a" stroke-width="0.22">.0006</text>
<text x="302.9" y="1190.4" font-size="9.8" stroke="#1a1a1a" stroke-width="0.22">.0008</text>
<text x="370.2" y="1190.4" font-size="9.8" stroke="#1a1a1a" stroke-width="0.22">.0010</text>
<text x="35.5" y="838.5" font-size="9.8" text-anchor="end" stroke="#1a1a1a" stroke-width="0.22">.0010</text>
<text x="26.6" y="1183.3" font-size="9.8" text-anchor="end" stroke="#1a1a1a" stroke-width="0.22">.0</text>
<text x="23.5" y="992" font-size="12" font-weight="bold" text-anchor="middle">z</text>
<text x="213" y="1200.5" font-size="12" font-weight="bold" text-anchor="middle">x</text>
<rect x="385.5" y="834.8" width="14.7" height="334.5" fill="url(#cb5)" stroke="#666" stroke-width="0.4"/>
<text x="407.4" y="835.3" font-size="9.4" font-weight="bold">22.9</text>
<path d="M385.5,890.5L400.2,890.5" stroke="#3a5a3a" stroke-width="0.8" fill="none"/>
<text x="407.4" y="891" font-size="9.4" font-weight="bold">20.6</text>
<path d="M385.5,946.3L400.2,946.3" stroke="#3a5a3a" stroke-width="0.8" fill="none"/>
<text x="407.4" y="946.8" font-size="9.4" font-weight="bold">18.3</text>
<path d="M385.5,1002L400.2,1002" stroke="#3a5a3a" stroke-width="0.8" fill="none"/>
<text x="407.4" y="1002.5" font-size="9.4" font-weight="bold">16.0</text>
<path d="M385.5,1057.8L400.2,1057.8" stroke="#3a5a3a" stroke-width="0.8" fill="none"/>
<text x="407.4" y="1058.3" font-size="9.4" font-weight="bold">13.8</text>
<path d="M385.5,1113.5L400.2,1113.5" stroke="#3a5a3a" stroke-width="0.8" fill="none"/>
<text x="407.4" y="1114" font-size="9.4" font-weight="bold">11.5</text>
<text x="409" y="1165.8" font-size="9.4" font-weight="bold">9.2</text>
<text x="186.5" y="803.8" font-size="11.4" font-weight="bold" text-anchor="middle" textLength="124.5" lengthAdjust="spacingAndGlyphs">x-velocity and vectors</text>
<text x="301" y="803.7" font-size="8.9" textLength="66.3" lengthAdjust="spacingAndGlyphs" stroke="#1a1a1a" stroke-width="0.15">(max=2.29E+01)</text>
<path d="M305,806.2L320.6,806.2M322.5,806.2L319.5,804.8L319.5,807.6Z" stroke="#222" stroke-width="0.5" fill="#222"/>
<text x="5" y="1222.8" font-size="7.2" textLength="219" lengthAdjust="spacingAndGlyphs" stroke="#1a1a1a" stroke-width="0.15" style="white-space:pre">FLOW-3D  t=4.4982869E-04   y=5.250E-04   ix=3 to 22   kz=2 to 21</text>
<text x="5" y="1228.8" font-size="7.2" textLength="230" lengthAdjust="spacingAndGlyphs" stroke="#1a1a1a" stroke-width="0.15" style="white-space:pre">13:34:38  10/31/2008 jbyh      hydr3d:   version  9.3   win32-ifl 2008</text>
<text x="5" y="1234.8" font-size="7.2" textLength="13.5" lengthAdjust="spacingAndGlyphs" stroke="#1a1a1a" stroke-width="0.15">Title</text>
<path d="M538.3,834.3L538.3,1169.3" stroke="#555" stroke-width="0.9" fill="none"/>
<path d="M535.7,1169.3L540.7,1169.3" stroke="#555" stroke-width="0.8" fill="none"/>
<text x="530.8" y="1170.7" font-size="9.4" font-weight="bold" text-anchor="end">11.0</text>
<path d="M535.7,1135.8L540.7,1135.8" stroke="#555" stroke-width="0.8" fill="none"/>
<path d="M535.7,1102.3L540.7,1102.3" stroke="#555" stroke-width="0.8" fill="none"/>
<text x="530.8" y="1105.6" font-size="9.4" font-weight="bold" text-anchor="end">12.0</text>
<path d="M535.7,1068.8L540.7,1068.8" stroke="#555" stroke-width="0.8" fill="none"/>
<path d="M535.7,1035.3L540.7,1035.3" stroke="#555" stroke-width="0.8" fill="none"/>
<text x="530.8" y="1038.6" font-size="9.4" font-weight="bold" text-anchor="end">13.0</text>
<path d="M535.7,1001.8L540.7,1001.8" stroke="#555" stroke-width="0.8" fill="none"/>
<path d="M535.7,968.3L540.7,968.3" stroke="#555" stroke-width="0.8" fill="none"/>
<text x="530.8" y="971.6" font-size="9.4" font-weight="bold" text-anchor="end">14.0</text>
<path d="M535.7,934.8L540.7,934.8" stroke="#555" stroke-width="0.8" fill="none"/>
<path d="M535.7,901.3L540.7,901.3" stroke="#555" stroke-width="0.8" fill="none"/>
<text x="530.8" y="904.6" font-size="9.4" font-weight="bold" text-anchor="end">15.0</text>
<path d="M535.7,867.8L540.7,867.8" stroke="#555" stroke-width="0.8" fill="none"/>
<path d="M535.7,834.3L540.7,834.3" stroke="#555" stroke-width="0.8" fill="none"/>
<text x="530.8" y="837.6" font-size="9.4" font-weight="bold" text-anchor="end">16.0</text>
<path d="M538.3,1169.3L874.6,1169.3" stroke="#555" stroke-width="0.9" fill="none"/>
<path d="M538.3,1166.8L538.3,1171.8" stroke="#555" stroke-width="0.8" fill="none"/>
<path d="M571.9,1166.8L571.9,1171.8" stroke="#555" stroke-width="0.8" fill="none"/>
<path d="M605.5,1166.8L605.5,1171.8" stroke="#555" stroke-width="0.8" fill="none"/>
<path d="M639.2,1166.8L639.2,1171.8" stroke="#555" stroke-width="0.8" fill="none"/>
<path d="M672.8,1166.8L672.8,1171.8" stroke="#555" stroke-width="0.8" fill="none"/>
<path d="M706.4,1166.8L706.4,1171.8" stroke="#555" stroke-width="0.8" fill="none"/>
<path d="M740,1166.8L740,1171.8" stroke="#555" stroke-width="0.8" fill="none"/>
<path d="M773.6,1166.8L773.6,1171.8" stroke="#555" stroke-width="0.8" fill="none"/>
<path d="M807.3,1166.8L807.3,1171.8" stroke="#555" stroke-width="0.8" fill="none"/>
<path d="M840.9,1166.8L840.9,1171.8" stroke="#555" stroke-width="0.8" fill="none"/>
<path d="M874.5,1166.8L874.5,1171.8" stroke="#555" stroke-width="0.8" fill="none"/>
<text x="540.6" y="1182.2" font-size="9.4" stroke="#1a1a1a" stroke-width="0.22">0.0</text>
<text x="599.5" y="1182.2" font-size="9.4" stroke="#1a1a1a" stroke-width="0.22">.0002</text>
<text x="666.8" y="1182.2" font-size="9.4" stroke="#1a1a1a" stroke-width="0.22">.0004</text>
<text x="734" y="1182.2" font-size="9.4" stroke="#1a1a1a" stroke-width="0.22">.0006</text>
<text x="801.3" y="1182.2" font-size="9.4" stroke="#1a1a1a" stroke-width="0.22">.0008</text>
<text x="868.5" y="1182.2" font-size="9.4" stroke="#1a1a1a" stroke-width="0.22">.0010</text>
<path d="M546.3,1153.7L562.9,1097.3L579.4,1093.6L610,1092.6L643,1091.7L658.3,1077.7L673.5,1020.1L690.1,980.9L722.7,1065.3L737.8,955.8L753.9,911.6L771.4,892.5L789,882L806.6,874.4L824.2,869.9L836.7,867.6L849.3,866.9" fill="none" stroke="#3a3a3a" stroke-width="0.8" stroke-linejoin="round"/>
<text x="698.8" y="816.5" font-size="11.5" font-weight="bold" text-anchor="middle" textLength="52.7" lengthAdjust="spacingAndGlyphs">x-velocity</text>
<text x="488.3" y="931.5" font-size="12" font-weight="bold" text-anchor="middle">x</text>
<text x="488.3" y="944.8" font-size="12" font-weight="bold" text-anchor="middle">-</text>
<text x="488.3" y="958" font-size="12" font-weight="bold" text-anchor="middle">v</text>
<text x="488.3" y="971.2" font-size="12" font-weight="bold" text-anchor="middle">e</text>
<text x="488.3" y="984.5" font-size="12" font-weight="bold" text-anchor="middle">l</text>
<text x="488.3" y="997.8" font-size="12" font-weight="bold" text-anchor="middle">o</text>
<text x="488.3" y="1011" font-size="12" font-weight="bold" text-anchor="middle">c</text>
<text x="488.3" y="1024.2" font-size="12" font-weight="bold" text-anchor="middle">i</text>
<text x="488.3" y="1037.5" font-size="12" font-weight="bold" text-anchor="middle">t</text>
<text x="488.3" y="1050.8" font-size="12" font-weight="bold" text-anchor="middle">y</text>
<text x="710" y="1192.5" font-size="12" font-weight="bold" text-anchor="middle">z</text>
<text x="468.6" y="1225.6" font-size="7.2" textLength="226.5" lengthAdjust="spacingAndGlyphs" stroke="#1a1a1a" stroke-width="0.15" style="white-space:pre">FLOW-3D  t=4.4982869E-04   y=5.250E-04   x=5.250E-04   kz=2 to 21</text>
<text x="468.6" y="1231.9" font-size="7.2" textLength="229" lengthAdjust="spacingAndGlyphs" stroke="#1a1a1a" stroke-width="0.15" style="white-space:pre">13:34:38  10/31/2008 jbyh      hydr3d:   version  9.3   win32-ifl 2008</text>
<text x="468.6" y="1238.2" font-size="7.2" textLength="13.5" lengthAdjust="spacingAndGlyphs" stroke="#1a1a1a" stroke-width="0.15">Title</text>
</g></svg>
</body></html>
